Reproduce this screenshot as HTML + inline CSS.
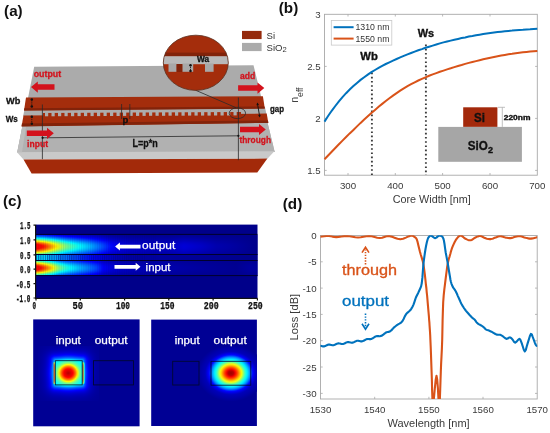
<!DOCTYPE html>
<html><head><meta charset="utf-8"><title>Figure</title>
<style>html,body{margin:0;padding:0;background:#fff;}svg{display:block;}</style>
</head><body>
<svg width="550" height="433" viewBox="0 0 550 433">
<rect width="550" height="433" fill="#fff"/>
<polygon fill="#ababab" points="34.2,66.7 253.5,65.3 274.7,152 17.2,152.4"/>
<polygon fill="#b1b1b1" points="22.9,124 267.1,121 274.7,152 17.2,152.4"/>
<polygon fill="#bdbdbd" points="22.3,126.3 26.2,126.1 22.0,152.2 17.3,152.4"/>
<polygon fill="#c9c9c9" points="17.2,152.4 274.4,151.2 267.4,158.8 23.5,159.6"/>
<polygon fill="#a32a0a" points="23.5,159.4 267.4,158.6 257.3,172.4 31.6,173.6"/>
<polygon fill="#adadad" points="24.5,109.5 265,107.5 266.5,114.5 23,116.5"/>
<polygon fill="#a42d0c" points="26,97.6 262.9,96.3 264.8,108.5 24,110.4"/>
<polygon fill="#82230a" points="24.3,108.2 264.5,106.5 264.8,108.6 24,110.5"/>
<polygon fill="#a42d0c" points="23.5,115.6 266.7,113.6 268.3,122.8 21.6,126.3"/>
<polygon fill="#82230a" points="21.9,123.6 268,120.4 268.3,122.9 21.6,126.4"/>
<polygon fill="#a42d0c" points="43,112.9 241,112.0 241,115.0 43,116.0"/>
<rect x="45.0" y="112.1" width="3.2" height="4.2" fill="#adadad"/>
<rect x="51.5" y="112.1" width="3.2" height="4.2" fill="#adadad"/>
<rect x="58.0" y="112.0" width="3.2" height="4.2" fill="#adadad"/>
<rect x="64.5" y="112.0" width="3.2" height="4.2" fill="#adadad"/>
<rect x="71.0" y="112.0" width="3.2" height="4.2" fill="#adadad"/>
<rect x="77.5" y="111.9" width="3.2" height="4.2" fill="#adadad"/>
<rect x="84.0" y="111.9" width="3.2" height="4.2" fill="#adadad"/>
<rect x="90.5" y="111.9" width="3.2" height="4.2" fill="#adadad"/>
<rect x="97.0" y="111.9" width="3.2" height="4.2" fill="#adadad"/>
<rect x="103.5" y="111.8" width="3.2" height="4.2" fill="#adadad"/>
<rect x="110.0" y="111.8" width="3.2" height="4.2" fill="#adadad"/>
<rect x="116.5" y="111.8" width="3.2" height="4.2" fill="#adadad"/>
<rect x="123.0" y="111.7" width="3.2" height="4.2" fill="#adadad"/>
<rect x="129.5" y="111.7" width="3.2" height="4.2" fill="#adadad"/>
<rect x="136.0" y="111.7" width="3.2" height="4.2" fill="#adadad"/>
<rect x="142.5" y="111.7" width="3.2" height="4.2" fill="#adadad"/>
<rect x="149.0" y="111.6" width="3.2" height="4.2" fill="#adadad"/>
<rect x="155.5" y="111.6" width="3.2" height="4.2" fill="#adadad"/>
<rect x="162.0" y="111.6" width="3.2" height="4.2" fill="#adadad"/>
<rect x="168.5" y="111.5" width="3.2" height="4.2" fill="#adadad"/>
<rect x="175.0" y="111.5" width="3.2" height="4.2" fill="#adadad"/>
<rect x="181.5" y="111.5" width="3.2" height="4.2" fill="#adadad"/>
<rect x="188.0" y="111.4" width="3.2" height="4.2" fill="#adadad"/>
<rect x="194.5" y="111.4" width="3.2" height="4.2" fill="#adadad"/>
<rect x="201.0" y="111.4" width="3.2" height="4.2" fill="#adadad"/>
<rect x="207.5" y="111.4" width="3.2" height="4.2" fill="#adadad"/>
<rect x="214.0" y="111.3" width="3.2" height="4.2" fill="#adadad"/>
<rect x="220.5" y="111.3" width="3.2" height="4.2" fill="#adadad"/>
<rect x="227.0" y="111.3" width="3.2" height="4.2" fill="#adadad"/>
<rect x="233.5" y="111.2" width="3.2" height="4.2" fill="#adadad"/>
<g stroke="#2a2a2a" stroke-width="0.8" fill="none">
<line x1="42.4" y1="104.5" x2="42.4" y2="159.2"/>
<line x1="238.4" y1="97.5" x2="238.4" y2="160.2"/>
<line x1="42.6" y1="137.8" x2="238.6" y2="135.8"/>
<line x1="195.5" y1="90.2" x2="236" y2="107.7"/>
<ellipse cx="237.4" cy="113.2" rx="8.2" ry="5.4"/>
<line x1="121.6" y1="104" x2="121.6" y2="119"/>
<line x1="129.8" y1="104" x2="129.8" y2="119"/>
</g>
<circle cx="42.6" cy="137.8" r="1.1" fill="#111"/>
<circle cx="238.4" cy="135.8" r="1.1" fill="#111"/>
<line x1="31.8" y1="99.6" x2="31.8" y2="106.6" stroke="#111" stroke-width="1" stroke-dasharray="1 1"/><circle cx="31.8" cy="99.6" r="1.25" fill="#111"/><circle cx="31.8" cy="106.6" r="1.25" fill="#111"/>
<line x1="31.8" y1="116.8" x2="31.8" y2="123.8" stroke="#111" stroke-width="1" stroke-dasharray="1 1"/><circle cx="31.8" cy="116.8" r="1.25" fill="#111"/><circle cx="31.8" cy="123.8" r="1.25" fill="#111"/>
<line x1="257.5" y1="103.9" x2="259.6" y2="116.1" stroke="#111" stroke-width="0.9"/>
<polygon fill="#111" points="257.3,102.4 256.4,105.2 259.0,104.8"/>
<polygon fill="#111" points="259.8,117.6 258.1,115.2 260.7,114.8"/>
<defs><clipPath id="zc"><ellipse cx="195.8" cy="62.8" rx="32.5" ry="27.6"/></clipPath></defs>
<g clip-path="url(#zc)">
<rect x="163" y="35" width="66" height="56" fill="#a42d0c"/>
<rect x="163" y="52.6" width="66" height="3.6" fill="#82230a"/>
<rect x="163" y="56.2" width="66" height="8" fill="#b9b9b9"/>
<rect x="168.5" y="63.5" width="8.1" height="8.3" fill="#a8a8a8"/>
<rect x="182.3" y="63.5" width="10.9" height="8.3" fill="#a8a8a8"/>
<rect x="205.0" y="63.5" width="8.6" height="8.3" fill="#a8a8a8"/>
<rect x="176.6" y="64" width="5.7" height="8" fill="#82230a"/>
</g>
<ellipse cx="195.8" cy="62.8" rx="32.5" ry="27.6" fill="none" stroke="#5a3020" stroke-width="0.8"/>
<line x1="190.5" y1="65.2" x2="190.5" y2="71.0" stroke="#111" stroke-width="1" stroke-dasharray="1 1"/><circle cx="190.5" cy="65.2" r="1.25" fill="#111"/><circle cx="190.5" cy="71.0" r="1.25" fill="#111"/>
<rect x="242" y="30.9" width="19.6" height="8.2" fill="#952a0c"/>
<rect x="242" y="42.9" width="19.6" height="8.2" fill="#ababab"/>
<polygon fill="#d3121c" points="54.5,84.3 37.8,84.3 37.8,81.5 31.0,87.1 37.8,92.7 37.8,89.8 54.5,89.8"/>
<polygon fill="#d3121c" points="238.1,85.3 257.5,85.3 257.5,82.5 264.3,88.1 257.5,93.7 257.5,90.8 238.1,90.8"/>
<polygon fill="#d3121c" points="26.8,130.6 47.0,130.6 47.0,127.7 53.8,133.3 47.0,138.9 47.0,136.1 26.8,136.1"/>
<polygon fill="#d3121c" points="240.0,126.8 259.0,126.8 259.0,123.9 265.8,129.5 259.0,135.1 259.0,132.2 240.0,132.2"/>
<g font-family="Liberation Sans, Arial, sans-serif" font-weight="bold" fill="#d3121c" stroke="#d3121c" stroke-width="0.3" font-size="9.6">
<text x="33.7" y="76.9" textLength="27.4" lengthAdjust="spacingAndGlyphs">output</text>
<text x="240" y="79" textLength="15.3" lengthAdjust="spacingAndGlyphs">add</text>
<text x="27.1" y="146.8" textLength="20.9" lengthAdjust="spacingAndGlyphs">input</text>
<text x="239.4" y="143" textLength="31.6" lengthAdjust="spacingAndGlyphs">through</text>
</g>
<g font-family="Liberation Sans, Arial, sans-serif" font-weight="bold" fill="#111" stroke="#111" stroke-width="0.3" font-size="9.6">
<text x="6.1" y="104.3" textLength="14.3" lengthAdjust="spacingAndGlyphs">Wb</text>
<text x="5.7" y="122.0" textLength="12.1" lengthAdjust="spacingAndGlyphs">Ws</text>
<text x="270" y="111.5" textLength="14" lengthAdjust="spacingAndGlyphs">gap</text>
<text x="132.6" y="147.4" font-size="10.6" textLength="25.2" lengthAdjust="spacingAndGlyphs">L=p*n</text>
<text x="122.6" y="122.9" font-size="9.5">p</text>
<text x="196.9" y="62" font-size="8.5" textLength="12.1" lengthAdjust="spacingAndGlyphs">Wa</text>
</g>
<g font-family="Liberation Sans, Arial, sans-serif" fill="#333" font-size="9.6">
<text x="266.5" y="39.2">Si</text>
<text x="266.5" y="51.2">SiO<tspan font-size="7.6" dy="0.6">2</tspan></text>
</g>
<text x="4.1" y="15.9" font-family="Liberation Sans, Arial, sans-serif" font-weight="bold" font-size="15.2" fill="#111">(a)</text>
<rect x="324.5" y="14.3" width="212.8" height="160.9" fill="#fff" stroke="#a8a8a8" stroke-width="0.9"/>
<path d="M348.0 175.2V173.0M348.0 14.3V16.5M395.3 175.2V173.0M395.3 14.3V16.5M442.6 175.2V173.0M442.6 14.3V16.5M490.0 175.2V173.0M490.0 14.3V16.5M324.5 170.4H326.7M537.3 170.4H535.1M324.5 118.4H326.7M537.3 118.4H535.1M324.5 66.4H326.7M537.3 66.4H535.1" stroke="#a8a8a8" stroke-width="0.8" fill="none"/>
<g stroke="#3c3c3c" stroke-width="1.9" stroke-dasharray="1.6 2.6">
<line x1="371.9" y1="72.6" x2="371.9" y2="175"/>
<line x1="425.9" y1="44.6" x2="425.9" y2="175"/>
</g>
<path d="M324.5 121.6L328.1 116.0L331.7 110.8L335.3 106.0L338.9 101.4L342.5 97.2L346.1 93.2L349.7 89.5L353.4 86.1L357.0 82.9L360.6 79.9L364.2 77.2L367.8 74.6L371.4 72.2L375.0 70.0L378.6 67.9L382.2 65.9L385.8 64.0L389.4 62.3L393.0 60.6L396.6 59.0L400.2 57.4L403.8 55.9L407.5 54.4L411.1 53.0L414.7 51.6L418.3 50.3L421.9 49.1L425.5 47.8L429.1 46.7L432.7 45.6L436.3 44.5L439.9 43.4L443.5 42.4L447.1 41.5L450.7 40.6L454.3 39.7L458.0 38.9L461.6 38.1L465.2 37.4L468.8 36.6L472.4 36.0L476.0 35.3L479.6 34.7L483.2 34.1L486.8 33.6L490.4 33.1L494.0 32.6L497.6 32.1L501.2 31.7L504.8 31.3L508.4 30.9L512.1 30.6L515.7 30.2L519.3 29.9L522.9 29.7L526.5 29.4L530.1 29.2L533.7 28.9L537.3 28.7" stroke="#0072bd" stroke-width="2" fill="none"/>
<path d="M324.5 159.2L328.1 155.5L331.7 151.7L335.3 148.0L338.9 144.3L342.5 140.6L346.1 137.0L349.7 133.4L353.4 129.9L357.0 126.4L360.6 122.9L364.2 119.6L367.8 116.3L371.4 113.0L375.0 109.9L378.6 106.8L382.2 103.9L385.8 101.0L389.4 98.3L393.0 95.6L396.6 93.1L400.2 90.7L403.8 88.4L407.5 86.2L411.1 84.2L414.7 82.3L418.3 80.5L421.9 78.9L425.5 77.3L429.1 75.8L432.7 74.4L436.3 73.1L439.9 71.8L443.5 70.6L447.1 69.4L450.7 68.3L454.3 67.1L458.0 66.0L461.6 65.0L465.2 63.9L468.8 62.9L472.4 62.0L476.0 61.1L479.6 60.2L483.2 59.3L486.8 58.5L490.4 57.7L494.0 57.0L497.6 56.3L501.2 55.6L504.8 54.9L508.4 54.3L512.1 53.8L515.7 53.2L519.3 52.7L522.9 52.3L526.5 51.9L530.1 51.5L533.7 51.2L537.3 50.9" stroke="#d95319" stroke-width="2" fill="none"/>
<rect x="331.3" y="20.5" width="60.5" height="24.6" fill="#fff" stroke="#c8c8c8" stroke-width="0.8"/>
<line x1="333.6" y1="27.2" x2="353.6" y2="27.2" stroke="#0072bd" stroke-width="2"/>
<line x1="333.6" y1="38.6" x2="353.6" y2="38.6" stroke="#d95319" stroke-width="2"/>
<g font-family="Liberation Sans, Arial, sans-serif" font-size="9" fill="#333">
<text x="355.5" y="30.4" textLength="34" lengthAdjust="spacingAndGlyphs">1310 nm</text>
<text x="355.5" y="41.8" textLength="34" lengthAdjust="spacingAndGlyphs">1550 nm</text>
</g>
<rect x="463.2" y="107.3" width="34.2" height="19.6" fill="#a3290b"/>
<rect x="438.3" y="126.9" width="83.6" height="34.9" fill="#a6a6a6"/>
<path d="M498 107.3H505M502.3 107.3V126.9" stroke="#b0b0b0" stroke-width="0.8" fill="none"/>
<g font-family="Liberation Sans, Arial, sans-serif" font-weight="bold" fill="#111" stroke="#111" stroke-width="0.35">
<text x="474.1" y="121.5" font-size="12.3" textLength="10.9" lengthAdjust="spacingAndGlyphs">Si</text>
<text x="467.7" y="150" font-size="12.7" textLength="20" lengthAdjust="spacingAndGlyphs">SiO</text>
<text x="488" y="153" font-size="9">2</text>
<text x="503.7" y="119.6" font-size="8" textLength="26.8" lengthAdjust="spacingAndGlyphs">220nm</text>
<text x="360.3" y="59.5" font-size="11" textLength="17.5" lengthAdjust="spacingAndGlyphs">Wb</text>
<text x="417.7" y="36.9" font-size="11.2" textLength="16.4" lengthAdjust="spacingAndGlyphs">Ws</text>
</g>
<g font-family="Liberation Sans, Arial, sans-serif" font-size="9.7" fill="#3a3a3a">
<text x="348.0" y="189" text-anchor="middle">300</text>
<text x="395.3" y="189" text-anchor="middle">400</text>
<text x="442.6" y="189" text-anchor="middle">500</text>
<text x="490.0" y="189" text-anchor="middle">600</text>
<text x="537.3" y="189" text-anchor="middle">700</text>
<text x="320.6" y="173.8" text-anchor="end">1.5</text>
<text x="320.6" y="121.8" text-anchor="end">2</text>
<text x="320.6" y="69.8" text-anchor="end">2.5</text>
<text x="320.6" y="17.8" text-anchor="end">3</text>
</g>
<text x="431.7" y="203" text-anchor="middle" font-family="Liberation Sans, Arial, sans-serif" font-size="10.8" fill="#3a3a3a">Core Width [nm]</text>
<text transform="translate(297.9,102.8) rotate(-90)" font-family="Liberation Sans, Arial, sans-serif" font-size="10.6" fill="#404040">n<tspan font-size="8.6" dy="4.8">eff</tspan></text>
<text x="278.8" y="12.6" font-family="Liberation Sans, Arial, sans-serif" font-weight="bold" font-size="15.2" fill="#111">(b)</text>
<rect x="36.0" y="224.6" width="221.5" height="73.7" fill="#00008a"/>
<defs><linearGradient id="r0" gradientUnits="userSpaceOnUse" x1="36.0" x2="257.5" y1="0" y2="0"><stop offset="0.000" stop-color="#003cff"/><stop offset="0.007" stop-color="#0039ff"/><stop offset="0.014" stop-color="#0036ff"/><stop offset="0.020" stop-color="#0033ff"/><stop offset="0.027" stop-color="#0030ff"/><stop offset="0.036" stop-color="#002cff"/><stop offset="0.045" stop-color="#0025ff"/><stop offset="0.054" stop-color="#001fff"/><stop offset="0.063" stop-color="#0018ff"/><stop offset="0.077" stop-color="#000eff"/><stop offset="0.090" stop-color="#0005ff"/><stop offset="0.104" stop-color="#0000fb"/><stop offset="0.117" stop-color="#0000f2"/><stop offset="0.135" stop-color="#0000e7"/><stop offset="0.153" stop-color="#0000e0"/><stop offset="0.172" stop-color="#0000d9"/><stop offset="0.194" stop-color="#0000d1"/><stop offset="0.217" stop-color="#0000ca"/><stop offset="0.244" stop-color="#0000c2"/><stop offset="0.271" stop-color="#0000b8"/><stop offset="0.302" stop-color="#0000ae"/><stop offset="0.339" stop-color="#0000a1"/><stop offset="0.379" stop-color="#00009b"/><stop offset="0.424" stop-color="#000097"/><stop offset="0.474" stop-color="#000096"/><stop offset="0.533" stop-color="#000094"/><stop offset="0.596" stop-color="#000094"/><stop offset="0.668" stop-color="#000098"/><stop offset="0.745" stop-color="#000095"/><stop offset="0.813" stop-color="#000090"/><stop offset="0.858" stop-color="#00008f"/><stop offset="0.903" stop-color="#00008e"/><stop offset="0.971" stop-color="#00008b"/><stop offset="1.000" stop-color="#00008a"/></linearGradient><linearGradient id="r1" gradientUnits="userSpaceOnUse" x1="36.0" x2="257.5" y1="0" y2="0"><stop offset="0.000" stop-color="#0078ff"/><stop offset="0.007" stop-color="#0074ff"/><stop offset="0.014" stop-color="#0070ff"/><stop offset="0.020" stop-color="#006cff"/><stop offset="0.027" stop-color="#0068ff"/><stop offset="0.036" stop-color="#0062ff"/><stop offset="0.045" stop-color="#0059ff"/><stop offset="0.054" stop-color="#0051ff"/><stop offset="0.063" stop-color="#0048ff"/><stop offset="0.077" stop-color="#003bff"/><stop offset="0.090" stop-color="#002eff"/><stop offset="0.104" stop-color="#0022ff"/><stop offset="0.117" stop-color="#0016ff"/><stop offset="0.135" stop-color="#0008ff"/><stop offset="0.153" stop-color="#0000fd"/><stop offset="0.172" stop-color="#0000f4"/><stop offset="0.194" stop-color="#0000e9"/><stop offset="0.217" stop-color="#0000e0"/><stop offset="0.244" stop-color="#0000d4"/><stop offset="0.271" stop-color="#0000c8"/><stop offset="0.302" stop-color="#0000ba"/><stop offset="0.339" stop-color="#0000a8"/><stop offset="0.379" stop-color="#0000a1"/><stop offset="0.424" stop-color="#00009c"/><stop offset="0.474" stop-color="#00009a"/><stop offset="0.533" stop-color="#000098"/><stop offset="0.596" stop-color="#000097"/><stop offset="0.668" stop-color="#00009d"/><stop offset="0.745" stop-color="#000098"/><stop offset="0.813" stop-color="#000093"/><stop offset="0.858" stop-color="#000091"/><stop offset="0.903" stop-color="#00008f"/><stop offset="0.971" stop-color="#00008b"/><stop offset="1.000" stop-color="#00008a"/></linearGradient><linearGradient id="r2" gradientUnits="userSpaceOnUse" x1="36.0" x2="257.5" y1="0" y2="0"><stop offset="0.000" stop-color="#00bfff"/><stop offset="0.007" stop-color="#00baff"/><stop offset="0.014" stop-color="#00b5ff"/><stop offset="0.020" stop-color="#00afff"/><stop offset="0.027" stop-color="#00aaff"/><stop offset="0.036" stop-color="#00a3ff"/><stop offset="0.045" stop-color="#0097ff"/><stop offset="0.054" stop-color="#008cff"/><stop offset="0.063" stop-color="#0081ff"/><stop offset="0.077" stop-color="#006fff"/><stop offset="0.090" stop-color="#005fff"/><stop offset="0.104" stop-color="#004fff"/><stop offset="0.117" stop-color="#0040ff"/><stop offset="0.135" stop-color="#002dff"/><stop offset="0.153" stop-color="#0021ff"/><stop offset="0.172" stop-color="#0014ff"/><stop offset="0.194" stop-color="#0007ff"/><stop offset="0.217" stop-color="#0000fa"/><stop offset="0.244" stop-color="#0000eb"/><stop offset="0.271" stop-color="#0000db"/><stop offset="0.302" stop-color="#0000c9"/><stop offset="0.339" stop-color="#0000b2"/><stop offset="0.379" stop-color="#0000a8"/><stop offset="0.424" stop-color="#0000a1"/><stop offset="0.474" stop-color="#00009e"/><stop offset="0.533" stop-color="#00009c"/><stop offset="0.596" stop-color="#00009b"/><stop offset="0.668" stop-color="#0000a3"/><stop offset="0.745" stop-color="#00009d"/><stop offset="0.813" stop-color="#000095"/><stop offset="0.858" stop-color="#000093"/><stop offset="0.903" stop-color="#000091"/><stop offset="0.971" stop-color="#00008c"/><stop offset="1.000" stop-color="#00008a"/></linearGradient><linearGradient id="r3" gradientUnits="userSpaceOnUse" x1="36.0" x2="257.5" y1="0" y2="0"><stop offset="0.000" stop-color="#12ffed"/><stop offset="0.007" stop-color="#0cfff3"/><stop offset="0.014" stop-color="#05fffa"/><stop offset="0.020" stop-color="#00fdff"/><stop offset="0.027" stop-color="#00f6ff"/><stop offset="0.036" stop-color="#00edff"/><stop offset="0.045" stop-color="#00dfff"/><stop offset="0.054" stop-color="#00d0ff"/><stop offset="0.063" stop-color="#00c2ff"/><stop offset="0.077" stop-color="#00acff"/><stop offset="0.090" stop-color="#0097ff"/><stop offset="0.104" stop-color="#0084ff"/><stop offset="0.117" stop-color="#0070ff"/><stop offset="0.135" stop-color="#0059ff"/><stop offset="0.153" stop-color="#0049ff"/><stop offset="0.172" stop-color="#0039ff"/><stop offset="0.194" stop-color="#0028ff"/><stop offset="0.217" stop-color="#0018ff"/><stop offset="0.244" stop-color="#0006ff"/><stop offset="0.271" stop-color="#0000f1"/><stop offset="0.302" stop-color="#0000d9"/><stop offset="0.339" stop-color="#0000bc"/><stop offset="0.379" stop-color="#0000af"/><stop offset="0.424" stop-color="#0000a7"/><stop offset="0.474" stop-color="#0000a4"/><stop offset="0.533" stop-color="#0000a1"/><stop offset="0.596" stop-color="#0000a0"/><stop offset="0.668" stop-color="#0000aa"/><stop offset="0.745" stop-color="#0000a2"/><stop offset="0.813" stop-color="#000098"/><stop offset="0.858" stop-color="#000096"/><stop offset="0.903" stop-color="#000093"/><stop offset="0.971" stop-color="#00008d"/><stop offset="1.000" stop-color="#00008a"/></linearGradient><linearGradient id="r4" gradientUnits="userSpaceOnUse" x1="36.0" x2="257.5" y1="0" y2="0"><stop offset="0.000" stop-color="#6dff92"/><stop offset="0.007" stop-color="#64ff9b"/><stop offset="0.014" stop-color="#5cffa3"/><stop offset="0.020" stop-color="#53ffac"/><stop offset="0.027" stop-color="#4bffb4"/><stop offset="0.036" stop-color="#40ffbf"/><stop offset="0.045" stop-color="#2effd1"/><stop offset="0.054" stop-color="#1cffe3"/><stop offset="0.063" stop-color="#0bfff4"/><stop offset="0.077" stop-color="#00efff"/><stop offset="0.090" stop-color="#00d5ff"/><stop offset="0.104" stop-color="#00bdff"/><stop offset="0.117" stop-color="#00a5ff"/><stop offset="0.135" stop-color="#0088ff"/><stop offset="0.153" stop-color="#0075ff"/><stop offset="0.172" stop-color="#0061ff"/><stop offset="0.194" stop-color="#004cff"/><stop offset="0.217" stop-color="#0039ff"/><stop offset="0.244" stop-color="#0022ff"/><stop offset="0.271" stop-color="#0009ff"/><stop offset="0.302" stop-color="#0000ec"/><stop offset="0.339" stop-color="#0000c8"/><stop offset="0.379" stop-color="#0000b8"/><stop offset="0.424" stop-color="#0000ae"/><stop offset="0.474" stop-color="#0000aa"/><stop offset="0.533" stop-color="#0000a7"/><stop offset="0.596" stop-color="#0000a5"/><stop offset="0.668" stop-color="#0000b1"/><stop offset="0.745" stop-color="#0000a8"/><stop offset="0.813" stop-color="#00009c"/><stop offset="0.858" stop-color="#000099"/><stop offset="0.903" stop-color="#000095"/><stop offset="0.971" stop-color="#00008d"/><stop offset="1.000" stop-color="#00008a"/></linearGradient><linearGradient id="r5" gradientUnits="userSpaceOnUse" x1="36.0" x2="257.5" y1="0" y2="0"><stop offset="0.000" stop-color="#cbff34"/><stop offset="0.007" stop-color="#c1ff3e"/><stop offset="0.014" stop-color="#b7ff48"/><stop offset="0.020" stop-color="#adff52"/><stop offset="0.027" stop-color="#a3ff5c"/><stop offset="0.036" stop-color="#96ff69"/><stop offset="0.045" stop-color="#81ff7e"/><stop offset="0.054" stop-color="#6bff94"/><stop offset="0.063" stop-color="#56ffa9"/><stop offset="0.077" stop-color="#36ffc9"/><stop offset="0.090" stop-color="#17ffe8"/><stop offset="0.104" stop-color="#00f9ff"/><stop offset="0.117" stop-color="#00ddff"/><stop offset="0.135" stop-color="#00baff"/><stop offset="0.153" stop-color="#00a3ff"/><stop offset="0.172" stop-color="#008bff"/><stop offset="0.194" stop-color="#0072ff"/><stop offset="0.217" stop-color="#005bff"/><stop offset="0.244" stop-color="#0040ff"/><stop offset="0.271" stop-color="#0022ff"/><stop offset="0.302" stop-color="#0000ff"/><stop offset="0.339" stop-color="#0000d4"/><stop offset="0.379" stop-color="#0000c1"/><stop offset="0.424" stop-color="#0000b5"/><stop offset="0.474" stop-color="#0000b0"/><stop offset="0.533" stop-color="#0000ad"/><stop offset="0.596" stop-color="#0000aa"/><stop offset="0.668" stop-color="#0000b9"/><stop offset="0.745" stop-color="#0000ad"/><stop offset="0.813" stop-color="#00009f"/><stop offset="0.858" stop-color="#00009c"/><stop offset="0.903" stop-color="#000097"/><stop offset="0.971" stop-color="#00008e"/><stop offset="1.000" stop-color="#00008a"/></linearGradient><linearGradient id="r6" gradientUnits="userSpaceOnUse" x1="36.0" x2="257.5" y1="0" y2="0"><stop offset="0.000" stop-color="#ffd400"/><stop offset="0.007" stop-color="#ffe000"/><stop offset="0.014" stop-color="#ffeb00"/><stop offset="0.020" stop-color="#fff700"/><stop offset="0.027" stop-color="#fbff04"/><stop offset="0.036" stop-color="#ecff13"/><stop offset="0.045" stop-color="#d3ff2c"/><stop offset="0.054" stop-color="#baff45"/><stop offset="0.063" stop-color="#a1ff5e"/><stop offset="0.077" stop-color="#7cff83"/><stop offset="0.090" stop-color="#58ffa7"/><stop offset="0.104" stop-color="#37ffc8"/><stop offset="0.117" stop-color="#15ffea"/><stop offset="0.135" stop-color="#00ecff"/><stop offset="0.153" stop-color="#00d1ff"/><stop offset="0.172" stop-color="#00b6ff"/><stop offset="0.194" stop-color="#0098ff"/><stop offset="0.217" stop-color="#007eff"/><stop offset="0.244" stop-color="#005eff"/><stop offset="0.271" stop-color="#003bff"/><stop offset="0.302" stop-color="#0013ff"/><stop offset="0.339" stop-color="#0000e1"/><stop offset="0.379" stop-color="#0000ca"/><stop offset="0.424" stop-color="#0000bc"/><stop offset="0.474" stop-color="#0000b7"/><stop offset="0.533" stop-color="#0000b2"/><stop offset="0.596" stop-color="#0000af"/><stop offset="0.668" stop-color="#0000c0"/><stop offset="0.745" stop-color="#0000b3"/><stop offset="0.813" stop-color="#0000a3"/><stop offset="0.858" stop-color="#00009f"/><stop offset="0.903" stop-color="#000099"/><stop offset="0.971" stop-color="#00008f"/><stop offset="1.000" stop-color="#00008a"/></linearGradient><linearGradient id="r7" gradientUnits="userSpaceOnUse" x1="36.0" x2="257.5" y1="0" y2="0"><stop offset="0.000" stop-color="#ff7b00"/><stop offset="0.007" stop-color="#ff8800"/><stop offset="0.014" stop-color="#ff9500"/><stop offset="0.020" stop-color="#ffa300"/><stop offset="0.027" stop-color="#ffb000"/><stop offset="0.036" stop-color="#ffc100"/><stop offset="0.045" stop-color="#ffde00"/><stop offset="0.054" stop-color="#fffa00"/><stop offset="0.063" stop-color="#e8ff17"/><stop offset="0.077" stop-color="#beff41"/><stop offset="0.090" stop-color="#95ff6a"/><stop offset="0.104" stop-color="#6fff90"/><stop offset="0.117" stop-color="#49ffb6"/><stop offset="0.135" stop-color="#1cffe3"/><stop offset="0.153" stop-color="#00fcff"/><stop offset="0.172" stop-color="#00ddff"/><stop offset="0.194" stop-color="#00bcff"/><stop offset="0.217" stop-color="#009eff"/><stop offset="0.244" stop-color="#007aff"/><stop offset="0.271" stop-color="#0053ff"/><stop offset="0.302" stop-color="#0025ff"/><stop offset="0.339" stop-color="#0000ec"/><stop offset="0.379" stop-color="#0000d3"/><stop offset="0.424" stop-color="#0000c3"/><stop offset="0.474" stop-color="#0000bc"/><stop offset="0.533" stop-color="#0000b8"/><stop offset="0.596" stop-color="#0000b4"/><stop offset="0.668" stop-color="#0000c8"/><stop offset="0.745" stop-color="#0000b9"/><stop offset="0.813" stop-color="#0000a6"/><stop offset="0.858" stop-color="#0000a1"/><stop offset="0.903" stop-color="#00009b"/><stop offset="0.971" stop-color="#00008f"/><stop offset="1.000" stop-color="#00008a"/></linearGradient><linearGradient id="r8" gradientUnits="userSpaceOnUse" x1="36.0" x2="257.5" y1="0" y2="0"><stop offset="0.000" stop-color="#ff2e00"/><stop offset="0.007" stop-color="#ff3c00"/><stop offset="0.014" stop-color="#ff4b00"/><stop offset="0.020" stop-color="#ff5900"/><stop offset="0.027" stop-color="#ff6800"/><stop offset="0.036" stop-color="#ff7b00"/><stop offset="0.045" stop-color="#ff9a00"/><stop offset="0.054" stop-color="#ffb900"/><stop offset="0.063" stop-color="#ffd800"/><stop offset="0.077" stop-color="#f7ff08"/><stop offset="0.090" stop-color="#caff35"/><stop offset="0.104" stop-color="#a1ff5e"/><stop offset="0.117" stop-color="#77ff88"/><stop offset="0.135" stop-color="#44ffbb"/><stop offset="0.153" stop-color="#23ffdc"/><stop offset="0.172" stop-color="#01fffe"/><stop offset="0.194" stop-color="#00dbff"/><stop offset="0.217" stop-color="#00baff"/><stop offset="0.244" stop-color="#0092ff"/><stop offset="0.271" stop-color="#0067ff"/><stop offset="0.302" stop-color="#0035ff"/><stop offset="0.339" stop-color="#0000f6"/><stop offset="0.379" stop-color="#0000da"/><stop offset="0.424" stop-color="#0000c9"/><stop offset="0.474" stop-color="#0000c2"/><stop offset="0.533" stop-color="#0000bc"/><stop offset="0.596" stop-color="#0000b9"/><stop offset="0.668" stop-color="#0000ce"/><stop offset="0.745" stop-color="#0000be"/><stop offset="0.813" stop-color="#0000a9"/><stop offset="0.858" stop-color="#0000a4"/><stop offset="0.903" stop-color="#00009d"/><stop offset="0.971" stop-color="#000090"/><stop offset="1.000" stop-color="#00008a"/></linearGradient><linearGradient id="r9" gradientUnits="userSpaceOnUse" x1="36.0" x2="257.5" y1="0" y2="0"><stop offset="0.000" stop-color="#ff0500"/><stop offset="0.007" stop-color="#ff0500"/><stop offset="0.014" stop-color="#ff1100"/><stop offset="0.020" stop-color="#ff2100"/><stop offset="0.027" stop-color="#ff3000"/><stop offset="0.036" stop-color="#ff4500"/><stop offset="0.045" stop-color="#ff6600"/><stop offset="0.054" stop-color="#ff8700"/><stop offset="0.063" stop-color="#ffa900"/><stop offset="0.077" stop-color="#ffda00"/><stop offset="0.090" stop-color="#f4ff0b"/><stop offset="0.104" stop-color="#c7ff38"/><stop offset="0.117" stop-color="#9aff65"/><stop offset="0.135" stop-color="#64ff9b"/><stop offset="0.153" stop-color="#40ffbf"/><stop offset="0.172" stop-color="#1cffe3"/><stop offset="0.194" stop-color="#00f3ff"/><stop offset="0.217" stop-color="#00d0ff"/><stop offset="0.244" stop-color="#00a5ff"/><stop offset="0.271" stop-color="#0077ff"/><stop offset="0.302" stop-color="#0041ff"/><stop offset="0.339" stop-color="#0000fe"/><stop offset="0.379" stop-color="#0000e0"/><stop offset="0.424" stop-color="#0000cd"/><stop offset="0.474" stop-color="#0000c6"/><stop offset="0.533" stop-color="#0000c0"/><stop offset="0.596" stop-color="#0000bc"/><stop offset="0.668" stop-color="#0000d3"/><stop offset="0.745" stop-color="#0000c1"/><stop offset="0.813" stop-color="#0000ac"/><stop offset="0.858" stop-color="#0000a6"/><stop offset="0.903" stop-color="#00009e"/><stop offset="0.971" stop-color="#000090"/><stop offset="1.000" stop-color="#00008a"/></linearGradient><linearGradient id="r10" gradientUnits="userSpaceOnUse" x1="36.0" x2="257.5" y1="0" y2="0"><stop offset="0.000" stop-color="#ff0500"/><stop offset="0.007" stop-color="#ff0500"/><stop offset="0.014" stop-color="#ff0500"/><stop offset="0.020" stop-color="#ff0500"/><stop offset="0.027" stop-color="#ff0d00"/><stop offset="0.036" stop-color="#ff2200"/><stop offset="0.045" stop-color="#ff4500"/><stop offset="0.054" stop-color="#ff6800"/><stop offset="0.063" stop-color="#ff8a00"/><stop offset="0.077" stop-color="#ffbe00"/><stop offset="0.090" stop-color="#fff000"/><stop offset="0.104" stop-color="#dfff20"/><stop offset="0.117" stop-color="#b0ff4f"/><stop offset="0.135" stop-color="#78ff87"/><stop offset="0.153" stop-color="#52ffad"/><stop offset="0.172" stop-color="#2dffd2"/><stop offset="0.194" stop-color="#03fffc"/><stop offset="0.217" stop-color="#00ddff"/><stop offset="0.244" stop-color="#00b1ff"/><stop offset="0.271" stop-color="#0081ff"/><stop offset="0.302" stop-color="#0049ff"/><stop offset="0.339" stop-color="#0004ff"/><stop offset="0.379" stop-color="#0000e4"/><stop offset="0.424" stop-color="#0000d0"/><stop offset="0.474" stop-color="#0000c8"/><stop offset="0.533" stop-color="#0000c2"/><stop offset="0.596" stop-color="#0000be"/><stop offset="0.668" stop-color="#0000d6"/><stop offset="0.745" stop-color="#0000c4"/><stop offset="0.813" stop-color="#0000ad"/><stop offset="0.858" stop-color="#0000a7"/><stop offset="0.903" stop-color="#00009f"/><stop offset="0.971" stop-color="#000090"/><stop offset="1.000" stop-color="#00008a"/></linearGradient><linearGradient id="r11" gradientUnits="userSpaceOnUse" x1="36.0" x2="257.5" y1="0" y2="0"><stop offset="0.000" stop-color="#ff0500"/><stop offset="0.007" stop-color="#ff0500"/><stop offset="0.014" stop-color="#ff0500"/><stop offset="0.020" stop-color="#ff0500"/><stop offset="0.027" stop-color="#ff0500"/><stop offset="0.036" stop-color="#ff1700"/><stop offset="0.045" stop-color="#ff3a00"/><stop offset="0.054" stop-color="#ff5d00"/><stop offset="0.063" stop-color="#ff8000"/><stop offset="0.077" stop-color="#ffb500"/><stop offset="0.090" stop-color="#ffe700"/><stop offset="0.104" stop-color="#e7ff18"/><stop offset="0.117" stop-color="#b8ff47"/><stop offset="0.135" stop-color="#7fff80"/><stop offset="0.153" stop-color="#59ffa6"/><stop offset="0.172" stop-color="#32ffcd"/><stop offset="0.194" stop-color="#09fff6"/><stop offset="0.217" stop-color="#00e2ff"/><stop offset="0.244" stop-color="#00b5ff"/><stop offset="0.271" stop-color="#0084ff"/><stop offset="0.302" stop-color="#004cff"/><stop offset="0.339" stop-color="#0006ff"/><stop offset="0.379" stop-color="#0000e5"/><stop offset="0.424" stop-color="#0000d1"/><stop offset="0.474" stop-color="#0000c9"/><stop offset="0.533" stop-color="#0000c3"/><stop offset="0.596" stop-color="#0000bf"/><stop offset="0.668" stop-color="#0000d7"/><stop offset="0.745" stop-color="#0000c5"/><stop offset="0.813" stop-color="#0000ae"/><stop offset="0.858" stop-color="#0000a7"/><stop offset="0.903" stop-color="#00009f"/><stop offset="0.971" stop-color="#000091"/><stop offset="1.000" stop-color="#00008a"/></linearGradient><linearGradient id="r12" gradientUnits="userSpaceOnUse" x1="36.0" x2="257.5" y1="0" y2="0"><stop offset="0.000" stop-color="#ff0500"/><stop offset="0.007" stop-color="#ff0500"/><stop offset="0.014" stop-color="#ff0500"/><stop offset="0.020" stop-color="#ff0500"/><stop offset="0.027" stop-color="#ff0a00"/><stop offset="0.036" stop-color="#ff2000"/><stop offset="0.045" stop-color="#ff4300"/><stop offset="0.054" stop-color="#ff6600"/><stop offset="0.063" stop-color="#ff8800"/><stop offset="0.077" stop-color="#ffbc00"/><stop offset="0.090" stop-color="#ffef00"/><stop offset="0.104" stop-color="#e1ff1e"/><stop offset="0.117" stop-color="#b2ff4d"/><stop offset="0.135" stop-color="#79ff86"/><stop offset="0.153" stop-color="#54ffab"/><stop offset="0.172" stop-color="#2effd1"/><stop offset="0.194" stop-color="#04fffb"/><stop offset="0.217" stop-color="#00deff"/><stop offset="0.244" stop-color="#00b2ff"/><stop offset="0.271" stop-color="#0082ff"/><stop offset="0.302" stop-color="#004aff"/><stop offset="0.339" stop-color="#0004ff"/><stop offset="0.379" stop-color="#0000e4"/><stop offset="0.424" stop-color="#0000d0"/><stop offset="0.474" stop-color="#0000c8"/><stop offset="0.533" stop-color="#0000c2"/><stop offset="0.596" stop-color="#0000be"/><stop offset="0.668" stop-color="#0000d6"/><stop offset="0.745" stop-color="#0000c4"/><stop offset="0.813" stop-color="#0000ad"/><stop offset="0.858" stop-color="#0000a7"/><stop offset="0.903" stop-color="#00009f"/><stop offset="0.971" stop-color="#000090"/><stop offset="1.000" stop-color="#00008a"/></linearGradient><linearGradient id="r13" gradientUnits="userSpaceOnUse" x1="36.0" x2="257.5" y1="0" y2="0"><stop offset="0.000" stop-color="#ff0500"/><stop offset="0.007" stop-color="#ff0500"/><stop offset="0.014" stop-color="#ff0700"/><stop offset="0.020" stop-color="#ff1700"/><stop offset="0.027" stop-color="#ff2700"/><stop offset="0.036" stop-color="#ff3c00"/><stop offset="0.045" stop-color="#ff5d00"/><stop offset="0.054" stop-color="#ff7f00"/><stop offset="0.063" stop-color="#ffa100"/><stop offset="0.077" stop-color="#ffd300"/><stop offset="0.090" stop-color="#faff05"/><stop offset="0.104" stop-color="#cdff32"/><stop offset="0.117" stop-color="#a0ff5f"/><stop offset="0.135" stop-color="#69ff96"/><stop offset="0.153" stop-color="#45ffba"/><stop offset="0.172" stop-color="#20ffdf"/><stop offset="0.194" stop-color="#00f7ff"/><stop offset="0.217" stop-color="#00d3ff"/><stop offset="0.244" stop-color="#00a8ff"/><stop offset="0.271" stop-color="#007aff"/><stop offset="0.302" stop-color="#0043ff"/><stop offset="0.339" stop-color="#0000ff"/><stop offset="0.379" stop-color="#0000e1"/><stop offset="0.424" stop-color="#0000ce"/><stop offset="0.474" stop-color="#0000c6"/><stop offset="0.533" stop-color="#0000c1"/><stop offset="0.596" stop-color="#0000bd"/><stop offset="0.668" stop-color="#0000d4"/><stop offset="0.745" stop-color="#0000c2"/><stop offset="0.813" stop-color="#0000ac"/><stop offset="0.858" stop-color="#0000a6"/><stop offset="0.903" stop-color="#00009e"/><stop offset="0.971" stop-color="#000090"/><stop offset="1.000" stop-color="#00008a"/></linearGradient><linearGradient id="r14" gradientUnits="userSpaceOnUse" x1="36.0" x2="257.5" y1="0" y2="0"><stop offset="0.000" stop-color="#ff1900"/><stop offset="0.007" stop-color="#ff2800"/><stop offset="0.014" stop-color="#ff3700"/><stop offset="0.020" stop-color="#ff4600"/><stop offset="0.027" stop-color="#ff5400"/><stop offset="0.036" stop-color="#ff6800"/><stop offset="0.045" stop-color="#ff8800"/><stop offset="0.054" stop-color="#ffa800"/><stop offset="0.063" stop-color="#ffc800"/><stop offset="0.077" stop-color="#fff700"/><stop offset="0.090" stop-color="#d9ff26"/><stop offset="0.104" stop-color="#aeff51"/><stop offset="0.117" stop-color="#83ff7c"/><stop offset="0.135" stop-color="#50ffaf"/><stop offset="0.153" stop-color="#2dffd2"/><stop offset="0.172" stop-color="#0afff5"/><stop offset="0.194" stop-color="#00e3ff"/><stop offset="0.217" stop-color="#00c1ff"/><stop offset="0.244" stop-color="#0099ff"/><stop offset="0.271" stop-color="#006dff"/><stop offset="0.302" stop-color="#0039ff"/><stop offset="0.339" stop-color="#0000f9"/><stop offset="0.379" stop-color="#0000dc"/><stop offset="0.424" stop-color="#0000ca"/><stop offset="0.474" stop-color="#0000c3"/><stop offset="0.533" stop-color="#0000be"/><stop offset="0.596" stop-color="#0000ba"/><stop offset="0.668" stop-color="#0000d0"/><stop offset="0.745" stop-color="#0000bf"/><stop offset="0.813" stop-color="#0000aa"/><stop offset="0.858" stop-color="#0000a4"/><stop offset="0.903" stop-color="#00009d"/><stop offset="0.971" stop-color="#000090"/><stop offset="1.000" stop-color="#00008a"/></linearGradient><linearGradient id="r15" gradientUnits="userSpaceOnUse" x1="36.0" x2="257.5" y1="0" y2="0"><stop offset="0.000" stop-color="#ff5900"/><stop offset="0.007" stop-color="#ff6700"/><stop offset="0.014" stop-color="#ff7400"/><stop offset="0.020" stop-color="#ff8200"/><stop offset="0.027" stop-color="#ff9000"/><stop offset="0.036" stop-color="#ffa200"/><stop offset="0.045" stop-color="#ffc000"/><stop offset="0.054" stop-color="#ffdd00"/><stop offset="0.063" stop-color="#fffa00"/><stop offset="0.077" stop-color="#d7ff28"/><stop offset="0.090" stop-color="#adff52"/><stop offset="0.104" stop-color="#85ff7a"/><stop offset="0.117" stop-color="#5dffa2"/><stop offset="0.135" stop-color="#2effd1"/><stop offset="0.153" stop-color="#0efff1"/><stop offset="0.172" stop-color="#00edff"/><stop offset="0.194" stop-color="#00caff"/><stop offset="0.217" stop-color="#00aaff"/><stop offset="0.244" stop-color="#0084ff"/><stop offset="0.271" stop-color="#005cff"/><stop offset="0.302" stop-color="#002cff"/><stop offset="0.339" stop-color="#0000f1"/><stop offset="0.379" stop-color="#0000d6"/><stop offset="0.424" stop-color="#0000c6"/><stop offset="0.474" stop-color="#0000bf"/><stop offset="0.533" stop-color="#0000ba"/><stop offset="0.596" stop-color="#0000b6"/><stop offset="0.668" stop-color="#0000ca"/><stop offset="0.745" stop-color="#0000bb"/><stop offset="0.813" stop-color="#0000a8"/><stop offset="0.858" stop-color="#0000a2"/><stop offset="0.903" stop-color="#00009c"/><stop offset="0.971" stop-color="#00008f"/><stop offset="1.000" stop-color="#00008a"/></linearGradient><linearGradient id="r16" gradientUnits="userSpaceOnUse" x1="36.0" x2="257.5" y1="0" y2="0"><stop offset="0.000" stop-color="#ffa400"/><stop offset="0.007" stop-color="#ffb100"/><stop offset="0.014" stop-color="#ffbd00"/><stop offset="0.020" stop-color="#ffca00"/><stop offset="0.027" stop-color="#ffd600"/><stop offset="0.036" stop-color="#ffe700"/><stop offset="0.045" stop-color="#fdff02"/><stop offset="0.054" stop-color="#e2ff1d"/><stop offset="0.063" stop-color="#c8ff37"/><stop offset="0.077" stop-color="#a0ff5f"/><stop offset="0.090" stop-color="#79ff86"/><stop offset="0.104" stop-color="#55ffaa"/><stop offset="0.117" stop-color="#31ffce"/><stop offset="0.135" stop-color="#06fff9"/><stop offset="0.153" stop-color="#00e8ff"/><stop offset="0.172" stop-color="#00cbff"/><stop offset="0.194" stop-color="#00abff"/><stop offset="0.217" stop-color="#008fff"/><stop offset="0.244" stop-color="#006dff"/><stop offset="0.271" stop-color="#0048ff"/><stop offset="0.302" stop-color="#001dff"/><stop offset="0.339" stop-color="#0000e7"/><stop offset="0.379" stop-color="#0000cf"/><stop offset="0.424" stop-color="#0000c0"/><stop offset="0.474" stop-color="#0000ba"/><stop offset="0.533" stop-color="#0000b5"/><stop offset="0.596" stop-color="#0000b2"/><stop offset="0.668" stop-color="#0000c4"/><stop offset="0.745" stop-color="#0000b6"/><stop offset="0.813" stop-color="#0000a5"/><stop offset="0.858" stop-color="#0000a0"/><stop offset="0.903" stop-color="#00009a"/><stop offset="0.971" stop-color="#00008f"/><stop offset="1.000" stop-color="#00008a"/></linearGradient><linearGradient id="r17" gradientUnits="userSpaceOnUse" x1="36.0" x2="257.5" y1="0" y2="0"><stop offset="0.000" stop-color="#fff700"/><stop offset="0.007" stop-color="#fcff03"/><stop offset="0.014" stop-color="#f1ff0e"/><stop offset="0.020" stop-color="#e6ff19"/><stop offset="0.027" stop-color="#dbff24"/><stop offset="0.036" stop-color="#cdff32"/><stop offset="0.045" stop-color="#b5ff4a"/><stop offset="0.054" stop-color="#9dff62"/><stop offset="0.063" stop-color="#86ff79"/><stop offset="0.077" stop-color="#63ff9c"/><stop offset="0.090" stop-color="#40ffbf"/><stop offset="0.104" stop-color="#21ffde"/><stop offset="0.117" stop-color="#01fffe"/><stop offset="0.135" stop-color="#00daff"/><stop offset="0.153" stop-color="#00c0ff"/><stop offset="0.172" stop-color="#00a6ff"/><stop offset="0.194" stop-color="#008aff"/><stop offset="0.217" stop-color="#0071ff"/><stop offset="0.244" stop-color="#0053ff"/><stop offset="0.271" stop-color="#0032ff"/><stop offset="0.302" stop-color="#000cff"/><stop offset="0.339" stop-color="#0000dc"/><stop offset="0.379" stop-color="#0000c7"/><stop offset="0.424" stop-color="#0000ba"/><stop offset="0.474" stop-color="#0000b4"/><stop offset="0.533" stop-color="#0000b0"/><stop offset="0.596" stop-color="#0000ad"/><stop offset="0.668" stop-color="#0000be"/><stop offset="0.745" stop-color="#0000b1"/><stop offset="0.813" stop-color="#0000a2"/><stop offset="0.858" stop-color="#00009d"/><stop offset="0.903" stop-color="#000098"/><stop offset="0.971" stop-color="#00008e"/><stop offset="1.000" stop-color="#00008a"/></linearGradient><linearGradient id="r18" gradientUnits="userSpaceOnUse" x1="36.0" x2="257.5" y1="0" y2="0"><stop offset="0.000" stop-color="#b2ff4d"/><stop offset="0.007" stop-color="#a9ff56"/><stop offset="0.014" stop-color="#9fff60"/><stop offset="0.020" stop-color="#95ff6a"/><stop offset="0.027" stop-color="#8cff73"/><stop offset="0.036" stop-color="#7fff80"/><stop offset="0.045" stop-color="#6bff94"/><stop offset="0.054" stop-color="#56ffa9"/><stop offset="0.063" stop-color="#42ffbd"/><stop offset="0.077" stop-color="#23ffdc"/><stop offset="0.090" stop-color="#06fff9"/><stop offset="0.104" stop-color="#00e9ff"/><stop offset="0.117" stop-color="#00ceff"/><stop offset="0.135" stop-color="#00adff"/><stop offset="0.153" stop-color="#0097ff"/><stop offset="0.172" stop-color="#0080ff"/><stop offset="0.194" stop-color="#0068ff"/><stop offset="0.217" stop-color="#0052ff"/><stop offset="0.244" stop-color="#0038ff"/><stop offset="0.271" stop-color="#001cff"/><stop offset="0.302" stop-color="#0000fa"/><stop offset="0.339" stop-color="#0000d1"/><stop offset="0.379" stop-color="#0000bf"/><stop offset="0.424" stop-color="#0000b3"/><stop offset="0.474" stop-color="#0000af"/><stop offset="0.533" stop-color="#0000ab"/><stop offset="0.596" stop-color="#0000a9"/><stop offset="0.668" stop-color="#0000b7"/><stop offset="0.745" stop-color="#0000ac"/><stop offset="0.813" stop-color="#00009f"/><stop offset="0.858" stop-color="#00009b"/><stop offset="0.903" stop-color="#000096"/><stop offset="0.971" stop-color="#00008e"/><stop offset="1.000" stop-color="#00008a"/></linearGradient><linearGradient id="r19" gradientUnits="userSpaceOnUse" x1="36.0" x2="257.5" y1="0" y2="0"><stop offset="0.000" stop-color="#00008a"/><stop offset="0.007" stop-color="#00008a"/><stop offset="0.014" stop-color="#00008a"/><stop offset="0.020" stop-color="#00008a"/><stop offset="0.027" stop-color="#00008a"/><stop offset="0.036" stop-color="#00008a"/><stop offset="0.045" stop-color="#00008a"/><stop offset="0.054" stop-color="#00008a"/><stop offset="0.063" stop-color="#00008a"/><stop offset="0.077" stop-color="#00008a"/><stop offset="0.090" stop-color="#00008a"/><stop offset="0.104" stop-color="#00008a"/><stop offset="0.117" stop-color="#00008a"/><stop offset="0.135" stop-color="#00008a"/><stop offset="0.153" stop-color="#00008a"/><stop offset="0.172" stop-color="#00008a"/><stop offset="0.194" stop-color="#00008a"/><stop offset="0.217" stop-color="#00008a"/><stop offset="0.244" stop-color="#00008a"/><stop offset="0.271" stop-color="#00008a"/><stop offset="0.302" stop-color="#00008a"/><stop offset="0.339" stop-color="#00008a"/><stop offset="0.379" stop-color="#00008a"/><stop offset="0.424" stop-color="#00008a"/><stop offset="0.474" stop-color="#00008a"/><stop offset="0.533" stop-color="#00008a"/><stop offset="0.596" stop-color="#00008a"/><stop offset="0.668" stop-color="#00008a"/><stop offset="0.745" stop-color="#00008a"/><stop offset="0.813" stop-color="#00008a"/><stop offset="0.858" stop-color="#00008a"/><stop offset="0.903" stop-color="#00008a"/><stop offset="0.971" stop-color="#00008a"/><stop offset="1.000" stop-color="#00008a"/></linearGradient><linearGradient id="r20" gradientUnits="userSpaceOnUse" x1="36.0" x2="257.5" y1="0" y2="0"><stop offset="0.000" stop-color="#00fbff"/><stop offset="0.007" stop-color="#00f6ff"/><stop offset="0.014" stop-color="#00f1ff"/><stop offset="0.020" stop-color="#00ebff"/><stop offset="0.027" stop-color="#00e6ff"/><stop offset="0.036" stop-color="#00dfff"/><stop offset="0.045" stop-color="#00d8ff"/><stop offset="0.054" stop-color="#00cfff"/><stop offset="0.063" stop-color="#00c5ff"/><stop offset="0.077" stop-color="#00b7ff"/><stop offset="0.090" stop-color="#00a9ff"/><stop offset="0.104" stop-color="#009bff"/><stop offset="0.117" stop-color="#008dff"/><stop offset="0.135" stop-color="#007aff"/><stop offset="0.153" stop-color="#0068ff"/><stop offset="0.172" stop-color="#0055ff"/><stop offset="0.194" stop-color="#003eff"/><stop offset="0.217" stop-color="#0026ff"/><stop offset="0.244" stop-color="#000aff"/><stop offset="0.271" stop-color="#0000f3"/><stop offset="0.302" stop-color="#0000da"/><stop offset="0.339" stop-color="#0000c5"/><stop offset="0.379" stop-color="#0000b1"/><stop offset="0.424" stop-color="#0000a3"/><stop offset="0.474" stop-color="#0000a1"/><stop offset="0.533" stop-color="#00009e"/><stop offset="0.596" stop-color="#00009c"/><stop offset="0.668" stop-color="#000098"/><stop offset="0.745" stop-color="#000095"/><stop offset="0.813" stop-color="#000092"/><stop offset="0.858" stop-color="#000090"/><stop offset="0.903" stop-color="#00008e"/><stop offset="0.971" stop-color="#00008b"/><stop offset="1.000" stop-color="#00008a"/></linearGradient><linearGradient id="r21" gradientUnits="userSpaceOnUse" x1="36.0" x2="257.5" y1="0" y2="0"><stop offset="0.000" stop-color="#00fbff"/><stop offset="0.007" stop-color="#00f6ff"/><stop offset="0.014" stop-color="#00f1ff"/><stop offset="0.020" stop-color="#00ebff"/><stop offset="0.027" stop-color="#00e6ff"/><stop offset="0.036" stop-color="#00dfff"/><stop offset="0.045" stop-color="#00d8ff"/><stop offset="0.054" stop-color="#00cfff"/><stop offset="0.063" stop-color="#00c5ff"/><stop offset="0.077" stop-color="#00b7ff"/><stop offset="0.090" stop-color="#00a9ff"/><stop offset="0.104" stop-color="#009bff"/><stop offset="0.117" stop-color="#008dff"/><stop offset="0.135" stop-color="#007aff"/><stop offset="0.153" stop-color="#0068ff"/><stop offset="0.172" stop-color="#0055ff"/><stop offset="0.194" stop-color="#003eff"/><stop offset="0.217" stop-color="#0026ff"/><stop offset="0.244" stop-color="#000aff"/><stop offset="0.271" stop-color="#0000f3"/><stop offset="0.302" stop-color="#0000da"/><stop offset="0.339" stop-color="#0000c5"/><stop offset="0.379" stop-color="#0000b1"/><stop offset="0.424" stop-color="#0000a3"/><stop offset="0.474" stop-color="#0000a1"/><stop offset="0.533" stop-color="#00009e"/><stop offset="0.596" stop-color="#00009c"/><stop offset="0.668" stop-color="#000098"/><stop offset="0.745" stop-color="#000095"/><stop offset="0.813" stop-color="#000092"/><stop offset="0.858" stop-color="#000090"/><stop offset="0.903" stop-color="#00008e"/><stop offset="0.971" stop-color="#00008b"/><stop offset="1.000" stop-color="#00008a"/></linearGradient><linearGradient id="r22" gradientUnits="userSpaceOnUse" x1="36.0" x2="257.5" y1="0" y2="0"><stop offset="0.000" stop-color="#00fbff"/><stop offset="0.007" stop-color="#00f6ff"/><stop offset="0.014" stop-color="#00f1ff"/><stop offset="0.020" stop-color="#00ebff"/><stop offset="0.027" stop-color="#00e6ff"/><stop offset="0.036" stop-color="#00dfff"/><stop offset="0.045" stop-color="#00d8ff"/><stop offset="0.054" stop-color="#00cfff"/><stop offset="0.063" stop-color="#00c5ff"/><stop offset="0.077" stop-color="#00b7ff"/><stop offset="0.090" stop-color="#00a9ff"/><stop offset="0.104" stop-color="#009bff"/><stop offset="0.117" stop-color="#008dff"/><stop offset="0.135" stop-color="#007aff"/><stop offset="0.153" stop-color="#0068ff"/><stop offset="0.172" stop-color="#0055ff"/><stop offset="0.194" stop-color="#003eff"/><stop offset="0.217" stop-color="#0026ff"/><stop offset="0.244" stop-color="#000aff"/><stop offset="0.271" stop-color="#0000f3"/><stop offset="0.302" stop-color="#0000da"/><stop offset="0.339" stop-color="#0000c5"/><stop offset="0.379" stop-color="#0000b1"/><stop offset="0.424" stop-color="#0000a3"/><stop offset="0.474" stop-color="#0000a1"/><stop offset="0.533" stop-color="#00009e"/><stop offset="0.596" stop-color="#00009c"/><stop offset="0.668" stop-color="#000098"/><stop offset="0.745" stop-color="#000095"/><stop offset="0.813" stop-color="#000092"/><stop offset="0.858" stop-color="#000090"/><stop offset="0.903" stop-color="#00008e"/><stop offset="0.971" stop-color="#00008b"/><stop offset="1.000" stop-color="#00008a"/></linearGradient><linearGradient id="r23" gradientUnits="userSpaceOnUse" x1="36.0" x2="257.5" y1="0" y2="0"><stop offset="0.000" stop-color="#00fbff"/><stop offset="0.007" stop-color="#00f6ff"/><stop offset="0.014" stop-color="#00f1ff"/><stop offset="0.020" stop-color="#00ebff"/><stop offset="0.027" stop-color="#00e6ff"/><stop offset="0.036" stop-color="#00dfff"/><stop offset="0.045" stop-color="#00d8ff"/><stop offset="0.054" stop-color="#00cfff"/><stop offset="0.063" stop-color="#00c5ff"/><stop offset="0.077" stop-color="#00b7ff"/><stop offset="0.090" stop-color="#00a9ff"/><stop offset="0.104" stop-color="#009bff"/><stop offset="0.117" stop-color="#008dff"/><stop offset="0.135" stop-color="#007aff"/><stop offset="0.153" stop-color="#0068ff"/><stop offset="0.172" stop-color="#0055ff"/><stop offset="0.194" stop-color="#003eff"/><stop offset="0.217" stop-color="#0026ff"/><stop offset="0.244" stop-color="#000aff"/><stop offset="0.271" stop-color="#0000f3"/><stop offset="0.302" stop-color="#0000da"/><stop offset="0.339" stop-color="#0000c5"/><stop offset="0.379" stop-color="#0000b1"/><stop offset="0.424" stop-color="#0000a3"/><stop offset="0.474" stop-color="#0000a1"/><stop offset="0.533" stop-color="#00009e"/><stop offset="0.596" stop-color="#00009c"/><stop offset="0.668" stop-color="#000098"/><stop offset="0.745" stop-color="#000095"/><stop offset="0.813" stop-color="#000092"/><stop offset="0.858" stop-color="#000090"/><stop offset="0.903" stop-color="#00008e"/><stop offset="0.971" stop-color="#00008b"/><stop offset="1.000" stop-color="#00008a"/></linearGradient><linearGradient id="r24" gradientUnits="userSpaceOnUse" x1="36.0" x2="257.5" y1="0" y2="0"><stop offset="0.000" stop-color="#00fbff"/><stop offset="0.007" stop-color="#00f6ff"/><stop offset="0.014" stop-color="#00f1ff"/><stop offset="0.020" stop-color="#00ebff"/><stop offset="0.027" stop-color="#00e6ff"/><stop offset="0.036" stop-color="#00dfff"/><stop offset="0.045" stop-color="#00d8ff"/><stop offset="0.054" stop-color="#00cfff"/><stop offset="0.063" stop-color="#00c5ff"/><stop offset="0.077" stop-color="#00b7ff"/><stop offset="0.090" stop-color="#00a9ff"/><stop offset="0.104" stop-color="#009bff"/><stop offset="0.117" stop-color="#008dff"/><stop offset="0.135" stop-color="#007aff"/><stop offset="0.153" stop-color="#0068ff"/><stop offset="0.172" stop-color="#0055ff"/><stop offset="0.194" stop-color="#003eff"/><stop offset="0.217" stop-color="#0026ff"/><stop offset="0.244" stop-color="#000aff"/><stop offset="0.271" stop-color="#0000f3"/><stop offset="0.302" stop-color="#0000da"/><stop offset="0.339" stop-color="#0000c5"/><stop offset="0.379" stop-color="#0000b1"/><stop offset="0.424" stop-color="#0000a3"/><stop offset="0.474" stop-color="#0000a1"/><stop offset="0.533" stop-color="#00009e"/><stop offset="0.596" stop-color="#00009c"/><stop offset="0.668" stop-color="#000098"/><stop offset="0.745" stop-color="#000095"/><stop offset="0.813" stop-color="#000092"/><stop offset="0.858" stop-color="#000090"/><stop offset="0.903" stop-color="#00008e"/><stop offset="0.971" stop-color="#00008b"/><stop offset="1.000" stop-color="#00008a"/></linearGradient><linearGradient id="r25" gradientUnits="userSpaceOnUse" x1="36.0" x2="257.5" y1="0" y2="0"><stop offset="0.000" stop-color="#00008a"/><stop offset="0.007" stop-color="#00008a"/><stop offset="0.014" stop-color="#00008a"/><stop offset="0.020" stop-color="#00008a"/><stop offset="0.027" stop-color="#00008a"/><stop offset="0.036" stop-color="#00008a"/><stop offset="0.045" stop-color="#00008a"/><stop offset="0.054" stop-color="#00008a"/><stop offset="0.063" stop-color="#00008a"/><stop offset="0.077" stop-color="#00008a"/><stop offset="0.090" stop-color="#00008a"/><stop offset="0.104" stop-color="#00008a"/><stop offset="0.117" stop-color="#00008a"/><stop offset="0.135" stop-color="#00008a"/><stop offset="0.153" stop-color="#00008a"/><stop offset="0.172" stop-color="#00008a"/><stop offset="0.194" stop-color="#00008a"/><stop offset="0.217" stop-color="#00008a"/><stop offset="0.244" stop-color="#00008a"/><stop offset="0.271" stop-color="#00008a"/><stop offset="0.302" stop-color="#00008a"/><stop offset="0.339" stop-color="#00008a"/><stop offset="0.379" stop-color="#00008a"/><stop offset="0.424" stop-color="#00008a"/><stop offset="0.474" stop-color="#00008a"/><stop offset="0.533" stop-color="#00008a"/><stop offset="0.596" stop-color="#00008a"/><stop offset="0.668" stop-color="#00008a"/><stop offset="0.745" stop-color="#00008a"/><stop offset="0.813" stop-color="#00008a"/><stop offset="0.858" stop-color="#00008a"/><stop offset="0.903" stop-color="#00008a"/><stop offset="0.971" stop-color="#00008a"/><stop offset="1.000" stop-color="#00008a"/></linearGradient><linearGradient id="r26" gradientUnits="userSpaceOnUse" x1="36.0" x2="257.5" y1="0" y2="0"><stop offset="0.000" stop-color="#75ff8a"/><stop offset="0.007" stop-color="#6aff95"/><stop offset="0.014" stop-color="#5fffa0"/><stop offset="0.020" stop-color="#53ffac"/><stop offset="0.027" stop-color="#48ffb7"/><stop offset="0.036" stop-color="#34ffcb"/><stop offset="0.045" stop-color="#20ffdf"/><stop offset="0.054" stop-color="#0cfff3"/><stop offset="0.063" stop-color="#00f7ff"/><stop offset="0.077" stop-color="#00d7ff"/><stop offset="0.090" stop-color="#00b1ff"/><stop offset="0.104" stop-color="#008eff"/><stop offset="0.117" stop-color="#007bff"/><stop offset="0.135" stop-color="#0062ff"/><stop offset="0.153" stop-color="#004fff"/><stop offset="0.172" stop-color="#003eff"/><stop offset="0.194" stop-color="#0029ff"/><stop offset="0.217" stop-color="#0017ff"/><stop offset="0.244" stop-color="#0003ff"/><stop offset="0.271" stop-color="#0000ed"/><stop offset="0.302" stop-color="#0000c6"/><stop offset="0.339" stop-color="#0000b4"/><stop offset="0.379" stop-color="#0000aa"/><stop offset="0.424" stop-color="#0000a5"/><stop offset="0.474" stop-color="#0000a1"/><stop offset="0.533" stop-color="#00009f"/><stop offset="0.596" stop-color="#00009b"/><stop offset="0.668" stop-color="#000098"/><stop offset="0.745" stop-color="#000094"/><stop offset="0.813" stop-color="#000091"/><stop offset="0.858" stop-color="#000090"/><stop offset="0.903" stop-color="#00008e"/><stop offset="0.971" stop-color="#000096"/><stop offset="1.000" stop-color="#000093"/></linearGradient><linearGradient id="r27" gradientUnits="userSpaceOnUse" x1="36.0" x2="257.5" y1="0" y2="0"><stop offset="0.000" stop-color="#daff25"/><stop offset="0.007" stop-color="#cdff32"/><stop offset="0.014" stop-color="#bfff40"/><stop offset="0.020" stop-color="#b1ff4e"/><stop offset="0.027" stop-color="#a4ff5b"/><stop offset="0.036" stop-color="#8cff73"/><stop offset="0.045" stop-color="#73ff8c"/><stop offset="0.054" stop-color="#5bffa4"/><stop offset="0.063" stop-color="#43ffbc"/><stop offset="0.077" stop-color="#1cffe3"/><stop offset="0.090" stop-color="#00eeff"/><stop offset="0.104" stop-color="#00c4ff"/><stop offset="0.117" stop-color="#00adff"/><stop offset="0.135" stop-color="#008eff"/><stop offset="0.153" stop-color="#0077ff"/><stop offset="0.172" stop-color="#0063ff"/><stop offset="0.194" stop-color="#004aff"/><stop offset="0.217" stop-color="#0034ff"/><stop offset="0.244" stop-color="#001cff"/><stop offset="0.271" stop-color="#0003ff"/><stop offset="0.302" stop-color="#0000d2"/><stop offset="0.339" stop-color="#0000bd"/><stop offset="0.379" stop-color="#0000b1"/><stop offset="0.424" stop-color="#0000ab"/><stop offset="0.474" stop-color="#0000a6"/><stop offset="0.533" stop-color="#0000a3"/><stop offset="0.596" stop-color="#00009f"/><stop offset="0.668" stop-color="#00009b"/><stop offset="0.745" stop-color="#000096"/><stop offset="0.813" stop-color="#000093"/><stop offset="0.858" stop-color="#000091"/><stop offset="0.903" stop-color="#00008f"/><stop offset="0.971" stop-color="#000098"/><stop offset="1.000" stop-color="#000095"/></linearGradient><linearGradient id="r28" gradientUnits="userSpaceOnUse" x1="36.0" x2="257.5" y1="0" y2="0"><stop offset="0.000" stop-color="#ffc000"/><stop offset="0.007" stop-color="#ffd000"/><stop offset="0.014" stop-color="#ffe000"/><stop offset="0.020" stop-color="#fff000"/><stop offset="0.027" stop-color="#feff01"/><stop offset="0.036" stop-color="#e2ff1d"/><stop offset="0.045" stop-color="#c6ff39"/><stop offset="0.054" stop-color="#aaff55"/><stop offset="0.063" stop-color="#8eff71"/><stop offset="0.077" stop-color="#60ff9f"/><stop offset="0.090" stop-color="#2bffd4"/><stop offset="0.104" stop-color="#00f9ff"/><stop offset="0.117" stop-color="#00deff"/><stop offset="0.135" stop-color="#00baff"/><stop offset="0.153" stop-color="#009fff"/><stop offset="0.172" stop-color="#0087ff"/><stop offset="0.194" stop-color="#006aff"/><stop offset="0.217" stop-color="#0051ff"/><stop offset="0.244" stop-color="#0034ff"/><stop offset="0.271" stop-color="#0017ff"/><stop offset="0.302" stop-color="#0000de"/><stop offset="0.339" stop-color="#0000c6"/><stop offset="0.379" stop-color="#0000b7"/><stop offset="0.424" stop-color="#0000b1"/><stop offset="0.474" stop-color="#0000ab"/><stop offset="0.533" stop-color="#0000a7"/><stop offset="0.596" stop-color="#0000a3"/><stop offset="0.668" stop-color="#00009e"/><stop offset="0.745" stop-color="#000098"/><stop offset="0.813" stop-color="#000095"/><stop offset="0.858" stop-color="#000092"/><stop offset="0.903" stop-color="#00008f"/><stop offset="0.971" stop-color="#00009a"/><stop offset="1.000" stop-color="#000097"/></linearGradient><linearGradient id="r29" gradientUnits="userSpaceOnUse" x1="36.0" x2="257.5" y1="0" y2="0"><stop offset="0.000" stop-color="#ff6400"/><stop offset="0.007" stop-color="#ff7600"/><stop offset="0.014" stop-color="#ff8800"/><stop offset="0.020" stop-color="#ff9a00"/><stop offset="0.027" stop-color="#ffac00"/><stop offset="0.036" stop-color="#ffcc00"/><stop offset="0.045" stop-color="#ffec00"/><stop offset="0.054" stop-color="#f2ff0d"/><stop offset="0.063" stop-color="#d2ff2d"/><stop offset="0.077" stop-color="#9eff61"/><stop offset="0.090" stop-color="#62ff9d"/><stop offset="0.104" stop-color="#2bffd4"/><stop offset="0.117" stop-color="#0cfff3"/><stop offset="0.135" stop-color="#00e2ff"/><stop offset="0.153" stop-color="#00c4ff"/><stop offset="0.172" stop-color="#00a9ff"/><stop offset="0.194" stop-color="#0088ff"/><stop offset="0.217" stop-color="#006bff"/><stop offset="0.244" stop-color="#004bff"/><stop offset="0.271" stop-color="#002aff"/><stop offset="0.302" stop-color="#0000ea"/><stop offset="0.339" stop-color="#0000ce"/><stop offset="0.379" stop-color="#0000bd"/><stop offset="0.424" stop-color="#0000b6"/><stop offset="0.474" stop-color="#0000b0"/><stop offset="0.533" stop-color="#0000ab"/><stop offset="0.596" stop-color="#0000a6"/><stop offset="0.668" stop-color="#0000a0"/><stop offset="0.745" stop-color="#00009a"/><stop offset="0.813" stop-color="#000096"/><stop offset="0.858" stop-color="#000093"/><stop offset="0.903" stop-color="#000090"/><stop offset="0.971" stop-color="#00009d"/><stop offset="1.000" stop-color="#000099"/></linearGradient><linearGradient id="r30" gradientUnits="userSpaceOnUse" x1="36.0" x2="257.5" y1="0" y2="0"><stop offset="0.000" stop-color="#ff1700"/><stop offset="0.007" stop-color="#ff2b00"/><stop offset="0.014" stop-color="#ff3f00"/><stop offset="0.020" stop-color="#ff5300"/><stop offset="0.027" stop-color="#ff6700"/><stop offset="0.036" stop-color="#ff8a00"/><stop offset="0.045" stop-color="#ffad00"/><stop offset="0.054" stop-color="#ffd000"/><stop offset="0.063" stop-color="#fff300"/><stop offset="0.077" stop-color="#d2ff2d"/><stop offset="0.090" stop-color="#90ff6f"/><stop offset="0.104" stop-color="#54ffab"/><stop offset="0.117" stop-color="#32ffcd"/><stop offset="0.135" stop-color="#05fffa"/><stop offset="0.153" stop-color="#00e3ff"/><stop offset="0.172" stop-color="#00c5ff"/><stop offset="0.194" stop-color="#00a1ff"/><stop offset="0.217" stop-color="#0081ff"/><stop offset="0.244" stop-color="#005eff"/><stop offset="0.271" stop-color="#003aff"/><stop offset="0.302" stop-color="#0000f3"/><stop offset="0.339" stop-color="#0000d4"/><stop offset="0.379" stop-color="#0000c2"/><stop offset="0.424" stop-color="#0000ba"/><stop offset="0.474" stop-color="#0000b3"/><stop offset="0.533" stop-color="#0000ae"/><stop offset="0.596" stop-color="#0000a9"/><stop offset="0.668" stop-color="#0000a2"/><stop offset="0.745" stop-color="#00009c"/><stop offset="0.813" stop-color="#000097"/><stop offset="0.858" stop-color="#000094"/><stop offset="0.903" stop-color="#000091"/><stop offset="0.971" stop-color="#00009f"/><stop offset="1.000" stop-color="#00009b"/></linearGradient><linearGradient id="r31" gradientUnits="userSpaceOnUse" x1="36.0" x2="257.5" y1="0" y2="0"><stop offset="0.000" stop-color="#ff0500"/><stop offset="0.007" stop-color="#ff0500"/><stop offset="0.014" stop-color="#ff0a00"/><stop offset="0.020" stop-color="#ff1f00"/><stop offset="0.027" stop-color="#ff3400"/><stop offset="0.036" stop-color="#ff5a00"/><stop offset="0.045" stop-color="#ff7f00"/><stop offset="0.054" stop-color="#ffa400"/><stop offset="0.063" stop-color="#ffc900"/><stop offset="0.077" stop-color="#f8ff07"/><stop offset="0.090" stop-color="#b2ff4d"/><stop offset="0.104" stop-color="#71ff8e"/><stop offset="0.117" stop-color="#4dffb2"/><stop offset="0.135" stop-color="#1dffe2"/><stop offset="0.153" stop-color="#00f9ff"/><stop offset="0.172" stop-color="#00daff"/><stop offset="0.194" stop-color="#00b2ff"/><stop offset="0.217" stop-color="#0091ff"/><stop offset="0.244" stop-color="#006bff"/><stop offset="0.271" stop-color="#0045ff"/><stop offset="0.302" stop-color="#0000fa"/><stop offset="0.339" stop-color="#0000d9"/><stop offset="0.379" stop-color="#0000c6"/><stop offset="0.424" stop-color="#0000bd"/><stop offset="0.474" stop-color="#0000b6"/><stop offset="0.533" stop-color="#0000b1"/><stop offset="0.596" stop-color="#0000ab"/><stop offset="0.668" stop-color="#0000a4"/><stop offset="0.745" stop-color="#00009d"/><stop offset="0.813" stop-color="#000098"/><stop offset="0.858" stop-color="#000095"/><stop offset="0.903" stop-color="#000091"/><stop offset="0.971" stop-color="#0000a0"/><stop offset="1.000" stop-color="#00009c"/></linearGradient><linearGradient id="r32" gradientUnits="userSpaceOnUse" x1="36.0" x2="257.5" y1="0" y2="0"><stop offset="0.000" stop-color="#ff0500"/><stop offset="0.007" stop-color="#ff0500"/><stop offset="0.014" stop-color="#ff0500"/><stop offset="0.020" stop-color="#ff0500"/><stop offset="0.027" stop-color="#ff1a00"/><stop offset="0.036" stop-color="#ff4000"/><stop offset="0.045" stop-color="#ff6700"/><stop offset="0.054" stop-color="#ff8d00"/><stop offset="0.063" stop-color="#ffb400"/><stop offset="0.077" stop-color="#fff200"/><stop offset="0.090" stop-color="#c3ff3c"/><stop offset="0.104" stop-color="#80ff7f"/><stop offset="0.117" stop-color="#5bffa4"/><stop offset="0.135" stop-color="#2affd5"/><stop offset="0.153" stop-color="#05fffa"/><stop offset="0.172" stop-color="#00e4ff"/><stop offset="0.194" stop-color="#00bcff"/><stop offset="0.217" stop-color="#009aff"/><stop offset="0.244" stop-color="#0072ff"/><stop offset="0.271" stop-color="#004bff"/><stop offset="0.302" stop-color="#0000fd"/><stop offset="0.339" stop-color="#0000dc"/><stop offset="0.379" stop-color="#0000c8"/><stop offset="0.424" stop-color="#0000bf"/><stop offset="0.474" stop-color="#0000b8"/><stop offset="0.533" stop-color="#0000b2"/><stop offset="0.596" stop-color="#0000ac"/><stop offset="0.668" stop-color="#0000a5"/><stop offset="0.745" stop-color="#00009e"/><stop offset="0.813" stop-color="#000098"/><stop offset="0.858" stop-color="#000095"/><stop offset="0.903" stop-color="#000091"/><stop offset="0.971" stop-color="#0000a1"/><stop offset="1.000" stop-color="#00009d"/></linearGradient><linearGradient id="r33" gradientUnits="userSpaceOnUse" x1="36.0" x2="257.5" y1="0" y2="0"><stop offset="0.000" stop-color="#ff0500"/><stop offset="0.007" stop-color="#ff0500"/><stop offset="0.014" stop-color="#ff0500"/><stop offset="0.020" stop-color="#ff0500"/><stop offset="0.027" stop-color="#ff1a00"/><stop offset="0.036" stop-color="#ff4000"/><stop offset="0.045" stop-color="#ff6700"/><stop offset="0.054" stop-color="#ff8d00"/><stop offset="0.063" stop-color="#ffb400"/><stop offset="0.077" stop-color="#fff200"/><stop offset="0.090" stop-color="#c3ff3c"/><stop offset="0.104" stop-color="#80ff7f"/><stop offset="0.117" stop-color="#5bffa4"/><stop offset="0.135" stop-color="#2affd5"/><stop offset="0.153" stop-color="#05fffa"/><stop offset="0.172" stop-color="#00e4ff"/><stop offset="0.194" stop-color="#00bcff"/><stop offset="0.217" stop-color="#009aff"/><stop offset="0.244" stop-color="#0072ff"/><stop offset="0.271" stop-color="#004bff"/><stop offset="0.302" stop-color="#0000fd"/><stop offset="0.339" stop-color="#0000dc"/><stop offset="0.379" stop-color="#0000c8"/><stop offset="0.424" stop-color="#0000bf"/><stop offset="0.474" stop-color="#0000b8"/><stop offset="0.533" stop-color="#0000b2"/><stop offset="0.596" stop-color="#0000ac"/><stop offset="0.668" stop-color="#0000a5"/><stop offset="0.745" stop-color="#00009e"/><stop offset="0.813" stop-color="#000098"/><stop offset="0.858" stop-color="#000095"/><stop offset="0.903" stop-color="#000091"/><stop offset="0.971" stop-color="#0000a1"/><stop offset="1.000" stop-color="#00009d"/></linearGradient><linearGradient id="r34" gradientUnits="userSpaceOnUse" x1="36.0" x2="257.5" y1="0" y2="0"><stop offset="0.000" stop-color="#ff0500"/><stop offset="0.007" stop-color="#ff0500"/><stop offset="0.014" stop-color="#ff0a00"/><stop offset="0.020" stop-color="#ff1f00"/><stop offset="0.027" stop-color="#ff3400"/><stop offset="0.036" stop-color="#ff5a00"/><stop offset="0.045" stop-color="#ff7f00"/><stop offset="0.054" stop-color="#ffa400"/><stop offset="0.063" stop-color="#ffc900"/><stop offset="0.077" stop-color="#f8ff07"/><stop offset="0.090" stop-color="#b2ff4d"/><stop offset="0.104" stop-color="#71ff8e"/><stop offset="0.117" stop-color="#4dffb2"/><stop offset="0.135" stop-color="#1dffe2"/><stop offset="0.153" stop-color="#00f9ff"/><stop offset="0.172" stop-color="#00daff"/><stop offset="0.194" stop-color="#00b2ff"/><stop offset="0.217" stop-color="#0091ff"/><stop offset="0.244" stop-color="#006bff"/><stop offset="0.271" stop-color="#0045ff"/><stop offset="0.302" stop-color="#0000fa"/><stop offset="0.339" stop-color="#0000d9"/><stop offset="0.379" stop-color="#0000c6"/><stop offset="0.424" stop-color="#0000bd"/><stop offset="0.474" stop-color="#0000b6"/><stop offset="0.533" stop-color="#0000b1"/><stop offset="0.596" stop-color="#0000ab"/><stop offset="0.668" stop-color="#0000a4"/><stop offset="0.745" stop-color="#00009d"/><stop offset="0.813" stop-color="#000098"/><stop offset="0.858" stop-color="#000095"/><stop offset="0.903" stop-color="#000091"/><stop offset="0.971" stop-color="#0000a0"/><stop offset="1.000" stop-color="#00009c"/></linearGradient><linearGradient id="r35" gradientUnits="userSpaceOnUse" x1="36.0" x2="257.5" y1="0" y2="0"><stop offset="0.000" stop-color="#ff1700"/><stop offset="0.007" stop-color="#ff2b00"/><stop offset="0.014" stop-color="#ff3f00"/><stop offset="0.020" stop-color="#ff5300"/><stop offset="0.027" stop-color="#ff6700"/><stop offset="0.036" stop-color="#ff8a00"/><stop offset="0.045" stop-color="#ffad00"/><stop offset="0.054" stop-color="#ffd000"/><stop offset="0.063" stop-color="#fff300"/><stop offset="0.077" stop-color="#d2ff2d"/><stop offset="0.090" stop-color="#90ff6f"/><stop offset="0.104" stop-color="#54ffab"/><stop offset="0.117" stop-color="#32ffcd"/><stop offset="0.135" stop-color="#05fffa"/><stop offset="0.153" stop-color="#00e3ff"/><stop offset="0.172" stop-color="#00c5ff"/><stop offset="0.194" stop-color="#00a1ff"/><stop offset="0.217" stop-color="#0081ff"/><stop offset="0.244" stop-color="#005eff"/><stop offset="0.271" stop-color="#003aff"/><stop offset="0.302" stop-color="#0000f3"/><stop offset="0.339" stop-color="#0000d4"/><stop offset="0.379" stop-color="#0000c2"/><stop offset="0.424" stop-color="#0000ba"/><stop offset="0.474" stop-color="#0000b3"/><stop offset="0.533" stop-color="#0000ae"/><stop offset="0.596" stop-color="#0000a9"/><stop offset="0.668" stop-color="#0000a2"/><stop offset="0.745" stop-color="#00009c"/><stop offset="0.813" stop-color="#000097"/><stop offset="0.858" stop-color="#000094"/><stop offset="0.903" stop-color="#000091"/><stop offset="0.971" stop-color="#00009f"/><stop offset="1.000" stop-color="#00009b"/></linearGradient><linearGradient id="r36" gradientUnits="userSpaceOnUse" x1="36.0" x2="257.5" y1="0" y2="0"><stop offset="0.000" stop-color="#ff6400"/><stop offset="0.007" stop-color="#ff7600"/><stop offset="0.014" stop-color="#ff8800"/><stop offset="0.020" stop-color="#ff9a00"/><stop offset="0.027" stop-color="#ffac00"/><stop offset="0.036" stop-color="#ffcc00"/><stop offset="0.045" stop-color="#ffec00"/><stop offset="0.054" stop-color="#f2ff0d"/><stop offset="0.063" stop-color="#d2ff2d"/><stop offset="0.077" stop-color="#9eff61"/><stop offset="0.090" stop-color="#62ff9d"/><stop offset="0.104" stop-color="#2bffd4"/><stop offset="0.117" stop-color="#0cfff3"/><stop offset="0.135" stop-color="#00e2ff"/><stop offset="0.153" stop-color="#00c4ff"/><stop offset="0.172" stop-color="#00a9ff"/><stop offset="0.194" stop-color="#0088ff"/><stop offset="0.217" stop-color="#006bff"/><stop offset="0.244" stop-color="#004bff"/><stop offset="0.271" stop-color="#002aff"/><stop offset="0.302" stop-color="#0000ea"/><stop offset="0.339" stop-color="#0000ce"/><stop offset="0.379" stop-color="#0000bd"/><stop offset="0.424" stop-color="#0000b6"/><stop offset="0.474" stop-color="#0000b0"/><stop offset="0.533" stop-color="#0000ab"/><stop offset="0.596" stop-color="#0000a6"/><stop offset="0.668" stop-color="#0000a0"/><stop offset="0.745" stop-color="#00009a"/><stop offset="0.813" stop-color="#000096"/><stop offset="0.858" stop-color="#000093"/><stop offset="0.903" stop-color="#000090"/><stop offset="0.971" stop-color="#00009d"/><stop offset="1.000" stop-color="#000099"/></linearGradient><linearGradient id="r37" gradientUnits="userSpaceOnUse" x1="36.0" x2="257.5" y1="0" y2="0"><stop offset="0.000" stop-color="#ffc000"/><stop offset="0.007" stop-color="#ffd000"/><stop offset="0.014" stop-color="#ffe000"/><stop offset="0.020" stop-color="#fff000"/><stop offset="0.027" stop-color="#feff01"/><stop offset="0.036" stop-color="#e2ff1d"/><stop offset="0.045" stop-color="#c6ff39"/><stop offset="0.054" stop-color="#aaff55"/><stop offset="0.063" stop-color="#8eff71"/><stop offset="0.077" stop-color="#60ff9f"/><stop offset="0.090" stop-color="#2bffd4"/><stop offset="0.104" stop-color="#00f9ff"/><stop offset="0.117" stop-color="#00deff"/><stop offset="0.135" stop-color="#00baff"/><stop offset="0.153" stop-color="#009fff"/><stop offset="0.172" stop-color="#0087ff"/><stop offset="0.194" stop-color="#006aff"/><stop offset="0.217" stop-color="#0051ff"/><stop offset="0.244" stop-color="#0034ff"/><stop offset="0.271" stop-color="#0017ff"/><stop offset="0.302" stop-color="#0000de"/><stop offset="0.339" stop-color="#0000c6"/><stop offset="0.379" stop-color="#0000b7"/><stop offset="0.424" stop-color="#0000b1"/><stop offset="0.474" stop-color="#0000ab"/><stop offset="0.533" stop-color="#0000a7"/><stop offset="0.596" stop-color="#0000a3"/><stop offset="0.668" stop-color="#00009e"/><stop offset="0.745" stop-color="#000098"/><stop offset="0.813" stop-color="#000095"/><stop offset="0.858" stop-color="#000092"/><stop offset="0.903" stop-color="#00008f"/><stop offset="0.971" stop-color="#00009a"/><stop offset="1.000" stop-color="#000097"/></linearGradient><linearGradient id="r38" gradientUnits="userSpaceOnUse" x1="36.0" x2="257.5" y1="0" y2="0"><stop offset="0.000" stop-color="#daff25"/><stop offset="0.007" stop-color="#cdff32"/><stop offset="0.014" stop-color="#bfff40"/><stop offset="0.020" stop-color="#b1ff4e"/><stop offset="0.027" stop-color="#a4ff5b"/><stop offset="0.036" stop-color="#8cff73"/><stop offset="0.045" stop-color="#73ff8c"/><stop offset="0.054" stop-color="#5bffa4"/><stop offset="0.063" stop-color="#43ffbc"/><stop offset="0.077" stop-color="#1cffe3"/><stop offset="0.090" stop-color="#00eeff"/><stop offset="0.104" stop-color="#00c4ff"/><stop offset="0.117" stop-color="#00adff"/><stop offset="0.135" stop-color="#008eff"/><stop offset="0.153" stop-color="#0077ff"/><stop offset="0.172" stop-color="#0063ff"/><stop offset="0.194" stop-color="#004aff"/><stop offset="0.217" stop-color="#0034ff"/><stop offset="0.244" stop-color="#001cff"/><stop offset="0.271" stop-color="#0003ff"/><stop offset="0.302" stop-color="#0000d2"/><stop offset="0.339" stop-color="#0000bd"/><stop offset="0.379" stop-color="#0000b1"/><stop offset="0.424" stop-color="#0000ab"/><stop offset="0.474" stop-color="#0000a6"/><stop offset="0.533" stop-color="#0000a3"/><stop offset="0.596" stop-color="#00009f"/><stop offset="0.668" stop-color="#00009b"/><stop offset="0.745" stop-color="#000096"/><stop offset="0.813" stop-color="#000093"/><stop offset="0.858" stop-color="#000091"/><stop offset="0.903" stop-color="#00008f"/><stop offset="0.971" stop-color="#000098"/><stop offset="1.000" stop-color="#000095"/></linearGradient><linearGradient id="r39" gradientUnits="userSpaceOnUse" x1="36.0" x2="257.5" y1="0" y2="0"><stop offset="0.000" stop-color="#75ff8a"/><stop offset="0.007" stop-color="#6aff95"/><stop offset="0.014" stop-color="#5fffa0"/><stop offset="0.020" stop-color="#53ffac"/><stop offset="0.027" stop-color="#48ffb7"/><stop offset="0.036" stop-color="#34ffcb"/><stop offset="0.045" stop-color="#20ffdf"/><stop offset="0.054" stop-color="#0cfff3"/><stop offset="0.063" stop-color="#00f7ff"/><stop offset="0.077" stop-color="#00d7ff"/><stop offset="0.090" stop-color="#00b1ff"/><stop offset="0.104" stop-color="#008eff"/><stop offset="0.117" stop-color="#007bff"/><stop offset="0.135" stop-color="#0062ff"/><stop offset="0.153" stop-color="#004fff"/><stop offset="0.172" stop-color="#003eff"/><stop offset="0.194" stop-color="#0029ff"/><stop offset="0.217" stop-color="#0017ff"/><stop offset="0.244" stop-color="#0003ff"/><stop offset="0.271" stop-color="#0000ed"/><stop offset="0.302" stop-color="#0000c6"/><stop offset="0.339" stop-color="#0000b4"/><stop offset="0.379" stop-color="#0000aa"/><stop offset="0.424" stop-color="#0000a5"/><stop offset="0.474" stop-color="#0000a1"/><stop offset="0.533" stop-color="#00009f"/><stop offset="0.596" stop-color="#00009b"/><stop offset="0.668" stop-color="#000098"/><stop offset="0.745" stop-color="#000094"/><stop offset="0.813" stop-color="#000091"/><stop offset="0.858" stop-color="#000090"/><stop offset="0.903" stop-color="#00008e"/><stop offset="0.971" stop-color="#000096"/><stop offset="1.000" stop-color="#000093"/></linearGradient><linearGradient id="r40" gradientUnits="userSpaceOnUse" x1="36.0" x2="257.5" y1="0" y2="0"><stop offset="0.000" stop-color="#00008a"/><stop offset="0.007" stop-color="#00008a"/><stop offset="0.014" stop-color="#00008a"/><stop offset="0.020" stop-color="#00008a"/><stop offset="0.027" stop-color="#00008a"/><stop offset="0.036" stop-color="#00008a"/><stop offset="0.045" stop-color="#00008a"/><stop offset="0.054" stop-color="#00008a"/><stop offset="0.063" stop-color="#00008a"/><stop offset="0.077" stop-color="#00008a"/><stop offset="0.090" stop-color="#00008a"/><stop offset="0.104" stop-color="#00008a"/><stop offset="0.117" stop-color="#00008a"/><stop offset="0.135" stop-color="#00008a"/><stop offset="0.153" stop-color="#00008a"/><stop offset="0.172" stop-color="#00008a"/><stop offset="0.194" stop-color="#00008a"/><stop offset="0.217" stop-color="#00008a"/><stop offset="0.244" stop-color="#00008a"/><stop offset="0.271" stop-color="#00008a"/><stop offset="0.302" stop-color="#00008a"/><stop offset="0.339" stop-color="#00008a"/><stop offset="0.379" stop-color="#00008a"/><stop offset="0.424" stop-color="#00008a"/><stop offset="0.474" stop-color="#00008a"/><stop offset="0.533" stop-color="#00008a"/><stop offset="0.596" stop-color="#00008a"/><stop offset="0.668" stop-color="#00008a"/><stop offset="0.745" stop-color="#00008a"/><stop offset="0.813" stop-color="#00008a"/><stop offset="0.858" stop-color="#00008a"/><stop offset="0.903" stop-color="#00008a"/><stop offset="0.971" stop-color="#00008a"/><stop offset="1.000" stop-color="#00008a"/></linearGradient></defs>
<rect x="36.0" y="235.0" width="221.5" height="1.05" fill="url(#r0)"/>
<rect x="36.0" y="236.0" width="221.5" height="1.05" fill="url(#r1)"/>
<rect x="36.0" y="237.0" width="221.5" height="1.05" fill="url(#r2)"/>
<rect x="36.0" y="238.0" width="221.5" height="1.05" fill="url(#r3)"/>
<rect x="36.0" y="239.0" width="221.5" height="1.05" fill="url(#r4)"/>
<rect x="36.0" y="240.0" width="221.5" height="1.05" fill="url(#r5)"/>
<rect x="36.0" y="241.0" width="221.5" height="1.05" fill="url(#r6)"/>
<rect x="36.0" y="242.0" width="221.5" height="1.05" fill="url(#r7)"/>
<rect x="36.0" y="243.0" width="221.5" height="1.05" fill="url(#r8)"/>
<rect x="36.0" y="244.0" width="221.5" height="1.05" fill="url(#r9)"/>
<rect x="36.0" y="245.0" width="221.5" height="1.05" fill="url(#r10)"/>
<rect x="36.0" y="246.0" width="221.5" height="1.05" fill="url(#r11)"/>
<rect x="36.0" y="247.0" width="221.5" height="1.05" fill="url(#r12)"/>
<rect x="36.0" y="248.0" width="221.5" height="1.05" fill="url(#r13)"/>
<rect x="36.0" y="249.0" width="221.5" height="1.05" fill="url(#r14)"/>
<rect x="36.0" y="250.0" width="221.5" height="1.05" fill="url(#r15)"/>
<rect x="36.0" y="251.0" width="221.5" height="1.05" fill="url(#r16)"/>
<rect x="36.0" y="252.0" width="221.5" height="1.05" fill="url(#r17)"/>
<rect x="36.0" y="253.0" width="221.5" height="1.05" fill="url(#r18)"/>
<rect x="36.0" y="254.0" width="221.5" height="1.05" fill="url(#r19)"/>
<rect x="36.0" y="255.0" width="221.5" height="1.05" fill="url(#r20)"/>
<rect x="36.0" y="256.0" width="221.5" height="1.05" fill="url(#r21)"/>
<rect x="36.0" y="257.0" width="221.5" height="1.05" fill="url(#r22)"/>
<rect x="36.0" y="258.0" width="221.5" height="1.05" fill="url(#r23)"/>
<rect x="36.0" y="259.0" width="221.5" height="1.05" fill="url(#r24)"/>
<rect x="36.0" y="260.0" width="221.5" height="1.05" fill="url(#r25)"/>
<rect x="36.0" y="261.0" width="221.5" height="1.05" fill="url(#r26)"/>
<rect x="36.0" y="262.0" width="221.5" height="1.05" fill="url(#r27)"/>
<rect x="36.0" y="263.0" width="221.5" height="1.05" fill="url(#r28)"/>
<rect x="36.0" y="264.0" width="221.5" height="1.05" fill="url(#r29)"/>
<rect x="36.0" y="265.0" width="221.5" height="1.05" fill="url(#r30)"/>
<rect x="36.0" y="266.0" width="221.5" height="1.05" fill="url(#r31)"/>
<rect x="36.0" y="267.0" width="221.5" height="1.05" fill="url(#r32)"/>
<rect x="36.0" y="268.0" width="221.5" height="1.05" fill="url(#r33)"/>
<rect x="36.0" y="269.0" width="221.5" height="1.05" fill="url(#r34)"/>
<rect x="36.0" y="270.0" width="221.5" height="1.05" fill="url(#r35)"/>
<rect x="36.0" y="271.0" width="221.5" height="1.05" fill="url(#r36)"/>
<rect x="36.0" y="272.0" width="221.5" height="1.05" fill="url(#r37)"/>
<rect x="36.0" y="273.0" width="221.5" height="1.05" fill="url(#r38)"/>
<rect x="36.0" y="274.0" width="221.5" height="1.05" fill="url(#r39)"/>
<rect x="36.0" y="275.0" width="221.5" height="1.05" fill="url(#r40)"/>
<defs><pattern id="strp" patternUnits="userSpaceOnUse" x="36" y="0" width="2.2" height="10"><rect x="0" y="0" width="1.0" height="10" fill="#00008a" opacity="0.55"/></pattern></defs>
<rect x="36" y="255" width="110" height="5.5" fill="url(#strp)"/>
<defs><pattern id="strp2" patternUnits="userSpaceOnUse" x="36" y="0" width="1.8" height="10"><rect x="0" y="0" width="0.7" height="10" fill="#000060" opacity="0.12"/></pattern></defs>
<rect x="36" y="235" width="120" height="40.5" fill="url(#strp2)"/>
<g stroke="#000022" stroke-width="0.9">
<line x1="36.0" y1="234.4" x2="257.5" y2="234.4"/>
<line x1="36.0" y1="254.5" x2="257.5" y2="254.5"/>
<line x1="36.0" y1="260.5" x2="257.5" y2="260.5"/>
<line x1="36.0" y1="275.6" x2="257.5" y2="275.6"/>
</g>
<path d="M35.6 224.6V298.3H257.5M33.5 225.2H36.0M33.5 239.8H36.0M33.5 254.8H36.0M33.5 269.2H36.0M33.5 283.7H36.0M33.5 298.0H36.0M36.0 298.3V300.5M80.3 298.3V300.5M124.6 298.3V300.5M168.8 298.3V300.5M213.1 298.3V300.5M257.4 298.3V300.5" stroke="#111" stroke-width="1.2" fill="none"/>
<g font-family="Liberation Mono, monospace" font-weight="bold" font-size="10.8" fill="#111" stroke="#111" stroke-width="0.25">
<text x="30.5" y="228.5" text-anchor="end" textLength="10.6" lengthAdjust="spacingAndGlyphs">1.5</text>
<text x="30.5" y="243.7" text-anchor="end" textLength="10.6" lengthAdjust="spacingAndGlyphs">1.0</text>
<text x="30.5" y="259.2" text-anchor="end" textLength="10.6" lengthAdjust="spacingAndGlyphs">0.5</text>
<text x="30.5" y="273.4" text-anchor="end" textLength="10.6" lengthAdjust="spacingAndGlyphs">0.0</text>
<text x="30.5" y="287.8" text-anchor="end" textLength="14.5" lengthAdjust="spacingAndGlyphs">-0.5</text>
<text x="30.5" y="301.8" text-anchor="end" textLength="14.5" lengthAdjust="spacingAndGlyphs">-1.0</text>
<text x="34.3" y="309.3" text-anchor="middle" textLength="3.6" lengthAdjust="spacingAndGlyphs">0</text>
<text x="77.7" y="309.3" text-anchor="middle" textLength="10.6" lengthAdjust="spacingAndGlyphs">50</text>
<text x="123.0" y="309.3" text-anchor="middle" textLength="14.0" lengthAdjust="spacingAndGlyphs">100</text>
<text x="167.3" y="309.3" text-anchor="middle" textLength="14.3" lengthAdjust="spacingAndGlyphs">150</text>
<text x="211.2" y="309.3" text-anchor="middle" textLength="15.0" lengthAdjust="spacingAndGlyphs">200</text>
<text x="255.4" y="309.3" text-anchor="middle" textLength="14.7" lengthAdjust="spacingAndGlyphs">250</text>
</g>
<polygon fill="#fff" points="140.5,244.7 119.9,244.7 119.9,242.6 115.1,246.6 119.9,250.6 119.9,248.5 140.5,248.5"/>
<polygon fill="#fff" points="114.5,264.9 135.7,264.9 135.7,262.8 140.5,266.8 135.7,270.8 135.7,268.7 114.5,268.7"/>
<g font-family="Liberation Sans, Arial, sans-serif" font-size="11.6" fill="#fff" stroke="#fff" stroke-width="0.25">
<text x="142.1" y="249.4" textLength="33.1" lengthAdjust="spacingAndGlyphs">output</text>
<text x="145.6" y="270.6" textLength="24.9" lengthAdjust="spacingAndGlyphs">input</text>
</g>
<rect x="33.2" y="319.4" width="106.4" height="106.9" fill="#000094"/>
<defs><linearGradient id="si0" gradientUnits="userSpaceOnUse" x1="38.0" x2="99.0" y1="0" y2="0"><stop offset="0.000" stop-color="#000096"/><stop offset="0.020" stop-color="#000096"/><stop offset="0.041" stop-color="#000097"/><stop offset="0.061" stop-color="#000098"/><stop offset="0.082" stop-color="#000099"/><stop offset="0.102" stop-color="#00009a"/><stop offset="0.123" stop-color="#00009b"/><stop offset="0.143" stop-color="#00009c"/><stop offset="0.164" stop-color="#00009d"/><stop offset="0.184" stop-color="#00009e"/><stop offset="0.205" stop-color="#00009f"/><stop offset="0.225" stop-color="#0000a0"/><stop offset="0.246" stop-color="#0000a1"/><stop offset="0.266" stop-color="#0000a1"/><stop offset="0.287" stop-color="#0000a1"/><stop offset="0.307" stop-color="#0000a2"/><stop offset="0.328" stop-color="#0000a2"/><stop offset="0.348" stop-color="#0000a2"/><stop offset="0.369" stop-color="#0000a3"/><stop offset="0.389" stop-color="#0000a3"/><stop offset="0.410" stop-color="#0000a4"/><stop offset="0.430" stop-color="#0000a4"/><stop offset="0.451" stop-color="#0000a4"/><stop offset="0.471" stop-color="#0000a4"/><stop offset="0.492" stop-color="#0000a4"/><stop offset="0.512" stop-color="#0000a4"/><stop offset="0.533" stop-color="#0000a4"/><stop offset="0.553" stop-color="#0000a4"/><stop offset="0.574" stop-color="#0000a4"/><stop offset="0.594" stop-color="#0000a3"/><stop offset="0.615" stop-color="#0000a3"/><stop offset="0.635" stop-color="#0000a3"/><stop offset="0.656" stop-color="#0000a2"/><stop offset="0.676" stop-color="#0000a2"/><stop offset="0.697" stop-color="#0000a1"/><stop offset="0.717" stop-color="#0000a1"/><stop offset="0.738" stop-color="#0000a1"/><stop offset="0.758" stop-color="#0000a1"/><stop offset="0.779" stop-color="#0000a0"/><stop offset="0.799" stop-color="#00009f"/><stop offset="0.820" stop-color="#00009e"/><stop offset="0.840" stop-color="#00009d"/><stop offset="0.861" stop-color="#00009c"/><stop offset="0.881" stop-color="#00009b"/><stop offset="0.902" stop-color="#00009a"/><stop offset="0.922" stop-color="#000099"/><stop offset="0.943" stop-color="#000098"/><stop offset="0.963" stop-color="#000097"/><stop offset="0.984" stop-color="#000097"/></linearGradient><linearGradient id="si1" gradientUnits="userSpaceOnUse" x1="38.0" x2="99.0" y1="0" y2="0"><stop offset="0.000" stop-color="#000096"/><stop offset="0.020" stop-color="#000097"/><stop offset="0.041" stop-color="#000098"/><stop offset="0.061" stop-color="#000098"/><stop offset="0.082" stop-color="#000099"/><stop offset="0.102" stop-color="#00009b"/><stop offset="0.123" stop-color="#00009c"/><stop offset="0.143" stop-color="#00009d"/><stop offset="0.164" stop-color="#00009f"/><stop offset="0.184" stop-color="#0000a0"/><stop offset="0.205" stop-color="#0000a2"/><stop offset="0.225" stop-color="#0000a3"/><stop offset="0.246" stop-color="#0000a4"/><stop offset="0.266" stop-color="#0000a4"/><stop offset="0.287" stop-color="#0000a5"/><stop offset="0.307" stop-color="#0000a5"/><stop offset="0.328" stop-color="#0000a6"/><stop offset="0.348" stop-color="#0000a6"/><stop offset="0.369" stop-color="#0000a7"/><stop offset="0.389" stop-color="#0000a7"/><stop offset="0.410" stop-color="#0000a8"/><stop offset="0.430" stop-color="#0000a8"/><stop offset="0.451" stop-color="#0000a8"/><stop offset="0.471" stop-color="#0000a9"/><stop offset="0.492" stop-color="#0000a9"/><stop offset="0.512" stop-color="#0000a9"/><stop offset="0.533" stop-color="#0000a8"/><stop offset="0.553" stop-color="#0000a8"/><stop offset="0.574" stop-color="#0000a8"/><stop offset="0.594" stop-color="#0000a7"/><stop offset="0.615" stop-color="#0000a7"/><stop offset="0.635" stop-color="#0000a6"/><stop offset="0.656" stop-color="#0000a6"/><stop offset="0.676" stop-color="#0000a5"/><stop offset="0.697" stop-color="#0000a5"/><stop offset="0.717" stop-color="#0000a4"/><stop offset="0.738" stop-color="#0000a4"/><stop offset="0.758" stop-color="#0000a4"/><stop offset="0.779" stop-color="#0000a3"/><stop offset="0.799" stop-color="#0000a2"/><stop offset="0.820" stop-color="#0000a0"/><stop offset="0.840" stop-color="#00009f"/><stop offset="0.861" stop-color="#00009d"/><stop offset="0.881" stop-color="#00009c"/><stop offset="0.902" stop-color="#00009b"/><stop offset="0.922" stop-color="#00009a"/><stop offset="0.943" stop-color="#000099"/><stop offset="0.963" stop-color="#000098"/><stop offset="0.984" stop-color="#000097"/></linearGradient><linearGradient id="si2" gradientUnits="userSpaceOnUse" x1="38.0" x2="99.0" y1="0" y2="0"><stop offset="0.000" stop-color="#000097"/><stop offset="0.020" stop-color="#000097"/><stop offset="0.041" stop-color="#000098"/><stop offset="0.061" stop-color="#000099"/><stop offset="0.082" stop-color="#00009a"/><stop offset="0.102" stop-color="#00009c"/><stop offset="0.123" stop-color="#00009d"/><stop offset="0.143" stop-color="#00009f"/><stop offset="0.164" stop-color="#0000a1"/><stop offset="0.184" stop-color="#0000a3"/><stop offset="0.205" stop-color="#0000a5"/><stop offset="0.225" stop-color="#0000a7"/><stop offset="0.246" stop-color="#0000a8"/><stop offset="0.266" stop-color="#0000a9"/><stop offset="0.287" stop-color="#0000a9"/><stop offset="0.307" stop-color="#0000aa"/><stop offset="0.328" stop-color="#0000aa"/><stop offset="0.348" stop-color="#0000ab"/><stop offset="0.369" stop-color="#0000ab"/><stop offset="0.389" stop-color="#0000ac"/><stop offset="0.410" stop-color="#0000ad"/><stop offset="0.430" stop-color="#0000ad"/><stop offset="0.451" stop-color="#0000ae"/><stop offset="0.471" stop-color="#0000ae"/><stop offset="0.492" stop-color="#0000ae"/><stop offset="0.512" stop-color="#0000ae"/><stop offset="0.533" stop-color="#0000ae"/><stop offset="0.553" stop-color="#0000ad"/><stop offset="0.574" stop-color="#0000ad"/><stop offset="0.594" stop-color="#0000ac"/><stop offset="0.615" stop-color="#0000ac"/><stop offset="0.635" stop-color="#0000ab"/><stop offset="0.656" stop-color="#0000ab"/><stop offset="0.676" stop-color="#0000aa"/><stop offset="0.697" stop-color="#0000a9"/><stop offset="0.717" stop-color="#0000a9"/><stop offset="0.738" stop-color="#0000a9"/><stop offset="0.758" stop-color="#0000a8"/><stop offset="0.779" stop-color="#0000a7"/><stop offset="0.799" stop-color="#0000a5"/><stop offset="0.820" stop-color="#0000a3"/><stop offset="0.840" stop-color="#0000a1"/><stop offset="0.861" stop-color="#0000a0"/><stop offset="0.881" stop-color="#00009e"/><stop offset="0.902" stop-color="#00009c"/><stop offset="0.922" stop-color="#00009b"/><stop offset="0.943" stop-color="#000099"/><stop offset="0.963" stop-color="#000098"/><stop offset="0.984" stop-color="#000097"/></linearGradient><linearGradient id="si3" gradientUnits="userSpaceOnUse" x1="38.0" x2="99.0" y1="0" y2="0"><stop offset="0.000" stop-color="#000097"/><stop offset="0.020" stop-color="#000098"/><stop offset="0.041" stop-color="#000099"/><stop offset="0.061" stop-color="#00009a"/><stop offset="0.082" stop-color="#00009c"/><stop offset="0.102" stop-color="#00009d"/><stop offset="0.123" stop-color="#00009f"/><stop offset="0.143" stop-color="#0000a2"/><stop offset="0.164" stop-color="#0000a4"/><stop offset="0.184" stop-color="#0000a7"/><stop offset="0.205" stop-color="#0000a9"/><stop offset="0.225" stop-color="#0000ab"/><stop offset="0.246" stop-color="#0000ad"/><stop offset="0.266" stop-color="#0000ae"/><stop offset="0.287" stop-color="#0000ae"/><stop offset="0.307" stop-color="#0000af"/><stop offset="0.328" stop-color="#0000b0"/><stop offset="0.348" stop-color="#0000b1"/><stop offset="0.369" stop-color="#0000b1"/><stop offset="0.389" stop-color="#0000b2"/><stop offset="0.410" stop-color="#0000b3"/><stop offset="0.430" stop-color="#0000b4"/><stop offset="0.451" stop-color="#0000b4"/><stop offset="0.471" stop-color="#0000b4"/><stop offset="0.492" stop-color="#0000b5"/><stop offset="0.512" stop-color="#0000b5"/><stop offset="0.533" stop-color="#0000b4"/><stop offset="0.553" stop-color="#0000b4"/><stop offset="0.574" stop-color="#0000b3"/><stop offset="0.594" stop-color="#0000b2"/><stop offset="0.615" stop-color="#0000b2"/><stop offset="0.635" stop-color="#0000b1"/><stop offset="0.656" stop-color="#0000b0"/><stop offset="0.676" stop-color="#0000b0"/><stop offset="0.697" stop-color="#0000af"/><stop offset="0.717" stop-color="#0000ae"/><stop offset="0.738" stop-color="#0000ae"/><stop offset="0.758" stop-color="#0000ad"/><stop offset="0.779" stop-color="#0000ab"/><stop offset="0.799" stop-color="#0000a9"/><stop offset="0.820" stop-color="#0000a7"/><stop offset="0.840" stop-color="#0000a4"/><stop offset="0.861" stop-color="#0000a2"/><stop offset="0.881" stop-color="#0000a0"/><stop offset="0.902" stop-color="#00009e"/><stop offset="0.922" stop-color="#00009c"/><stop offset="0.943" stop-color="#00009a"/><stop offset="0.963" stop-color="#000099"/><stop offset="0.984" stop-color="#000098"/></linearGradient><linearGradient id="si4" gradientUnits="userSpaceOnUse" x1="38.0" x2="99.0" y1="0" y2="0"><stop offset="0.000" stop-color="#000097"/><stop offset="0.020" stop-color="#000098"/><stop offset="0.041" stop-color="#00009a"/><stop offset="0.061" stop-color="#00009b"/><stop offset="0.082" stop-color="#00009d"/><stop offset="0.102" stop-color="#00009f"/><stop offset="0.123" stop-color="#0000a1"/><stop offset="0.143" stop-color="#0000a4"/><stop offset="0.164" stop-color="#0000a7"/><stop offset="0.184" stop-color="#0000ab"/><stop offset="0.205" stop-color="#0000ae"/><stop offset="0.225" stop-color="#0000b1"/><stop offset="0.246" stop-color="#0000b3"/><stop offset="0.266" stop-color="#0000b5"/><stop offset="0.287" stop-color="#0000b5"/><stop offset="0.307" stop-color="#0000b6"/><stop offset="0.328" stop-color="#0000b7"/><stop offset="0.348" stop-color="#0000b8"/><stop offset="0.369" stop-color="#0000b9"/><stop offset="0.389" stop-color="#0000ba"/><stop offset="0.410" stop-color="#0000bb"/><stop offset="0.430" stop-color="#0000bc"/><stop offset="0.451" stop-color="#0000bc"/><stop offset="0.471" stop-color="#0000bd"/><stop offset="0.492" stop-color="#0000bd"/><stop offset="0.512" stop-color="#0000bd"/><stop offset="0.533" stop-color="#0000bd"/><stop offset="0.553" stop-color="#0000bc"/><stop offset="0.574" stop-color="#0000bb"/><stop offset="0.594" stop-color="#0000ba"/><stop offset="0.615" stop-color="#0000b9"/><stop offset="0.635" stop-color="#0000b8"/><stop offset="0.656" stop-color="#0000b8"/><stop offset="0.676" stop-color="#0000b7"/><stop offset="0.697" stop-color="#0000b6"/><stop offset="0.717" stop-color="#0000b5"/><stop offset="0.738" stop-color="#0000b4"/><stop offset="0.758" stop-color="#0000b3"/><stop offset="0.779" stop-color="#0000b1"/><stop offset="0.799" stop-color="#0000ae"/><stop offset="0.820" stop-color="#0000ab"/><stop offset="0.840" stop-color="#0000a8"/><stop offset="0.861" stop-color="#0000a5"/><stop offset="0.881" stop-color="#0000a2"/><stop offset="0.902" stop-color="#00009f"/><stop offset="0.922" stop-color="#00009d"/><stop offset="0.943" stop-color="#00009b"/><stop offset="0.963" stop-color="#00009a"/><stop offset="0.984" stop-color="#000099"/></linearGradient><linearGradient id="si5" gradientUnits="userSpaceOnUse" x1="38.0" x2="99.0" y1="0" y2="0"><stop offset="0.000" stop-color="#000098"/><stop offset="0.020" stop-color="#000099"/><stop offset="0.041" stop-color="#00009a"/><stop offset="0.061" stop-color="#00009c"/><stop offset="0.082" stop-color="#00009e"/><stop offset="0.102" stop-color="#0000a1"/><stop offset="0.123" stop-color="#0000a4"/><stop offset="0.143" stop-color="#0000a7"/><stop offset="0.164" stop-color="#0000ab"/><stop offset="0.184" stop-color="#0000af"/><stop offset="0.205" stop-color="#0000b4"/><stop offset="0.225" stop-color="#0000b8"/><stop offset="0.246" stop-color="#0000bb"/><stop offset="0.266" stop-color="#0000bd"/><stop offset="0.287" stop-color="#0000be"/><stop offset="0.307" stop-color="#0000bf"/><stop offset="0.328" stop-color="#0000c0"/><stop offset="0.348" stop-color="#0000c1"/><stop offset="0.369" stop-color="#0000c2"/><stop offset="0.389" stop-color="#0000c3"/><stop offset="0.410" stop-color="#0000c5"/><stop offset="0.430" stop-color="#0000c6"/><stop offset="0.451" stop-color="#0000c7"/><stop offset="0.471" stop-color="#0000c7"/><stop offset="0.492" stop-color="#0000c7"/><stop offset="0.512" stop-color="#0000c7"/><stop offset="0.533" stop-color="#0000c7"/><stop offset="0.553" stop-color="#0000c6"/><stop offset="0.574" stop-color="#0000c5"/><stop offset="0.594" stop-color="#0000c4"/><stop offset="0.615" stop-color="#0000c3"/><stop offset="0.635" stop-color="#0000c2"/><stop offset="0.656" stop-color="#0000c1"/><stop offset="0.676" stop-color="#0000bf"/><stop offset="0.697" stop-color="#0000be"/><stop offset="0.717" stop-color="#0000bd"/><stop offset="0.738" stop-color="#0000bd"/><stop offset="0.758" stop-color="#0000bb"/><stop offset="0.779" stop-color="#0000b8"/><stop offset="0.799" stop-color="#0000b4"/><stop offset="0.820" stop-color="#0000b0"/><stop offset="0.840" stop-color="#0000ac"/><stop offset="0.861" stop-color="#0000a8"/><stop offset="0.881" stop-color="#0000a4"/><stop offset="0.902" stop-color="#0000a1"/><stop offset="0.922" stop-color="#00009e"/><stop offset="0.943" stop-color="#00009c"/><stop offset="0.963" stop-color="#00009b"/><stop offset="0.984" stop-color="#000099"/></linearGradient><linearGradient id="si6" gradientUnits="userSpaceOnUse" x1="38.0" x2="99.0" y1="0" y2="0"><stop offset="0.000" stop-color="#000098"/><stop offset="0.020" stop-color="#000099"/><stop offset="0.041" stop-color="#00009b"/><stop offset="0.061" stop-color="#00009d"/><stop offset="0.082" stop-color="#0000a0"/><stop offset="0.102" stop-color="#0000a3"/><stop offset="0.123" stop-color="#0000a6"/><stop offset="0.143" stop-color="#0000ab"/><stop offset="0.164" stop-color="#0000b0"/><stop offset="0.184" stop-color="#0000b5"/><stop offset="0.205" stop-color="#0000bb"/><stop offset="0.225" stop-color="#0000c0"/><stop offset="0.246" stop-color="#0000c4"/><stop offset="0.266" stop-color="#0000c7"/><stop offset="0.287" stop-color="#0000c8"/><stop offset="0.307" stop-color="#0000ca"/><stop offset="0.328" stop-color="#0000cb"/><stop offset="0.348" stop-color="#0000cd"/><stop offset="0.369" stop-color="#0000ce"/><stop offset="0.389" stop-color="#0000cf"/><stop offset="0.410" stop-color="#0000d1"/><stop offset="0.430" stop-color="#0000d3"/><stop offset="0.451" stop-color="#0000d4"/><stop offset="0.471" stop-color="#0000d4"/><stop offset="0.492" stop-color="#0000d5"/><stop offset="0.512" stop-color="#0000d4"/><stop offset="0.533" stop-color="#0000d4"/><stop offset="0.553" stop-color="#0000d3"/><stop offset="0.574" stop-color="#0000d2"/><stop offset="0.594" stop-color="#0000d0"/><stop offset="0.615" stop-color="#0000cf"/><stop offset="0.635" stop-color="#0000cd"/><stop offset="0.656" stop-color="#0000cc"/><stop offset="0.676" stop-color="#0000cb"/><stop offset="0.697" stop-color="#0000c9"/><stop offset="0.717" stop-color="#0000c7"/><stop offset="0.738" stop-color="#0000c7"/><stop offset="0.758" stop-color="#0000c5"/><stop offset="0.779" stop-color="#0000c0"/><stop offset="0.799" stop-color="#0000bb"/><stop offset="0.820" stop-color="#0000b6"/><stop offset="0.840" stop-color="#0000b0"/><stop offset="0.861" stop-color="#0000ab"/><stop offset="0.881" stop-color="#0000a7"/><stop offset="0.902" stop-color="#0000a3"/><stop offset="0.922" stop-color="#0000a0"/><stop offset="0.943" stop-color="#00009d"/><stop offset="0.963" stop-color="#00009b"/><stop offset="0.984" stop-color="#00009a"/></linearGradient><linearGradient id="si7" gradientUnits="userSpaceOnUse" x1="38.0" x2="99.0" y1="0" y2="0"><stop offset="0.000" stop-color="#000099"/><stop offset="0.020" stop-color="#00009a"/><stop offset="0.041" stop-color="#00009c"/><stop offset="0.061" stop-color="#00009e"/><stop offset="0.082" stop-color="#0000a1"/><stop offset="0.102" stop-color="#0000a5"/><stop offset="0.123" stop-color="#0000a9"/><stop offset="0.143" stop-color="#0000ae"/><stop offset="0.164" stop-color="#0000b5"/><stop offset="0.184" stop-color="#0000bc"/><stop offset="0.205" stop-color="#0000c3"/><stop offset="0.225" stop-color="#0000ca"/><stop offset="0.246" stop-color="#0000d0"/><stop offset="0.266" stop-color="#0000d4"/><stop offset="0.287" stop-color="#0000d6"/><stop offset="0.307" stop-color="#0000d8"/><stop offset="0.328" stop-color="#0000da"/><stop offset="0.348" stop-color="#0000db"/><stop offset="0.369" stop-color="#0000dd"/><stop offset="0.389" stop-color="#0000df"/><stop offset="0.410" stop-color="#0000e1"/><stop offset="0.430" stop-color="#0000e2"/><stop offset="0.451" stop-color="#0000e4"/><stop offset="0.471" stop-color="#0000e5"/><stop offset="0.492" stop-color="#0000e5"/><stop offset="0.512" stop-color="#0000e5"/><stop offset="0.533" stop-color="#0000e4"/><stop offset="0.553" stop-color="#0000e3"/><stop offset="0.574" stop-color="#0000e2"/><stop offset="0.594" stop-color="#0000e0"/><stop offset="0.615" stop-color="#0000de"/><stop offset="0.635" stop-color="#0000dc"/><stop offset="0.656" stop-color="#0000da"/><stop offset="0.676" stop-color="#0000d9"/><stop offset="0.697" stop-color="#0000d7"/><stop offset="0.717" stop-color="#0000d5"/><stop offset="0.738" stop-color="#0000d4"/><stop offset="0.758" stop-color="#0000d0"/><stop offset="0.779" stop-color="#0000cb"/><stop offset="0.799" stop-color="#0000c4"/><stop offset="0.820" stop-color="#0000bd"/><stop offset="0.840" stop-color="#0000b6"/><stop offset="0.861" stop-color="#0000af"/><stop offset="0.881" stop-color="#0000aa"/><stop offset="0.902" stop-color="#0000a5"/><stop offset="0.922" stop-color="#0000a2"/><stop offset="0.943" stop-color="#00009f"/><stop offset="0.963" stop-color="#00009c"/><stop offset="0.984" stop-color="#00009a"/></linearGradient><linearGradient id="si8" gradientUnits="userSpaceOnUse" x1="38.0" x2="99.0" y1="0" y2="0"><stop offset="0.000" stop-color="#000099"/><stop offset="0.020" stop-color="#00009b"/><stop offset="0.041" stop-color="#00009d"/><stop offset="0.061" stop-color="#00009f"/><stop offset="0.082" stop-color="#0000a3"/><stop offset="0.102" stop-color="#0000a7"/><stop offset="0.123" stop-color="#0000ac"/><stop offset="0.143" stop-color="#0000b2"/><stop offset="0.164" stop-color="#0000ba"/><stop offset="0.184" stop-color="#0000c3"/><stop offset="0.205" stop-color="#0000cc"/><stop offset="0.225" stop-color="#0000d6"/><stop offset="0.246" stop-color="#0000df"/><stop offset="0.266" stop-color="#0000e4"/><stop offset="0.287" stop-color="#0000e6"/><stop offset="0.307" stop-color="#0000e9"/><stop offset="0.328" stop-color="#0000eb"/><stop offset="0.348" stop-color="#0000ed"/><stop offset="0.369" stop-color="#0000ef"/><stop offset="0.389" stop-color="#0000f2"/><stop offset="0.410" stop-color="#0000f4"/><stop offset="0.430" stop-color="#0000f7"/><stop offset="0.451" stop-color="#0000f8"/><stop offset="0.471" stop-color="#0000f9"/><stop offset="0.492" stop-color="#0000fa"/><stop offset="0.512" stop-color="#0000fa"/><stop offset="0.533" stop-color="#0000f9"/><stop offset="0.553" stop-color="#0000f7"/><stop offset="0.574" stop-color="#0000f5"/><stop offset="0.594" stop-color="#0000f3"/><stop offset="0.615" stop-color="#0000f0"/><stop offset="0.635" stop-color="#0000ee"/><stop offset="0.656" stop-color="#0000ec"/><stop offset="0.676" stop-color="#0000ea"/><stop offset="0.697" stop-color="#0000e8"/><stop offset="0.717" stop-color="#0000e5"/><stop offset="0.738" stop-color="#0000e4"/><stop offset="0.758" stop-color="#0000df"/><stop offset="0.779" stop-color="#0000d7"/><stop offset="0.799" stop-color="#0000ce"/><stop offset="0.820" stop-color="#0000c4"/><stop offset="0.840" stop-color="#0000bb"/><stop offset="0.861" stop-color="#0000b3"/><stop offset="0.881" stop-color="#0000ad"/><stop offset="0.902" stop-color="#0000a7"/><stop offset="0.922" stop-color="#0000a3"/><stop offset="0.943" stop-color="#0000a0"/><stop offset="0.963" stop-color="#00009d"/><stop offset="0.984" stop-color="#00009b"/></linearGradient><linearGradient id="si9" gradientUnits="userSpaceOnUse" x1="38.0" x2="99.0" y1="0" y2="0"><stop offset="0.000" stop-color="#000099"/><stop offset="0.020" stop-color="#00009b"/><stop offset="0.041" stop-color="#00009d"/><stop offset="0.061" stop-color="#0000a0"/><stop offset="0.082" stop-color="#0000a4"/><stop offset="0.102" stop-color="#0000a9"/><stop offset="0.123" stop-color="#0000af"/><stop offset="0.143" stop-color="#0000b6"/><stop offset="0.164" stop-color="#0000c0"/><stop offset="0.184" stop-color="#0000cb"/><stop offset="0.205" stop-color="#0000d7"/><stop offset="0.225" stop-color="#0000e4"/><stop offset="0.246" stop-color="#0000f0"/><stop offset="0.266" stop-color="#0000f9"/><stop offset="0.287" stop-color="#0000fb"/><stop offset="0.307" stop-color="#0000ff"/><stop offset="0.328" stop-color="#0003ff"/><stop offset="0.348" stop-color="#0005ff"/><stop offset="0.369" stop-color="#0008ff"/><stop offset="0.389" stop-color="#000bff"/><stop offset="0.410" stop-color="#000eff"/><stop offset="0.430" stop-color="#0011ff"/><stop offset="0.451" stop-color="#0013ff"/><stop offset="0.471" stop-color="#0014ff"/><stop offset="0.492" stop-color="#0015ff"/><stop offset="0.512" stop-color="#0014ff"/><stop offset="0.533" stop-color="#0014ff"/><stop offset="0.553" stop-color="#0012ff"/><stop offset="0.574" stop-color="#000fff"/><stop offset="0.594" stop-color="#000cff"/><stop offset="0.615" stop-color="#0009ff"/><stop offset="0.635" stop-color="#0007ff"/><stop offset="0.656" stop-color="#0004ff"/><stop offset="0.676" stop-color="#0001ff"/><stop offset="0.697" stop-color="#0000fd"/><stop offset="0.717" stop-color="#0000fa"/><stop offset="0.738" stop-color="#0000f8"/><stop offset="0.758" stop-color="#0000f1"/><stop offset="0.779" stop-color="#0000e6"/><stop offset="0.799" stop-color="#0000d9"/><stop offset="0.820" stop-color="#0000cc"/><stop offset="0.840" stop-color="#0000c1"/><stop offset="0.861" stop-color="#0000b8"/><stop offset="0.881" stop-color="#0000b0"/><stop offset="0.902" stop-color="#0000aa"/><stop offset="0.922" stop-color="#0000a5"/><stop offset="0.943" stop-color="#0000a1"/><stop offset="0.963" stop-color="#00009e"/><stop offset="0.984" stop-color="#00009b"/></linearGradient><linearGradient id="si10" gradientUnits="userSpaceOnUse" x1="38.0" x2="99.0" y1="0" y2="0"><stop offset="0.000" stop-color="#00009a"/><stop offset="0.020" stop-color="#00009c"/><stop offset="0.041" stop-color="#00009e"/><stop offset="0.061" stop-color="#0000a1"/><stop offset="0.082" stop-color="#0000a5"/><stop offset="0.102" stop-color="#0000ab"/><stop offset="0.123" stop-color="#0000b2"/><stop offset="0.143" stop-color="#0000ba"/><stop offset="0.164" stop-color="#0000c5"/><stop offset="0.184" stop-color="#0000d3"/><stop offset="0.205" stop-color="#0000e3"/><stop offset="0.225" stop-color="#0000f4"/><stop offset="0.246" stop-color="#0006ff"/><stop offset="0.266" stop-color="#0013ff"/><stop offset="0.287" stop-color="#0017ff"/><stop offset="0.307" stop-color="#001bff"/><stop offset="0.328" stop-color="#001fff"/><stop offset="0.348" stop-color="#0022ff"/><stop offset="0.369" stop-color="#0025ff"/><stop offset="0.389" stop-color="#0029ff"/><stop offset="0.410" stop-color="#002dff"/><stop offset="0.430" stop-color="#0030ff"/><stop offset="0.451" stop-color="#0033ff"/><stop offset="0.471" stop-color="#0035ff"/><stop offset="0.492" stop-color="#0035ff"/><stop offset="0.512" stop-color="#0035ff"/><stop offset="0.533" stop-color="#0034ff"/><stop offset="0.553" stop-color="#0032ff"/><stop offset="0.574" stop-color="#002fff"/><stop offset="0.594" stop-color="#002bff"/><stop offset="0.615" stop-color="#0026ff"/><stop offset="0.635" stop-color="#0024ff"/><stop offset="0.656" stop-color="#0020ff"/><stop offset="0.676" stop-color="#001dff"/><stop offset="0.697" stop-color="#0019ff"/><stop offset="0.717" stop-color="#0015ff"/><stop offset="0.738" stop-color="#0013ff"/><stop offset="0.758" stop-color="#0008ff"/><stop offset="0.779" stop-color="#0000f7"/><stop offset="0.799" stop-color="#0000e5"/><stop offset="0.820" stop-color="#0000d5"/><stop offset="0.840" stop-color="#0000c7"/><stop offset="0.861" stop-color="#0000bc"/><stop offset="0.881" stop-color="#0000b3"/><stop offset="0.902" stop-color="#0000ac"/><stop offset="0.922" stop-color="#0000a6"/><stop offset="0.943" stop-color="#0000a2"/><stop offset="0.963" stop-color="#00009f"/><stop offset="0.984" stop-color="#00009c"/></linearGradient><linearGradient id="si11" gradientUnits="userSpaceOnUse" x1="38.0" x2="99.0" y1="0" y2="0"><stop offset="0.000" stop-color="#00009a"/><stop offset="0.020" stop-color="#00009c"/><stop offset="0.041" stop-color="#00009f"/><stop offset="0.061" stop-color="#0000a2"/><stop offset="0.082" stop-color="#0000a7"/><stop offset="0.102" stop-color="#0000ac"/><stop offset="0.123" stop-color="#0000b4"/><stop offset="0.143" stop-color="#0000be"/><stop offset="0.164" stop-color="#0000cb"/><stop offset="0.184" stop-color="#0000db"/><stop offset="0.205" stop-color="#0000ee"/><stop offset="0.225" stop-color="#0006ff"/><stop offset="0.246" stop-color="#001eff"/><stop offset="0.266" stop-color="#0031ff"/><stop offset="0.287" stop-color="#0038ff"/><stop offset="0.307" stop-color="#003dff"/><stop offset="0.328" stop-color="#0042ff"/><stop offset="0.348" stop-color="#0046ff"/><stop offset="0.369" stop-color="#004aff"/><stop offset="0.389" stop-color="#004eff"/><stop offset="0.410" stop-color="#0054ff"/><stop offset="0.430" stop-color="#0058ff"/><stop offset="0.451" stop-color="#005bff"/><stop offset="0.471" stop-color="#005dff"/><stop offset="0.492" stop-color="#005eff"/><stop offset="0.512" stop-color="#005eff"/><stop offset="0.533" stop-color="#005cff"/><stop offset="0.553" stop-color="#005aff"/><stop offset="0.574" stop-color="#0056ff"/><stop offset="0.594" stop-color="#0051ff"/><stop offset="0.615" stop-color="#004cff"/><stop offset="0.635" stop-color="#0048ff"/><stop offset="0.656" stop-color="#0044ff"/><stop offset="0.676" stop-color="#003fff"/><stop offset="0.697" stop-color="#003bff"/><stop offset="0.717" stop-color="#0035ff"/><stop offset="0.738" stop-color="#0032ff"/><stop offset="0.758" stop-color="#0021ff"/><stop offset="0.779" stop-color="#000aff"/><stop offset="0.799" stop-color="#0000f2"/><stop offset="0.820" stop-color="#0000de"/><stop offset="0.840" stop-color="#0000cd"/><stop offset="0.861" stop-color="#0000c0"/><stop offset="0.881" stop-color="#0000b6"/><stop offset="0.902" stop-color="#0000ae"/><stop offset="0.922" stop-color="#0000a7"/><stop offset="0.943" stop-color="#0000a3"/><stop offset="0.963" stop-color="#00009f"/><stop offset="0.984" stop-color="#00009c"/></linearGradient><linearGradient id="si12" gradientUnits="userSpaceOnUse" x1="38.0" x2="99.0" y1="0" y2="0"><stop offset="0.000" stop-color="#00009a"/><stop offset="0.020" stop-color="#00009c"/><stop offset="0.041" stop-color="#00009f"/><stop offset="0.061" stop-color="#0000a3"/><stop offset="0.082" stop-color="#0000a8"/><stop offset="0.102" stop-color="#0000ae"/><stop offset="0.123" stop-color="#0000b6"/><stop offset="0.143" stop-color="#0000c1"/><stop offset="0.164" stop-color="#0000cf"/><stop offset="0.184" stop-color="#0000e2"/><stop offset="0.205" stop-color="#0000f9"/><stop offset="0.225" stop-color="#0017ff"/><stop offset="0.246" stop-color="#0038ff"/><stop offset="0.266" stop-color="#0056ff"/><stop offset="0.287" stop-color="#0062ff"/><stop offset="0.307" stop-color="#0068ff"/><stop offset="0.328" stop-color="#006eff"/><stop offset="0.348" stop-color="#0073ff"/><stop offset="0.369" stop-color="#0078ff"/><stop offset="0.389" stop-color="#007eff"/><stop offset="0.410" stop-color="#0084ff"/><stop offset="0.430" stop-color="#008aff"/><stop offset="0.451" stop-color="#008eff"/><stop offset="0.471" stop-color="#0090ff"/><stop offset="0.492" stop-color="#0092ff"/><stop offset="0.512" stop-color="#0091ff"/><stop offset="0.533" stop-color="#008fff"/><stop offset="0.553" stop-color="#008cff"/><stop offset="0.574" stop-color="#0087ff"/><stop offset="0.594" stop-color="#0081ff"/><stop offset="0.615" stop-color="#007aff"/><stop offset="0.635" stop-color="#0076ff"/><stop offset="0.656" stop-color="#0070ff"/><stop offset="0.676" stop-color="#006bff"/><stop offset="0.697" stop-color="#0065ff"/><stop offset="0.717" stop-color="#005eff"/><stop offset="0.738" stop-color="#0058ff"/><stop offset="0.758" stop-color="#003dff"/><stop offset="0.779" stop-color="#001cff"/><stop offset="0.799" stop-color="#0000fd"/><stop offset="0.820" stop-color="#0000e5"/><stop offset="0.840" stop-color="#0000d2"/><stop offset="0.861" stop-color="#0000c3"/><stop offset="0.881" stop-color="#0000b8"/><stop offset="0.902" stop-color="#0000af"/><stop offset="0.922" stop-color="#0000a8"/><stop offset="0.943" stop-color="#0000a3"/><stop offset="0.963" stop-color="#0000a0"/><stop offset="0.984" stop-color="#00009d"/></linearGradient><linearGradient id="si13" gradientUnits="userSpaceOnUse" x1="38.0" x2="99.0" y1="0" y2="0"><stop offset="0.000" stop-color="#00009a"/><stop offset="0.020" stop-color="#00009d"/><stop offset="0.041" stop-color="#00009f"/><stop offset="0.061" stop-color="#0000a3"/><stop offset="0.082" stop-color="#0000a8"/><stop offset="0.102" stop-color="#0000af"/><stop offset="0.123" stop-color="#0000b8"/><stop offset="0.143" stop-color="#0000c3"/><stop offset="0.164" stop-color="#0000d2"/><stop offset="0.184" stop-color="#0000e7"/><stop offset="0.205" stop-color="#0002ff"/><stop offset="0.225" stop-color="#0024ff"/><stop offset="0.246" stop-color="#004fff"/><stop offset="0.266" stop-color="#007fff"/><stop offset="0.287" stop-color="#0096ff"/><stop offset="0.307" stop-color="#009eff"/><stop offset="0.328" stop-color="#00a5ff"/><stop offset="0.348" stop-color="#00acff"/><stop offset="0.369" stop-color="#00b2ff"/><stop offset="0.389" stop-color="#00b9ff"/><stop offset="0.410" stop-color="#00c1ff"/><stop offset="0.430" stop-color="#00c8ff"/><stop offset="0.451" stop-color="#00cdff"/><stop offset="0.471" stop-color="#00d1ff"/><stop offset="0.492" stop-color="#00d2ff"/><stop offset="0.512" stop-color="#00d2ff"/><stop offset="0.533" stop-color="#00cfff"/><stop offset="0.553" stop-color="#00cbff"/><stop offset="0.574" stop-color="#00c5ff"/><stop offset="0.594" stop-color="#00bdff"/><stop offset="0.615" stop-color="#00b5ff"/><stop offset="0.635" stop-color="#00afff"/><stop offset="0.656" stop-color="#00a8ff"/><stop offset="0.676" stop-color="#00a1ff"/><stop offset="0.697" stop-color="#009aff"/><stop offset="0.717" stop-color="#0092ff"/><stop offset="0.738" stop-color="#0084ff"/><stop offset="0.758" stop-color="#0056ff"/><stop offset="0.779" stop-color="#002aff"/><stop offset="0.799" stop-color="#0007ff"/><stop offset="0.820" stop-color="#0000ea"/><stop offset="0.840" stop-color="#0000d5"/><stop offset="0.861" stop-color="#0000c5"/><stop offset="0.881" stop-color="#0000b9"/><stop offset="0.902" stop-color="#0000b0"/><stop offset="0.922" stop-color="#0000a9"/><stop offset="0.943" stop-color="#0000a4"/><stop offset="0.963" stop-color="#0000a0"/><stop offset="0.984" stop-color="#00009d"/></linearGradient><linearGradient id="si14" gradientUnits="userSpaceOnUse" x1="38.0" x2="99.0" y1="0" y2="0"><stop offset="0.000" stop-color="#00009a"/><stop offset="0.020" stop-color="#00009d"/><stop offset="0.041" stop-color="#0000a0"/><stop offset="0.061" stop-color="#0000a3"/><stop offset="0.082" stop-color="#0000a8"/><stop offset="0.102" stop-color="#0000af"/><stop offset="0.123" stop-color="#0000b8"/><stop offset="0.143" stop-color="#0000c4"/><stop offset="0.164" stop-color="#0000d4"/><stop offset="0.184" stop-color="#0000e9"/><stop offset="0.205" stop-color="#0006ff"/><stop offset="0.225" stop-color="#002bff"/><stop offset="0.246" stop-color="#005cff"/><stop offset="0.266" stop-color="#009cff"/><stop offset="0.287" stop-color="#00d8ff"/><stop offset="0.307" stop-color="#00e1ff"/><stop offset="0.328" stop-color="#00ebff"/><stop offset="0.348" stop-color="#00f3ff"/><stop offset="0.369" stop-color="#00fbff"/><stop offset="0.389" stop-color="#05fffa"/><stop offset="0.410" stop-color="#0ffff0"/><stop offset="0.430" stop-color="#18ffe7"/><stop offset="0.451" stop-color="#1effe1"/><stop offset="0.471" stop-color="#22ffdd"/><stop offset="0.492" stop-color="#24ffdb"/><stop offset="0.512" stop-color="#23ffdc"/><stop offset="0.533" stop-color="#20ffdf"/><stop offset="0.553" stop-color="#1bffe4"/><stop offset="0.574" stop-color="#13ffec"/><stop offset="0.594" stop-color="#0afff5"/><stop offset="0.615" stop-color="#00feff"/><stop offset="0.635" stop-color="#00f7ff"/><stop offset="0.656" stop-color="#00efff"/><stop offset="0.676" stop-color="#00e6ff"/><stop offset="0.697" stop-color="#00dcff"/><stop offset="0.717" stop-color="#00d2ff"/><stop offset="0.738" stop-color="#00a8ff"/><stop offset="0.758" stop-color="#0065ff"/><stop offset="0.779" stop-color="#0032ff"/><stop offset="0.799" stop-color="#000bff"/><stop offset="0.820" stop-color="#0000ed"/><stop offset="0.840" stop-color="#0000d7"/><stop offset="0.861" stop-color="#0000c6"/><stop offset="0.881" stop-color="#0000ba"/><stop offset="0.902" stop-color="#0000b0"/><stop offset="0.922" stop-color="#0000a9"/><stop offset="0.943" stop-color="#0000a4"/><stop offset="0.963" stop-color="#0000a0"/><stop offset="0.984" stop-color="#00009d"/></linearGradient><linearGradient id="si15" gradientUnits="userSpaceOnUse" x1="38.0" x2="99.0" y1="0" y2="0"><stop offset="0.000" stop-color="#00009b"/><stop offset="0.020" stop-color="#00009d"/><stop offset="0.041" stop-color="#0000a0"/><stop offset="0.061" stop-color="#0000a4"/><stop offset="0.082" stop-color="#0000a9"/><stop offset="0.102" stop-color="#0000b0"/><stop offset="0.123" stop-color="#0000b9"/><stop offset="0.143" stop-color="#0000c5"/><stop offset="0.164" stop-color="#0000d5"/><stop offset="0.184" stop-color="#0000eb"/><stop offset="0.205" stop-color="#0008ff"/><stop offset="0.225" stop-color="#002eff"/><stop offset="0.246" stop-color="#0061ff"/><stop offset="0.266" stop-color="#00a4ff"/><stop offset="0.287" stop-color="#00eeff"/><stop offset="0.307" stop-color="#00f9ff"/><stop offset="0.328" stop-color="#04fffb"/><stop offset="0.348" stop-color="#0dfff2"/><stop offset="0.369" stop-color="#1affe5"/><stop offset="0.389" stop-color="#27ffd8"/><stop offset="0.410" stop-color="#33ffcc"/><stop offset="0.430" stop-color="#3cffc3"/><stop offset="0.451" stop-color="#44ffbb"/><stop offset="0.471" stop-color="#48ffb7"/><stop offset="0.492" stop-color="#4affb5"/><stop offset="0.512" stop-color="#49ffb6"/><stop offset="0.533" stop-color="#46ffb9"/><stop offset="0.553" stop-color="#40ffbf"/><stop offset="0.574" stop-color="#38ffc7"/><stop offset="0.594" stop-color="#2dffd2"/><stop offset="0.615" stop-color="#20ffdf"/><stop offset="0.635" stop-color="#12ffed"/><stop offset="0.656" stop-color="#09fff6"/><stop offset="0.676" stop-color="#00feff"/><stop offset="0.697" stop-color="#00f4ff"/><stop offset="0.717" stop-color="#00e9ff"/><stop offset="0.738" stop-color="#00adff"/><stop offset="0.758" stop-color="#0068ff"/><stop offset="0.779" stop-color="#0034ff"/><stop offset="0.799" stop-color="#000cff"/><stop offset="0.820" stop-color="#0000ee"/><stop offset="0.840" stop-color="#0000d8"/><stop offset="0.861" stop-color="#0000c7"/><stop offset="0.881" stop-color="#0000ba"/><stop offset="0.902" stop-color="#0000b1"/><stop offset="0.922" stop-color="#0000aa"/><stop offset="0.943" stop-color="#0000a4"/><stop offset="0.963" stop-color="#0000a0"/><stop offset="0.984" stop-color="#00009d"/></linearGradient><linearGradient id="si16" gradientUnits="userSpaceOnUse" x1="38.0" x2="99.0" y1="0" y2="0"><stop offset="0.000" stop-color="#00009b"/><stop offset="0.020" stop-color="#00009d"/><stop offset="0.041" stop-color="#0000a0"/><stop offset="0.061" stop-color="#0000a4"/><stop offset="0.082" stop-color="#0000a9"/><stop offset="0.102" stop-color="#0000b1"/><stop offset="0.123" stop-color="#0000ba"/><stop offset="0.143" stop-color="#0000c6"/><stop offset="0.164" stop-color="#0000d7"/><stop offset="0.184" stop-color="#0000ed"/><stop offset="0.205" stop-color="#000cff"/><stop offset="0.225" stop-color="#0033ff"/><stop offset="0.246" stop-color="#0066ff"/><stop offset="0.266" stop-color="#9dff62"/><stop offset="0.287" stop-color="#00f8ff"/><stop offset="0.307" stop-color="#04fffb"/><stop offset="0.328" stop-color="#0ffff0"/><stop offset="0.348" stop-color="#1effe1"/><stop offset="0.369" stop-color="#2effd1"/><stop offset="0.389" stop-color="#3dffc2"/><stop offset="0.410" stop-color="#49ffb6"/><stop offset="0.430" stop-color="#5bffa4"/><stop offset="0.451" stop-color="#69ff96"/><stop offset="0.471" stop-color="#72ff8d"/><stop offset="0.492" stop-color="#76ff89"/><stop offset="0.512" stop-color="#74ff8b"/><stop offset="0.533" stop-color="#6eff91"/><stop offset="0.553" stop-color="#62ff9d"/><stop offset="0.574" stop-color="#52ffad"/><stop offset="0.594" stop-color="#43ffbc"/><stop offset="0.615" stop-color="#35ffca"/><stop offset="0.635" stop-color="#26ffd9"/><stop offset="0.656" stop-color="#15ffea"/><stop offset="0.676" stop-color="#09fff6"/><stop offset="0.697" stop-color="#00fdff"/><stop offset="0.717" stop-color="#00f2ff"/><stop offset="0.738" stop-color="#91ff6e"/><stop offset="0.758" stop-color="#0096ff"/><stop offset="0.779" stop-color="#0038ff"/><stop offset="0.799" stop-color="#000fff"/><stop offset="0.820" stop-color="#0000f0"/><stop offset="0.840" stop-color="#0000d9"/><stop offset="0.861" stop-color="#0000c8"/><stop offset="0.881" stop-color="#0000bb"/><stop offset="0.902" stop-color="#0000b2"/><stop offset="0.922" stop-color="#0000aa"/><stop offset="0.943" stop-color="#0000a5"/><stop offset="0.963" stop-color="#0000a1"/><stop offset="0.984" stop-color="#00009d"/></linearGradient><linearGradient id="si17" gradientUnits="userSpaceOnUse" x1="38.0" x2="99.0" y1="0" y2="0"><stop offset="0.000" stop-color="#00009b"/><stop offset="0.020" stop-color="#00009d"/><stop offset="0.041" stop-color="#0000a0"/><stop offset="0.061" stop-color="#0000a5"/><stop offset="0.082" stop-color="#0000aa"/><stop offset="0.102" stop-color="#0000b1"/><stop offset="0.123" stop-color="#0000bb"/><stop offset="0.143" stop-color="#0000c8"/><stop offset="0.164" stop-color="#0000d9"/><stop offset="0.184" stop-color="#0000ef"/><stop offset="0.205" stop-color="#000fff"/><stop offset="0.225" stop-color="#0036ff"/><stop offset="0.246" stop-color="#0079ff"/><stop offset="0.266" stop-color="#ffc900"/><stop offset="0.287" stop-color="#02fffd"/><stop offset="0.307" stop-color="#0dfff2"/><stop offset="0.328" stop-color="#1effe1"/><stop offset="0.348" stop-color="#31ffce"/><stop offset="0.369" stop-color="#42ffbd"/><stop offset="0.389" stop-color="#58ffa7"/><stop offset="0.410" stop-color="#70ff8f"/><stop offset="0.430" stop-color="#84ff7b"/><stop offset="0.451" stop-color="#93ff6c"/><stop offset="0.471" stop-color="#a3ff5c"/><stop offset="0.492" stop-color="#abff54"/><stop offset="0.512" stop-color="#a8ff57"/><stop offset="0.533" stop-color="#9bff64"/><stop offset="0.553" stop-color="#8cff73"/><stop offset="0.574" stop-color="#7aff85"/><stop offset="0.594" stop-color="#64ff9b"/><stop offset="0.615" stop-color="#4affb5"/><stop offset="0.635" stop-color="#3affc5"/><stop offset="0.656" stop-color="#27ffd8"/><stop offset="0.676" stop-color="#14ffeb"/><stop offset="0.697" stop-color="#07fff8"/><stop offset="0.717" stop-color="#00fbff"/><stop offset="0.738" stop-color="#ffd900"/><stop offset="0.758" stop-color="#00e1ff"/><stop offset="0.779" stop-color="#003cff"/><stop offset="0.799" stop-color="#0013ff"/><stop offset="0.820" stop-color="#0000f2"/><stop offset="0.840" stop-color="#0000db"/><stop offset="0.861" stop-color="#0000c9"/><stop offset="0.881" stop-color="#0000bc"/><stop offset="0.902" stop-color="#0000b2"/><stop offset="0.922" stop-color="#0000ab"/><stop offset="0.943" stop-color="#0000a5"/><stop offset="0.963" stop-color="#0000a1"/><stop offset="0.984" stop-color="#00009e"/></linearGradient><linearGradient id="si18" gradientUnits="userSpaceOnUse" x1="38.0" x2="99.0" y1="0" y2="0"><stop offset="0.000" stop-color="#00009b"/><stop offset="0.020" stop-color="#00009e"/><stop offset="0.041" stop-color="#0000a1"/><stop offset="0.061" stop-color="#0000a5"/><stop offset="0.082" stop-color="#0000ab"/><stop offset="0.102" stop-color="#0000b2"/><stop offset="0.123" stop-color="#0000bc"/><stop offset="0.143" stop-color="#0000c9"/><stop offset="0.164" stop-color="#0000da"/><stop offset="0.184" stop-color="#0000f2"/><stop offset="0.205" stop-color="#0011ff"/><stop offset="0.225" stop-color="#003aff"/><stop offset="0.246" stop-color="#0091ff"/><stop offset="0.266" stop-color="#ff8000"/><stop offset="0.287" stop-color="#0afff5"/><stop offset="0.307" stop-color="#1affe5"/><stop offset="0.328" stop-color="#2fffd0"/><stop offset="0.348" stop-color="#43ffbc"/><stop offset="0.369" stop-color="#5fffa0"/><stop offset="0.389" stop-color="#7cff83"/><stop offset="0.410" stop-color="#97ff68"/><stop offset="0.430" stop-color="#c0ff3f"/><stop offset="0.451" stop-color="#dfff20"/><stop offset="0.471" stop-color="#f4ff0b"/><stop offset="0.492" stop-color="#fcff03"/><stop offset="0.512" stop-color="#f9ff06"/><stop offset="0.533" stop-color="#ebff14"/><stop offset="0.553" stop-color="#d0ff2f"/><stop offset="0.574" stop-color="#acff53"/><stop offset="0.594" stop-color="#89ff76"/><stop offset="0.615" stop-color="#6dff92"/><stop offset="0.635" stop-color="#4effb1"/><stop offset="0.656" stop-color="#39ffc6"/><stop offset="0.676" stop-color="#25ffda"/><stop offset="0.697" stop-color="#10ffef"/><stop offset="0.717" stop-color="#04fffb"/><stop offset="0.738" stop-color="#ff9200"/><stop offset="0.758" stop-color="#06fff9"/><stop offset="0.779" stop-color="#0040ff"/><stop offset="0.799" stop-color="#0015ff"/><stop offset="0.820" stop-color="#0000f5"/><stop offset="0.840" stop-color="#0000dd"/><stop offset="0.861" stop-color="#0000cb"/><stop offset="0.881" stop-color="#0000bd"/><stop offset="0.902" stop-color="#0000b3"/><stop offset="0.922" stop-color="#0000ab"/><stop offset="0.943" stop-color="#0000a5"/><stop offset="0.963" stop-color="#0000a1"/><stop offset="0.984" stop-color="#00009e"/></linearGradient><linearGradient id="si19" gradientUnits="userSpaceOnUse" x1="38.0" x2="99.0" y1="0" y2="0"><stop offset="0.000" stop-color="#00009b"/><stop offset="0.020" stop-color="#00009e"/><stop offset="0.041" stop-color="#0000a1"/><stop offset="0.061" stop-color="#0000a5"/><stop offset="0.082" stop-color="#0000ab"/><stop offset="0.102" stop-color="#0000b3"/><stop offset="0.123" stop-color="#0000bd"/><stop offset="0.143" stop-color="#0000ca"/><stop offset="0.164" stop-color="#0000dc"/><stop offset="0.184" stop-color="#0000f3"/><stop offset="0.205" stop-color="#0014ff"/><stop offset="0.225" stop-color="#003eff"/><stop offset="0.246" stop-color="#009dff"/><stop offset="0.266" stop-color="#ff6000"/><stop offset="0.287" stop-color="#13ffec"/><stop offset="0.307" stop-color="#29ffd6"/><stop offset="0.328" stop-color="#40ffbf"/><stop offset="0.348" stop-color="#5dffa2"/><stop offset="0.369" stop-color="#80ff7f"/><stop offset="0.389" stop-color="#a8ff57"/><stop offset="0.410" stop-color="#ddff22"/><stop offset="0.430" stop-color="#fff700"/><stop offset="0.451" stop-color="#ffda00"/><stop offset="0.471" stop-color="#ffc600"/><stop offset="0.492" stop-color="#ffbe00"/><stop offset="0.512" stop-color="#ffc100"/><stop offset="0.533" stop-color="#ffcf00"/><stop offset="0.553" stop-color="#ffe800"/><stop offset="0.574" stop-color="#f4ff0b"/><stop offset="0.594" stop-color="#c2ff3d"/><stop offset="0.615" stop-color="#8fff70"/><stop offset="0.635" stop-color="#6eff91"/><stop offset="0.656" stop-color="#4affb5"/><stop offset="0.676" stop-color="#34ffcb"/><stop offset="0.697" stop-color="#1effe1"/><stop offset="0.717" stop-color="#0bfff4"/><stop offset="0.738" stop-color="#ff7200"/><stop offset="0.758" stop-color="#16ffe9"/><stop offset="0.779" stop-color="#0043ff"/><stop offset="0.799" stop-color="#0018ff"/><stop offset="0.820" stop-color="#0000f7"/><stop offset="0.840" stop-color="#0000de"/><stop offset="0.861" stop-color="#0000cc"/><stop offset="0.881" stop-color="#0000be"/><stop offset="0.902" stop-color="#0000b4"/><stop offset="0.922" stop-color="#0000ac"/><stop offset="0.943" stop-color="#0000a6"/><stop offset="0.963" stop-color="#0000a1"/><stop offset="0.984" stop-color="#00009e"/></linearGradient><linearGradient id="si20" gradientUnits="userSpaceOnUse" x1="38.0" x2="99.0" y1="0" y2="0"><stop offset="0.000" stop-color="#00009c"/><stop offset="0.020" stop-color="#00009e"/><stop offset="0.041" stop-color="#0000a1"/><stop offset="0.061" stop-color="#0000a6"/><stop offset="0.082" stop-color="#0000ac"/><stop offset="0.102" stop-color="#0000b4"/><stop offset="0.123" stop-color="#0000be"/><stop offset="0.143" stop-color="#0000cc"/><stop offset="0.164" stop-color="#0000de"/><stop offset="0.184" stop-color="#0000f6"/><stop offset="0.205" stop-color="#0018ff"/><stop offset="0.225" stop-color="#0043ff"/><stop offset="0.246" stop-color="#00a1ff"/><stop offset="0.266" stop-color="#ff5300"/><stop offset="0.287" stop-color="#1fffe0"/><stop offset="0.307" stop-color="#37ffc8"/><stop offset="0.328" stop-color="#52ffad"/><stop offset="0.348" stop-color="#79ff86"/><stop offset="0.369" stop-color="#a6ff59"/><stop offset="0.389" stop-color="#e7ff18"/><stop offset="0.410" stop-color="#ffe400"/><stop offset="0.430" stop-color="#ffba00"/><stop offset="0.451" stop-color="#ff9900"/><stop offset="0.471" stop-color="#ff8300"/><stop offset="0.492" stop-color="#ff7900"/><stop offset="0.512" stop-color="#ff7c00"/><stop offset="0.533" stop-color="#ff8d00"/><stop offset="0.553" stop-color="#ffa900"/><stop offset="0.574" stop-color="#ffcf00"/><stop offset="0.594" stop-color="#fffd00"/><stop offset="0.615" stop-color="#c5ff3a"/><stop offset="0.635" stop-color="#8bff74"/><stop offset="0.656" stop-color="#65ff9a"/><stop offset="0.676" stop-color="#42ffbd"/><stop offset="0.697" stop-color="#2bffd4"/><stop offset="0.717" stop-color="#13ffec"/><stop offset="0.738" stop-color="#ff6600"/><stop offset="0.758" stop-color="#1cffe3"/><stop offset="0.779" stop-color="#0046ff"/><stop offset="0.799" stop-color="#001aff"/><stop offset="0.820" stop-color="#0000f8"/><stop offset="0.840" stop-color="#0000e0"/><stop offset="0.861" stop-color="#0000cd"/><stop offset="0.881" stop-color="#0000bf"/><stop offset="0.902" stop-color="#0000b4"/><stop offset="0.922" stop-color="#0000ac"/><stop offset="0.943" stop-color="#0000a6"/><stop offset="0.963" stop-color="#0000a2"/><stop offset="0.984" stop-color="#00009e"/></linearGradient><linearGradient id="si21" gradientUnits="userSpaceOnUse" x1="38.0" x2="99.0" y1="0" y2="0"><stop offset="0.000" stop-color="#00009c"/><stop offset="0.020" stop-color="#00009e"/><stop offset="0.041" stop-color="#0000a2"/><stop offset="0.061" stop-color="#0000a6"/><stop offset="0.082" stop-color="#0000ac"/><stop offset="0.102" stop-color="#0000b4"/><stop offset="0.123" stop-color="#0000bf"/><stop offset="0.143" stop-color="#0000cd"/><stop offset="0.164" stop-color="#0000e0"/><stop offset="0.184" stop-color="#0000f9"/><stop offset="0.205" stop-color="#001cff"/><stop offset="0.225" stop-color="#0048ff"/><stop offset="0.246" stop-color="#00a2ff"/><stop offset="0.266" stop-color="#ff4e00"/><stop offset="0.287" stop-color="#2bffd4"/><stop offset="0.307" stop-color="#44ffbb"/><stop offset="0.328" stop-color="#69ff96"/><stop offset="0.348" stop-color="#93ff6c"/><stop offset="0.369" stop-color="#dbff24"/><stop offset="0.389" stop-color="#ffe400"/><stop offset="0.410" stop-color="#ffae00"/><stop offset="0.430" stop-color="#ff7f00"/><stop offset="0.451" stop-color="#ff5f00"/><stop offset="0.471" stop-color="#ff4c00"/><stop offset="0.492" stop-color="#ff4300"/><stop offset="0.512" stop-color="#ff4600"/><stop offset="0.533" stop-color="#ff5500"/><stop offset="0.553" stop-color="#ff6d00"/><stop offset="0.574" stop-color="#ff9600"/><stop offset="0.594" stop-color="#ffc900"/><stop offset="0.615" stop-color="#fcff03"/><stop offset="0.635" stop-color="#b5ff4a"/><stop offset="0.656" stop-color="#7eff81"/><stop offset="0.676" stop-color="#53ffac"/><stop offset="0.697" stop-color="#37ffc8"/><stop offset="0.717" stop-color="#1effe1"/><stop offset="0.738" stop-color="#ff6100"/><stop offset="0.758" stop-color="#1fffe0"/><stop offset="0.779" stop-color="#004aff"/><stop offset="0.799" stop-color="#001dff"/><stop offset="0.820" stop-color="#0000fa"/><stop offset="0.840" stop-color="#0000e1"/><stop offset="0.861" stop-color="#0000ce"/><stop offset="0.881" stop-color="#0000c0"/><stop offset="0.902" stop-color="#0000b5"/><stop offset="0.922" stop-color="#0000ad"/><stop offset="0.943" stop-color="#0000a7"/><stop offset="0.963" stop-color="#0000a2"/><stop offset="0.984" stop-color="#00009e"/></linearGradient><linearGradient id="si22" gradientUnits="userSpaceOnUse" x1="38.0" x2="99.0" y1="0" y2="0"><stop offset="0.000" stop-color="#00009c"/><stop offset="0.020" stop-color="#00009f"/><stop offset="0.041" stop-color="#0000a2"/><stop offset="0.061" stop-color="#0000a7"/><stop offset="0.082" stop-color="#0000ad"/><stop offset="0.102" stop-color="#0000b5"/><stop offset="0.123" stop-color="#0000c0"/><stop offset="0.143" stop-color="#0000cf"/><stop offset="0.164" stop-color="#0000e2"/><stop offset="0.184" stop-color="#0000fc"/><stop offset="0.205" stop-color="#001fff"/><stop offset="0.225" stop-color="#004cff"/><stop offset="0.246" stop-color="#00a3ff"/><stop offset="0.266" stop-color="#ff4d00"/><stop offset="0.287" stop-color="#35ffca"/><stop offset="0.307" stop-color="#52ffad"/><stop offset="0.328" stop-color="#7eff81"/><stop offset="0.348" stop-color="#bbff44"/><stop offset="0.369" stop-color="#fff700"/><stop offset="0.389" stop-color="#ffb700"/><stop offset="0.410" stop-color="#ff7c00"/><stop offset="0.430" stop-color="#ff5200"/><stop offset="0.451" stop-color="#ff3100"/><stop offset="0.471" stop-color="#ff1a00"/><stop offset="0.492" stop-color="#ff1000"/><stop offset="0.512" stop-color="#ff1300"/><stop offset="0.533" stop-color="#ff2500"/><stop offset="0.553" stop-color="#ff4100"/><stop offset="0.574" stop-color="#ff6600"/><stop offset="0.594" stop-color="#ff9a00"/><stop offset="0.615" stop-color="#ffd800"/><stop offset="0.635" stop-color="#e2ff1d"/><stop offset="0.656" stop-color="#93ff6c"/><stop offset="0.676" stop-color="#67ff98"/><stop offset="0.697" stop-color="#41ffbe"/><stop offset="0.717" stop-color="#27ffd8"/><stop offset="0.738" stop-color="#ff6000"/><stop offset="0.758" stop-color="#1fffe0"/><stop offset="0.779" stop-color="#004eff"/><stop offset="0.799" stop-color="#0020ff"/><stop offset="0.820" stop-color="#0000fd"/><stop offset="0.840" stop-color="#0000e3"/><stop offset="0.861" stop-color="#0000cf"/><stop offset="0.881" stop-color="#0000c1"/><stop offset="0.902" stop-color="#0000b6"/><stop offset="0.922" stop-color="#0000ad"/><stop offset="0.943" stop-color="#0000a7"/><stop offset="0.963" stop-color="#0000a2"/><stop offset="0.984" stop-color="#00009f"/></linearGradient><linearGradient id="si23" gradientUnits="userSpaceOnUse" x1="38.0" x2="99.0" y1="0" y2="0"><stop offset="0.000" stop-color="#00009c"/><stop offset="0.020" stop-color="#00009f"/><stop offset="0.041" stop-color="#0000a2"/><stop offset="0.061" stop-color="#0000a7"/><stop offset="0.082" stop-color="#0000ad"/><stop offset="0.102" stop-color="#0000b6"/><stop offset="0.123" stop-color="#0000c1"/><stop offset="0.143" stop-color="#0000d0"/><stop offset="0.164" stop-color="#0000e4"/><stop offset="0.184" stop-color="#0000fe"/><stop offset="0.205" stop-color="#0022ff"/><stop offset="0.225" stop-color="#0050ff"/><stop offset="0.246" stop-color="#00a3ff"/><stop offset="0.266" stop-color="#ff4d00"/><stop offset="0.287" stop-color="#3dffc2"/><stop offset="0.307" stop-color="#61ff9e"/><stop offset="0.328" stop-color="#90ff6f"/><stop offset="0.348" stop-color="#e0ff1f"/><stop offset="0.369" stop-color="#ffd400"/><stop offset="0.389" stop-color="#ff9000"/><stop offset="0.410" stop-color="#ff5800"/><stop offset="0.430" stop-color="#ff2b00"/><stop offset="0.451" stop-color="#ff0500"/><stop offset="0.471" stop-color="#f70000"/><stop offset="0.492" stop-color="#f20000"/><stop offset="0.512" stop-color="#f40000"/><stop offset="0.533" stop-color="#fb0000"/><stop offset="0.553" stop-color="#ff1800"/><stop offset="0.574" stop-color="#ff4200"/><stop offset="0.594" stop-color="#ff7100"/><stop offset="0.615" stop-color="#ffb300"/><stop offset="0.635" stop-color="#fff900"/><stop offset="0.656" stop-color="#b4ff4b"/><stop offset="0.676" stop-color="#78ff87"/><stop offset="0.697" stop-color="#4affb5"/><stop offset="0.717" stop-color="#2fffd0"/><stop offset="0.738" stop-color="#ff5f00"/><stop offset="0.758" stop-color="#1fffe0"/><stop offset="0.779" stop-color="#0052ff"/><stop offset="0.799" stop-color="#0023ff"/><stop offset="0.820" stop-color="#0000ff"/><stop offset="0.840" stop-color="#0000e4"/><stop offset="0.861" stop-color="#0000d0"/><stop offset="0.881" stop-color="#0000c1"/><stop offset="0.902" stop-color="#0000b6"/><stop offset="0.922" stop-color="#0000ae"/><stop offset="0.943" stop-color="#0000a7"/><stop offset="0.963" stop-color="#0000a3"/><stop offset="0.984" stop-color="#00009f"/></linearGradient><linearGradient id="si24" gradientUnits="userSpaceOnUse" x1="38.0" x2="99.0" y1="0" y2="0"><stop offset="0.000" stop-color="#00009c"/><stop offset="0.020" stop-color="#00009f"/><stop offset="0.041" stop-color="#0000a3"/><stop offset="0.061" stop-color="#0000a7"/><stop offset="0.082" stop-color="#0000ae"/><stop offset="0.102" stop-color="#0000b6"/><stop offset="0.123" stop-color="#0000c2"/><stop offset="0.143" stop-color="#0000d1"/><stop offset="0.164" stop-color="#0000e5"/><stop offset="0.184" stop-color="#0000ff"/><stop offset="0.205" stop-color="#0024ff"/><stop offset="0.225" stop-color="#0053ff"/><stop offset="0.246" stop-color="#00a3ff"/><stop offset="0.266" stop-color="#ff4d00"/><stop offset="0.287" stop-color="#43ffbc"/><stop offset="0.307" stop-color="#6eff91"/><stop offset="0.328" stop-color="#a4ff5b"/><stop offset="0.348" stop-color="#fcff03"/><stop offset="0.369" stop-color="#ffb900"/><stop offset="0.389" stop-color="#ff7000"/><stop offset="0.410" stop-color="#ff3c00"/><stop offset="0.430" stop-color="#ff0a00"/><stop offset="0.451" stop-color="#f30000"/><stop offset="0.471" stop-color="#e70000"/><stop offset="0.492" stop-color="#e10000"/><stop offset="0.512" stop-color="#e30000"/><stop offset="0.533" stop-color="#ec0000"/><stop offset="0.553" stop-color="#fa0000"/><stop offset="0.574" stop-color="#ff2300"/><stop offset="0.594" stop-color="#ff5700"/><stop offset="0.615" stop-color="#ff9600"/><stop offset="0.635" stop-color="#ffdf00"/><stop offset="0.656" stop-color="#cfff30"/><stop offset="0.676" stop-color="#85ff7a"/><stop offset="0.697" stop-color="#55ffaa"/><stop offset="0.717" stop-color="#35ffca"/><stop offset="0.738" stop-color="#ff5f00"/><stop offset="0.758" stop-color="#1fffe0"/><stop offset="0.779" stop-color="#0054ff"/><stop offset="0.799" stop-color="#0025ff"/><stop offset="0.820" stop-color="#0001ff"/><stop offset="0.840" stop-color="#0000e6"/><stop offset="0.861" stop-color="#0000d1"/><stop offset="0.881" stop-color="#0000c2"/><stop offset="0.902" stop-color="#0000b7"/><stop offset="0.922" stop-color="#0000ae"/><stop offset="0.943" stop-color="#0000a8"/><stop offset="0.963" stop-color="#0000a3"/><stop offset="0.984" stop-color="#00009f"/></linearGradient><linearGradient id="si25" gradientUnits="userSpaceOnUse" x1="38.0" x2="99.0" y1="0" y2="0"><stop offset="0.000" stop-color="#00009c"/><stop offset="0.020" stop-color="#00009f"/><stop offset="0.041" stop-color="#0000a3"/><stop offset="0.061" stop-color="#0000a8"/><stop offset="0.082" stop-color="#0000ae"/><stop offset="0.102" stop-color="#0000b7"/><stop offset="0.123" stop-color="#0000c2"/><stop offset="0.143" stop-color="#0000d1"/><stop offset="0.164" stop-color="#0000e6"/><stop offset="0.184" stop-color="#0001ff"/><stop offset="0.205" stop-color="#0025ff"/><stop offset="0.225" stop-color="#0054ff"/><stop offset="0.246" stop-color="#00a3ff"/><stop offset="0.266" stop-color="#ff4d00"/><stop offset="0.287" stop-color="#48ffb7"/><stop offset="0.307" stop-color="#76ff89"/><stop offset="0.328" stop-color="#b6ff49"/><stop offset="0.348" stop-color="#fff100"/><stop offset="0.369" stop-color="#ffa500"/><stop offset="0.389" stop-color="#ff5f00"/><stop offset="0.410" stop-color="#ff2700"/><stop offset="0.430" stop-color="#f90000"/><stop offset="0.451" stop-color="#e80000"/><stop offset="0.471" stop-color="#d80000"/><stop offset="0.492" stop-color="#cf0000"/><stop offset="0.512" stop-color="#d30000"/><stop offset="0.533" stop-color="#e00000"/><stop offset="0.553" stop-color="#f10000"/><stop offset="0.574" stop-color="#ff0d00"/><stop offset="0.594" stop-color="#ff4400"/><stop offset="0.615" stop-color="#ff8100"/><stop offset="0.635" stop-color="#ffcd00"/><stop offset="0.656" stop-color="#e2ff1d"/><stop offset="0.676" stop-color="#8eff71"/><stop offset="0.697" stop-color="#5dffa2"/><stop offset="0.717" stop-color="#39ffc6"/><stop offset="0.738" stop-color="#ff5f00"/><stop offset="0.758" stop-color="#1fffe0"/><stop offset="0.779" stop-color="#0056ff"/><stop offset="0.799" stop-color="#0026ff"/><stop offset="0.820" stop-color="#0002ff"/><stop offset="0.840" stop-color="#0000e6"/><stop offset="0.861" stop-color="#0000d2"/><stop offset="0.881" stop-color="#0000c3"/><stop offset="0.902" stop-color="#0000b7"/><stop offset="0.922" stop-color="#0000ae"/><stop offset="0.943" stop-color="#0000a8"/><stop offset="0.963" stop-color="#0000a3"/><stop offset="0.984" stop-color="#00009f"/></linearGradient><linearGradient id="si26" gradientUnits="userSpaceOnUse" x1="38.0" x2="99.0" y1="0" y2="0"><stop offset="0.000" stop-color="#00009c"/><stop offset="0.020" stop-color="#00009f"/><stop offset="0.041" stop-color="#0000a3"/><stop offset="0.061" stop-color="#0000a8"/><stop offset="0.082" stop-color="#0000ae"/><stop offset="0.102" stop-color="#0000b7"/><stop offset="0.123" stop-color="#0000c2"/><stop offset="0.143" stop-color="#0000d2"/><stop offset="0.164" stop-color="#0000e6"/><stop offset="0.184" stop-color="#0002ff"/><stop offset="0.205" stop-color="#0026ff"/><stop offset="0.225" stop-color="#0055ff"/><stop offset="0.246" stop-color="#00a3ff"/><stop offset="0.266" stop-color="#ff4d00"/><stop offset="0.287" stop-color="#4affb5"/><stop offset="0.307" stop-color="#7bff84"/><stop offset="0.328" stop-color="#c0ff3f"/><stop offset="0.348" stop-color="#ffe800"/><stop offset="0.369" stop-color="#ff9a00"/><stop offset="0.389" stop-color="#ff5600"/><stop offset="0.410" stop-color="#ff1c00"/><stop offset="0.430" stop-color="#f40000"/><stop offset="0.451" stop-color="#e10000"/><stop offset="0.471" stop-color="#ce0000"/><stop offset="0.492" stop-color="#be0000"/><stop offset="0.512" stop-color="#c50000"/><stop offset="0.533" stop-color="#d70000"/><stop offset="0.553" stop-color="#eb0000"/><stop offset="0.574" stop-color="#ff0000"/><stop offset="0.594" stop-color="#ff3a00"/><stop offset="0.615" stop-color="#ff7500"/><stop offset="0.635" stop-color="#ffc300"/><stop offset="0.656" stop-color="#ecff13"/><stop offset="0.676" stop-color="#93ff6c"/><stop offset="0.697" stop-color="#61ff9e"/><stop offset="0.717" stop-color="#3bffc4"/><stop offset="0.738" stop-color="#ff5f00"/><stop offset="0.758" stop-color="#1fffe0"/><stop offset="0.779" stop-color="#0057ff"/><stop offset="0.799" stop-color="#0027ff"/><stop offset="0.820" stop-color="#0003ff"/><stop offset="0.840" stop-color="#0000e7"/><stop offset="0.861" stop-color="#0000d2"/><stop offset="0.881" stop-color="#0000c3"/><stop offset="0.902" stop-color="#0000b7"/><stop offset="0.922" stop-color="#0000af"/><stop offset="0.943" stop-color="#0000a8"/><stop offset="0.963" stop-color="#0000a3"/><stop offset="0.984" stop-color="#00009f"/></linearGradient><linearGradient id="si27" gradientUnits="userSpaceOnUse" x1="38.0" x2="99.0" y1="0" y2="0"><stop offset="0.000" stop-color="#00009c"/><stop offset="0.020" stop-color="#00009f"/><stop offset="0.041" stop-color="#0000a3"/><stop offset="0.061" stop-color="#0000a8"/><stop offset="0.082" stop-color="#0000ae"/><stop offset="0.102" stop-color="#0000b7"/><stop offset="0.123" stop-color="#0000c2"/><stop offset="0.143" stop-color="#0000d2"/><stop offset="0.164" stop-color="#0000e6"/><stop offset="0.184" stop-color="#0002ff"/><stop offset="0.205" stop-color="#0026ff"/><stop offset="0.225" stop-color="#0056ff"/><stop offset="0.246" stop-color="#00a3ff"/><stop offset="0.266" stop-color="#ff4d00"/><stop offset="0.287" stop-color="#4affb5"/><stop offset="0.307" stop-color="#7bff84"/><stop offset="0.328" stop-color="#c0ff3f"/><stop offset="0.348" stop-color="#ffe700"/><stop offset="0.369" stop-color="#ff9900"/><stop offset="0.389" stop-color="#ff5500"/><stop offset="0.410" stop-color="#ff1b00"/><stop offset="0.430" stop-color="#f40000"/><stop offset="0.451" stop-color="#e00000"/><stop offset="0.471" stop-color="#cc0000"/><stop offset="0.492" stop-color="#bb0000"/><stop offset="0.512" stop-color="#c30000"/><stop offset="0.533" stop-color="#d60000"/><stop offset="0.553" stop-color="#ea0000"/><stop offset="0.574" stop-color="#fe0000"/><stop offset="0.594" stop-color="#ff3900"/><stop offset="0.615" stop-color="#ff7400"/><stop offset="0.635" stop-color="#ffc200"/><stop offset="0.656" stop-color="#edff12"/><stop offset="0.676" stop-color="#93ff6c"/><stop offset="0.697" stop-color="#62ff9d"/><stop offset="0.717" stop-color="#3cffc3"/><stop offset="0.738" stop-color="#ff5f00"/><stop offset="0.758" stop-color="#1fffe0"/><stop offset="0.779" stop-color="#0057ff"/><stop offset="0.799" stop-color="#0027ff"/><stop offset="0.820" stop-color="#0003ff"/><stop offset="0.840" stop-color="#0000e7"/><stop offset="0.861" stop-color="#0000d2"/><stop offset="0.881" stop-color="#0000c3"/><stop offset="0.902" stop-color="#0000b7"/><stop offset="0.922" stop-color="#0000af"/><stop offset="0.943" stop-color="#0000a8"/><stop offset="0.963" stop-color="#0000a3"/><stop offset="0.984" stop-color="#00009f"/></linearGradient><linearGradient id="si28" gradientUnits="userSpaceOnUse" x1="38.0" x2="99.0" y1="0" y2="0"><stop offset="0.000" stop-color="#00009c"/><stop offset="0.020" stop-color="#00009f"/><stop offset="0.041" stop-color="#0000a3"/><stop offset="0.061" stop-color="#0000a8"/><stop offset="0.082" stop-color="#0000ae"/><stop offset="0.102" stop-color="#0000b7"/><stop offset="0.123" stop-color="#0000c2"/><stop offset="0.143" stop-color="#0000d1"/><stop offset="0.164" stop-color="#0000e6"/><stop offset="0.184" stop-color="#0002ff"/><stop offset="0.205" stop-color="#0025ff"/><stop offset="0.225" stop-color="#0055ff"/><stop offset="0.246" stop-color="#00a3ff"/><stop offset="0.266" stop-color="#ff4d00"/><stop offset="0.287" stop-color="#48ffb7"/><stop offset="0.307" stop-color="#78ff87"/><stop offset="0.328" stop-color="#b9ff46"/><stop offset="0.348" stop-color="#ffef00"/><stop offset="0.369" stop-color="#ffa200"/><stop offset="0.389" stop-color="#ff5d00"/><stop offset="0.410" stop-color="#ff2400"/><stop offset="0.430" stop-color="#f80000"/><stop offset="0.451" stop-color="#e60000"/><stop offset="0.471" stop-color="#d60000"/><stop offset="0.492" stop-color="#cc0000"/><stop offset="0.512" stop-color="#d00000"/><stop offset="0.533" stop-color="#de0000"/><stop offset="0.553" stop-color="#ef0000"/><stop offset="0.574" stop-color="#ff0900"/><stop offset="0.594" stop-color="#ff4100"/><stop offset="0.615" stop-color="#ff7d00"/><stop offset="0.635" stop-color="#ffca00"/><stop offset="0.656" stop-color="#e5ff1a"/><stop offset="0.676" stop-color="#8fff70"/><stop offset="0.697" stop-color="#5effa1"/><stop offset="0.717" stop-color="#3affc5"/><stop offset="0.738" stop-color="#ff5f00"/><stop offset="0.758" stop-color="#1fffe0"/><stop offset="0.779" stop-color="#0057ff"/><stop offset="0.799" stop-color="#0027ff"/><stop offset="0.820" stop-color="#0003ff"/><stop offset="0.840" stop-color="#0000e6"/><stop offset="0.861" stop-color="#0000d2"/><stop offset="0.881" stop-color="#0000c3"/><stop offset="0.902" stop-color="#0000b7"/><stop offset="0.922" stop-color="#0000ae"/><stop offset="0.943" stop-color="#0000a8"/><stop offset="0.963" stop-color="#0000a3"/><stop offset="0.984" stop-color="#00009f"/></linearGradient><linearGradient id="si29" gradientUnits="userSpaceOnUse" x1="38.0" x2="99.0" y1="0" y2="0"><stop offset="0.000" stop-color="#00009c"/><stop offset="0.020" stop-color="#00009f"/><stop offset="0.041" stop-color="#0000a3"/><stop offset="0.061" stop-color="#0000a7"/><stop offset="0.082" stop-color="#0000ae"/><stop offset="0.102" stop-color="#0000b6"/><stop offset="0.123" stop-color="#0000c2"/><stop offset="0.143" stop-color="#0000d1"/><stop offset="0.164" stop-color="#0000e5"/><stop offset="0.184" stop-color="#0001ff"/><stop offset="0.205" stop-color="#0024ff"/><stop offset="0.225" stop-color="#0053ff"/><stop offset="0.246" stop-color="#00a3ff"/><stop offset="0.266" stop-color="#ff4d00"/><stop offset="0.287" stop-color="#44ffbb"/><stop offset="0.307" stop-color="#70ff8f"/><stop offset="0.328" stop-color="#a8ff57"/><stop offset="0.348" stop-color="#fffe00"/><stop offset="0.369" stop-color="#ffb400"/><stop offset="0.389" stop-color="#ff6c00"/><stop offset="0.410" stop-color="#ff3700"/><stop offset="0.430" stop-color="#ff0400"/><stop offset="0.451" stop-color="#f00000"/><stop offset="0.471" stop-color="#e40000"/><stop offset="0.492" stop-color="#dd0000"/><stop offset="0.512" stop-color="#e00000"/><stop offset="0.533" stop-color="#ea0000"/><stop offset="0.553" stop-color="#f80000"/><stop offset="0.574" stop-color="#ff1e00"/><stop offset="0.594" stop-color="#ff5300"/><stop offset="0.615" stop-color="#ff9100"/><stop offset="0.635" stop-color="#ffdb00"/><stop offset="0.656" stop-color="#d3ff2c"/><stop offset="0.676" stop-color="#87ff78"/><stop offset="0.697" stop-color="#57ffa8"/><stop offset="0.717" stop-color="#36ffc9"/><stop offset="0.738" stop-color="#ff5f00"/><stop offset="0.758" stop-color="#1fffe0"/><stop offset="0.779" stop-color="#0055ff"/><stop offset="0.799" stop-color="#0025ff"/><stop offset="0.820" stop-color="#0002ff"/><stop offset="0.840" stop-color="#0000e6"/><stop offset="0.861" stop-color="#0000d2"/><stop offset="0.881" stop-color="#0000c2"/><stop offset="0.902" stop-color="#0000b7"/><stop offset="0.922" stop-color="#0000ae"/><stop offset="0.943" stop-color="#0000a8"/><stop offset="0.963" stop-color="#0000a3"/><stop offset="0.984" stop-color="#00009f"/></linearGradient><linearGradient id="si30" gradientUnits="userSpaceOnUse" x1="38.0" x2="99.0" y1="0" y2="0"><stop offset="0.000" stop-color="#00009c"/><stop offset="0.020" stop-color="#00009f"/><stop offset="0.041" stop-color="#0000a2"/><stop offset="0.061" stop-color="#0000a7"/><stop offset="0.082" stop-color="#0000ae"/><stop offset="0.102" stop-color="#0000b6"/><stop offset="0.123" stop-color="#0000c1"/><stop offset="0.143" stop-color="#0000d0"/><stop offset="0.164" stop-color="#0000e4"/><stop offset="0.184" stop-color="#0000fe"/><stop offset="0.205" stop-color="#0022ff"/><stop offset="0.225" stop-color="#0050ff"/><stop offset="0.246" stop-color="#00a3ff"/><stop offset="0.266" stop-color="#ff4d00"/><stop offset="0.287" stop-color="#3effc1"/><stop offset="0.307" stop-color="#64ff9b"/><stop offset="0.328" stop-color="#93ff6c"/><stop offset="0.348" stop-color="#e6ff19"/><stop offset="0.369" stop-color="#ffce00"/><stop offset="0.389" stop-color="#ff8900"/><stop offset="0.410" stop-color="#ff5200"/><stop offset="0.430" stop-color="#ff2400"/><stop offset="0.451" stop-color="#fe0000"/><stop offset="0.471" stop-color="#f40000"/><stop offset="0.492" stop-color="#ef0000"/><stop offset="0.512" stop-color="#f10000"/><stop offset="0.533" stop-color="#f80000"/><stop offset="0.553" stop-color="#ff1000"/><stop offset="0.574" stop-color="#ff3b00"/><stop offset="0.594" stop-color="#ff6b00"/><stop offset="0.615" stop-color="#ffad00"/><stop offset="0.635" stop-color="#fff300"/><stop offset="0.656" stop-color="#baff45"/><stop offset="0.676" stop-color="#7bff84"/><stop offset="0.697" stop-color="#4cffb3"/><stop offset="0.717" stop-color="#30ffcf"/><stop offset="0.738" stop-color="#ff5f00"/><stop offset="0.758" stop-color="#1fffe0"/><stop offset="0.779" stop-color="#0052ff"/><stop offset="0.799" stop-color="#0023ff"/><stop offset="0.820" stop-color="#0000ff"/><stop offset="0.840" stop-color="#0000e5"/><stop offset="0.861" stop-color="#0000d1"/><stop offset="0.881" stop-color="#0000c2"/><stop offset="0.902" stop-color="#0000b6"/><stop offset="0.922" stop-color="#0000ae"/><stop offset="0.943" stop-color="#0000a7"/><stop offset="0.963" stop-color="#0000a3"/><stop offset="0.984" stop-color="#00009f"/></linearGradient><linearGradient id="si31" gradientUnits="userSpaceOnUse" x1="38.0" x2="99.0" y1="0" y2="0"><stop offset="0.000" stop-color="#00009c"/><stop offset="0.020" stop-color="#00009f"/><stop offset="0.041" stop-color="#0000a2"/><stop offset="0.061" stop-color="#0000a7"/><stop offset="0.082" stop-color="#0000ad"/><stop offset="0.102" stop-color="#0000b5"/><stop offset="0.123" stop-color="#0000c0"/><stop offset="0.143" stop-color="#0000cf"/><stop offset="0.164" stop-color="#0000e2"/><stop offset="0.184" stop-color="#0000fc"/><stop offset="0.205" stop-color="#001fff"/><stop offset="0.225" stop-color="#004dff"/><stop offset="0.246" stop-color="#00a3ff"/><stop offset="0.266" stop-color="#ff4d00"/><stop offset="0.287" stop-color="#36ffc9"/><stop offset="0.307" stop-color="#55ffaa"/><stop offset="0.328" stop-color="#82ff7d"/><stop offset="0.348" stop-color="#c3ff3c"/><stop offset="0.369" stop-color="#ffef00"/><stop offset="0.389" stop-color="#ffaf00"/><stop offset="0.410" stop-color="#ff7200"/><stop offset="0.430" stop-color="#ff4a00"/><stop offset="0.451" stop-color="#ff2800"/><stop offset="0.471" stop-color="#ff1000"/><stop offset="0.492" stop-color="#ff0500"/><stop offset="0.512" stop-color="#ff0900"/><stop offset="0.533" stop-color="#ff1b00"/><stop offset="0.553" stop-color="#ff3800"/><stop offset="0.574" stop-color="#ff5e00"/><stop offset="0.594" stop-color="#ff9100"/><stop offset="0.615" stop-color="#ffd000"/><stop offset="0.635" stop-color="#eaff15"/><stop offset="0.656" stop-color="#99ff66"/><stop offset="0.676" stop-color="#6bff94"/><stop offset="0.697" stop-color="#43ffbc"/><stop offset="0.717" stop-color="#29ffd6"/><stop offset="0.738" stop-color="#ff6000"/><stop offset="0.758" stop-color="#1fffe0"/><stop offset="0.779" stop-color="#004fff"/><stop offset="0.799" stop-color="#0021ff"/><stop offset="0.820" stop-color="#0000fd"/><stop offset="0.840" stop-color="#0000e3"/><stop offset="0.861" stop-color="#0000d0"/><stop offset="0.881" stop-color="#0000c1"/><stop offset="0.902" stop-color="#0000b6"/><stop offset="0.922" stop-color="#0000ad"/><stop offset="0.943" stop-color="#0000a7"/><stop offset="0.963" stop-color="#0000a2"/><stop offset="0.984" stop-color="#00009f"/></linearGradient><linearGradient id="si32" gradientUnits="userSpaceOnUse" x1="38.0" x2="99.0" y1="0" y2="0"><stop offset="0.000" stop-color="#00009c"/><stop offset="0.020" stop-color="#00009e"/><stop offset="0.041" stop-color="#0000a2"/><stop offset="0.061" stop-color="#0000a6"/><stop offset="0.082" stop-color="#0000ad"/><stop offset="0.102" stop-color="#0000b5"/><stop offset="0.123" stop-color="#0000bf"/><stop offset="0.143" stop-color="#0000ce"/><stop offset="0.164" stop-color="#0000e1"/><stop offset="0.184" stop-color="#0000fa"/><stop offset="0.205" stop-color="#001cff"/><stop offset="0.225" stop-color="#0049ff"/><stop offset="0.246" stop-color="#00a3ff"/><stop offset="0.266" stop-color="#ff4e00"/><stop offset="0.287" stop-color="#2dffd2"/><stop offset="0.307" stop-color="#46ffb9"/><stop offset="0.328" stop-color="#6eff91"/><stop offset="0.348" stop-color="#99ff66"/><stop offset="0.369" stop-color="#e5ff1a"/><stop offset="0.389" stop-color="#ffda00"/><stop offset="0.410" stop-color="#ffa400"/><stop offset="0.430" stop-color="#ff7400"/><stop offset="0.451" stop-color="#ff5600"/><stop offset="0.471" stop-color="#ff4200"/><stop offset="0.492" stop-color="#ff3900"/><stop offset="0.512" stop-color="#ff3c00"/><stop offset="0.533" stop-color="#ff4b00"/><stop offset="0.553" stop-color="#ff6400"/><stop offset="0.574" stop-color="#ff8c00"/><stop offset="0.594" stop-color="#ffbf00"/><stop offset="0.615" stop-color="#fff900"/><stop offset="0.635" stop-color="#beff41"/><stop offset="0.656" stop-color="#82ff7d"/><stop offset="0.676" stop-color="#57ffa8"/><stop offset="0.697" stop-color="#39ffc6"/><stop offset="0.717" stop-color="#20ffdf"/><stop offset="0.738" stop-color="#ff6100"/><stop offset="0.758" stop-color="#1fffe0"/><stop offset="0.779" stop-color="#004bff"/><stop offset="0.799" stop-color="#001eff"/><stop offset="0.820" stop-color="#0000fb"/><stop offset="0.840" stop-color="#0000e1"/><stop offset="0.861" stop-color="#0000ce"/><stop offset="0.881" stop-color="#0000c0"/><stop offset="0.902" stop-color="#0000b5"/><stop offset="0.922" stop-color="#0000ad"/><stop offset="0.943" stop-color="#0000a7"/><stop offset="0.963" stop-color="#0000a2"/><stop offset="0.984" stop-color="#00009f"/></linearGradient><linearGradient id="si33" gradientUnits="userSpaceOnUse" x1="38.0" x2="99.0" y1="0" y2="0"><stop offset="0.000" stop-color="#00009c"/><stop offset="0.020" stop-color="#00009e"/><stop offset="0.041" stop-color="#0000a1"/><stop offset="0.061" stop-color="#0000a6"/><stop offset="0.082" stop-color="#0000ac"/><stop offset="0.102" stop-color="#0000b4"/><stop offset="0.123" stop-color="#0000be"/><stop offset="0.143" stop-color="#0000cc"/><stop offset="0.164" stop-color="#0000df"/><stop offset="0.184" stop-color="#0000f7"/><stop offset="0.205" stop-color="#0019ff"/><stop offset="0.225" stop-color="#0044ff"/><stop offset="0.246" stop-color="#00a1ff"/><stop offset="0.266" stop-color="#ff5100"/><stop offset="0.287" stop-color="#22ffdd"/><stop offset="0.307" stop-color="#3affc5"/><stop offset="0.328" stop-color="#57ffa8"/><stop offset="0.348" stop-color="#7eff81"/><stop offset="0.369" stop-color="#b1ff4e"/><stop offset="0.389" stop-color="#f3ff0c"/><stop offset="0.410" stop-color="#ffd900"/><stop offset="0.430" stop-color="#ffae00"/><stop offset="0.451" stop-color="#ff8c00"/><stop offset="0.471" stop-color="#ff7500"/><stop offset="0.492" stop-color="#ff6d00"/><stop offset="0.512" stop-color="#ff6f00"/><stop offset="0.533" stop-color="#ff7f00"/><stop offset="0.553" stop-color="#ff9c00"/><stop offset="0.574" stop-color="#ffc300"/><stop offset="0.594" stop-color="#fff200"/><stop offset="0.615" stop-color="#d1ff2e"/><stop offset="0.635" stop-color="#91ff6e"/><stop offset="0.656" stop-color="#6aff95"/><stop offset="0.676" stop-color="#45ffba"/><stop offset="0.697" stop-color="#2dffd2"/><stop offset="0.717" stop-color="#15ffea"/><stop offset="0.738" stop-color="#ff6400"/><stop offset="0.758" stop-color="#1dffe2"/><stop offset="0.779" stop-color="#0047ff"/><stop offset="0.799" stop-color="#001bff"/><stop offset="0.820" stop-color="#0000f9"/><stop offset="0.840" stop-color="#0000e0"/><stop offset="0.861" stop-color="#0000cd"/><stop offset="0.881" stop-color="#0000bf"/><stop offset="0.902" stop-color="#0000b4"/><stop offset="0.922" stop-color="#0000ac"/><stop offset="0.943" stop-color="#0000a6"/><stop offset="0.963" stop-color="#0000a2"/><stop offset="0.984" stop-color="#00009e"/></linearGradient><linearGradient id="si34" gradientUnits="userSpaceOnUse" x1="38.0" x2="99.0" y1="0" y2="0"><stop offset="0.000" stop-color="#00009b"/><stop offset="0.020" stop-color="#00009e"/><stop offset="0.041" stop-color="#0000a1"/><stop offset="0.061" stop-color="#0000a5"/><stop offset="0.082" stop-color="#0000ab"/><stop offset="0.102" stop-color="#0000b3"/><stop offset="0.123" stop-color="#0000bd"/><stop offset="0.143" stop-color="#0000ca"/><stop offset="0.164" stop-color="#0000dc"/><stop offset="0.184" stop-color="#0000f4"/><stop offset="0.205" stop-color="#0014ff"/><stop offset="0.225" stop-color="#003eff"/><stop offset="0.246" stop-color="#009eff"/><stop offset="0.266" stop-color="#ff5c00"/><stop offset="0.287" stop-color="#15ffea"/><stop offset="0.307" stop-color="#2cffd3"/><stop offset="0.328" stop-color="#43ffbc"/><stop offset="0.348" stop-color="#62ff9d"/><stop offset="0.369" stop-color="#86ff79"/><stop offset="0.389" stop-color="#b5ff4a"/><stop offset="0.410" stop-color="#ebff14"/><stop offset="0.430" stop-color="#ffeb00"/><stop offset="0.451" stop-color="#ffcd00"/><stop offset="0.471" stop-color="#ffb900"/><stop offset="0.492" stop-color="#ffb000"/><stop offset="0.512" stop-color="#ffb300"/><stop offset="0.533" stop-color="#ffc200"/><stop offset="0.553" stop-color="#ffdb00"/><stop offset="0.574" stop-color="#fffe00"/><stop offset="0.594" stop-color="#d0ff2f"/><stop offset="0.615" stop-color="#96ff69"/><stop offset="0.635" stop-color="#74ff8b"/><stop offset="0.656" stop-color="#4fffb0"/><stop offset="0.676" stop-color="#37ffc8"/><stop offset="0.697" stop-color="#20ffdf"/><stop offset="0.717" stop-color="#0dfff2"/><stop offset="0.738" stop-color="#ff6f00"/><stop offset="0.758" stop-color="#18ffe7"/><stop offset="0.779" stop-color="#0044ff"/><stop offset="0.799" stop-color="#0018ff"/><stop offset="0.820" stop-color="#0000f7"/><stop offset="0.840" stop-color="#0000de"/><stop offset="0.861" stop-color="#0000cc"/><stop offset="0.881" stop-color="#0000be"/><stop offset="0.902" stop-color="#0000b4"/><stop offset="0.922" stop-color="#0000ac"/><stop offset="0.943" stop-color="#0000a6"/><stop offset="0.963" stop-color="#0000a1"/><stop offset="0.984" stop-color="#00009e"/></linearGradient><linearGradient id="si35" gradientUnits="userSpaceOnUse" x1="38.0" x2="99.0" y1="0" y2="0"><stop offset="0.000" stop-color="#00009b"/><stop offset="0.020" stop-color="#00009e"/><stop offset="0.041" stop-color="#0000a1"/><stop offset="0.061" stop-color="#0000a5"/><stop offset="0.082" stop-color="#0000ab"/><stop offset="0.102" stop-color="#0000b2"/><stop offset="0.123" stop-color="#0000bc"/><stop offset="0.143" stop-color="#0000c9"/><stop offset="0.164" stop-color="#0000db"/><stop offset="0.184" stop-color="#0000f2"/><stop offset="0.205" stop-color="#0012ff"/><stop offset="0.225" stop-color="#003bff"/><stop offset="0.246" stop-color="#0094ff"/><stop offset="0.266" stop-color="#ff7700"/><stop offset="0.287" stop-color="#0cfff3"/><stop offset="0.307" stop-color="#1effe1"/><stop offset="0.328" stop-color="#33ffcc"/><stop offset="0.348" stop-color="#47ffb8"/><stop offset="0.369" stop-color="#65ff9a"/><stop offset="0.389" stop-color="#84ff7b"/><stop offset="0.410" stop-color="#a5ff5a"/><stop offset="0.430" stop-color="#cfff30"/><stop offset="0.451" stop-color="#efff10"/><stop offset="0.471" stop-color="#fffc00"/><stop offset="0.492" stop-color="#fff500"/><stop offset="0.512" stop-color="#fff700"/><stop offset="0.533" stop-color="#faff05"/><stop offset="0.553" stop-color="#dfff20"/><stop offset="0.574" stop-color="#baff45"/><stop offset="0.594" stop-color="#91ff6e"/><stop offset="0.615" stop-color="#74ff8b"/><stop offset="0.635" stop-color="#54ffab"/><stop offset="0.656" stop-color="#3dffc2"/><stop offset="0.676" stop-color="#28ffd7"/><stop offset="0.697" stop-color="#12ffed"/><stop offset="0.717" stop-color="#05fffa"/><stop offset="0.738" stop-color="#ff8900"/><stop offset="0.758" stop-color="#0afff5"/><stop offset="0.779" stop-color="#0040ff"/><stop offset="0.799" stop-color="#0016ff"/><stop offset="0.820" stop-color="#0000f5"/><stop offset="0.840" stop-color="#0000dd"/><stop offset="0.861" stop-color="#0000cb"/><stop offset="0.881" stop-color="#0000bd"/><stop offset="0.902" stop-color="#0000b3"/><stop offset="0.922" stop-color="#0000ab"/><stop offset="0.943" stop-color="#0000a6"/><stop offset="0.963" stop-color="#0000a1"/><stop offset="0.984" stop-color="#00009e"/></linearGradient><linearGradient id="si36" gradientUnits="userSpaceOnUse" x1="38.0" x2="99.0" y1="0" y2="0"><stop offset="0.000" stop-color="#00009b"/><stop offset="0.020" stop-color="#00009d"/><stop offset="0.041" stop-color="#0000a0"/><stop offset="0.061" stop-color="#0000a5"/><stop offset="0.082" stop-color="#0000aa"/><stop offset="0.102" stop-color="#0000b1"/><stop offset="0.123" stop-color="#0000bb"/><stop offset="0.143" stop-color="#0000c8"/><stop offset="0.164" stop-color="#0000d9"/><stop offset="0.184" stop-color="#0000f0"/><stop offset="0.205" stop-color="#000fff"/><stop offset="0.225" stop-color="#0037ff"/><stop offset="0.246" stop-color="#007fff"/><stop offset="0.266" stop-color="#ffb600"/><stop offset="0.287" stop-color="#04fffb"/><stop offset="0.307" stop-color="#0ffff0"/><stop offset="0.328" stop-color="#22ffdd"/><stop offset="0.348" stop-color="#35ffca"/><stop offset="0.369" stop-color="#46ffb9"/><stop offset="0.389" stop-color="#5fffa0"/><stop offset="0.410" stop-color="#78ff87"/><stop offset="0.430" stop-color="#8cff73"/><stop offset="0.451" stop-color="#a0ff5f"/><stop offset="0.471" stop-color="#b3ff4c"/><stop offset="0.492" stop-color="#bbff44"/><stop offset="0.512" stop-color="#b9ff46"/><stop offset="0.533" stop-color="#abff54"/><stop offset="0.553" stop-color="#94ff6b"/><stop offset="0.574" stop-color="#82ff7d"/><stop offset="0.594" stop-color="#6cff93"/><stop offset="0.615" stop-color="#51ffae"/><stop offset="0.635" stop-color="#3dffc2"/><stop offset="0.656" stop-color="#2bffd4"/><stop offset="0.676" stop-color="#18ffe7"/><stop offset="0.697" stop-color="#09fff6"/><stop offset="0.717" stop-color="#00fcff"/><stop offset="0.738" stop-color="#ffc600"/><stop offset="0.758" stop-color="#00eaff"/><stop offset="0.779" stop-color="#003dff"/><stop offset="0.799" stop-color="#0013ff"/><stop offset="0.820" stop-color="#0000f3"/><stop offset="0.840" stop-color="#0000db"/><stop offset="0.861" stop-color="#0000ca"/><stop offset="0.881" stop-color="#0000bc"/><stop offset="0.902" stop-color="#0000b2"/><stop offset="0.922" stop-color="#0000ab"/><stop offset="0.943" stop-color="#0000a5"/><stop offset="0.963" stop-color="#0000a1"/><stop offset="0.984" stop-color="#00009e"/></linearGradient><linearGradient id="si37" gradientUnits="userSpaceOnUse" x1="38.0" x2="99.0" y1="0" y2="0"><stop offset="0.000" stop-color="#00009b"/><stop offset="0.020" stop-color="#00009d"/><stop offset="0.041" stop-color="#0000a0"/><stop offset="0.061" stop-color="#0000a4"/><stop offset="0.082" stop-color="#0000aa"/><stop offset="0.102" stop-color="#0000b1"/><stop offset="0.123" stop-color="#0000ba"/><stop offset="0.143" stop-color="#0000c7"/><stop offset="0.164" stop-color="#0000d7"/><stop offset="0.184" stop-color="#0000ee"/><stop offset="0.205" stop-color="#000cff"/><stop offset="0.225" stop-color="#0033ff"/><stop offset="0.246" stop-color="#0067ff"/><stop offset="0.266" stop-color="#c5ff3a"/><stop offset="0.287" stop-color="#00faff"/><stop offset="0.307" stop-color="#06fff9"/><stop offset="0.328" stop-color="#11ffee"/><stop offset="0.348" stop-color="#22ffdd"/><stop offset="0.369" stop-color="#32ffcd"/><stop offset="0.389" stop-color="#41ffbe"/><stop offset="0.410" stop-color="#51ffae"/><stop offset="0.430" stop-color="#63ff9c"/><stop offset="0.451" stop-color="#71ff8e"/><stop offset="0.471" stop-color="#7aff85"/><stop offset="0.492" stop-color="#7eff81"/><stop offset="0.512" stop-color="#7dff82"/><stop offset="0.533" stop-color="#76ff89"/><stop offset="0.553" stop-color="#6bff94"/><stop offset="0.574" stop-color="#5affa5"/><stop offset="0.594" stop-color="#47ffb8"/><stop offset="0.615" stop-color="#3affc5"/><stop offset="0.635" stop-color="#2affd5"/><stop offset="0.656" stop-color="#19ffe6"/><stop offset="0.676" stop-color="#0bfff4"/><stop offset="0.697" stop-color="#00ffff"/><stop offset="0.717" stop-color="#00f4ff"/><stop offset="0.738" stop-color="#b7ff48"/><stop offset="0.758" stop-color="#00a9ff"/><stop offset="0.779" stop-color="#0039ff"/><stop offset="0.799" stop-color="#0010ff"/><stop offset="0.820" stop-color="#0000f1"/><stop offset="0.840" stop-color="#0000da"/><stop offset="0.861" stop-color="#0000c8"/><stop offset="0.881" stop-color="#0000bb"/><stop offset="0.902" stop-color="#0000b2"/><stop offset="0.922" stop-color="#0000aa"/><stop offset="0.943" stop-color="#0000a5"/><stop offset="0.963" stop-color="#0000a1"/><stop offset="0.984" stop-color="#00009d"/></linearGradient><linearGradient id="si38" gradientUnits="userSpaceOnUse" x1="38.0" x2="99.0" y1="0" y2="0"><stop offset="0.000" stop-color="#00009b"/><stop offset="0.020" stop-color="#00009d"/><stop offset="0.041" stop-color="#0000a0"/><stop offset="0.061" stop-color="#0000a4"/><stop offset="0.082" stop-color="#0000a9"/><stop offset="0.102" stop-color="#0000b0"/><stop offset="0.123" stop-color="#0000b9"/><stop offset="0.143" stop-color="#0000c5"/><stop offset="0.164" stop-color="#0000d6"/><stop offset="0.184" stop-color="#0000eb"/><stop offset="0.205" stop-color="#0009ff"/><stop offset="0.225" stop-color="#002fff"/><stop offset="0.246" stop-color="#0062ff"/><stop offset="0.266" stop-color="#00c3ff"/><stop offset="0.287" stop-color="#00f0ff"/><stop offset="0.307" stop-color="#00fbff"/><stop offset="0.328" stop-color="#06fff9"/><stop offset="0.348" stop-color="#10ffef"/><stop offset="0.369" stop-color="#1effe1"/><stop offset="0.389" stop-color="#2cffd3"/><stop offset="0.410" stop-color="#37ffc8"/><stop offset="0.430" stop-color="#41ffbe"/><stop offset="0.451" stop-color="#48ffb7"/><stop offset="0.471" stop-color="#4fffb0"/><stop offset="0.492" stop-color="#53ffac"/><stop offset="0.512" stop-color="#52ffad"/><stop offset="0.533" stop-color="#4bffb4"/><stop offset="0.553" stop-color="#45ffba"/><stop offset="0.574" stop-color="#3cffc3"/><stop offset="0.594" stop-color="#31ffce"/><stop offset="0.615" stop-color="#25ffda"/><stop offset="0.635" stop-color="#16ffe9"/><stop offset="0.656" stop-color="#0bfff4"/><stop offset="0.676" stop-color="#01fffe"/><stop offset="0.697" stop-color="#00f6ff"/><stop offset="0.717" stop-color="#00ebff"/><stop offset="0.738" stop-color="#00bbff"/><stop offset="0.758" stop-color="#0069ff"/><stop offset="0.779" stop-color="#0034ff"/><stop offset="0.799" stop-color="#000dff"/><stop offset="0.820" stop-color="#0000ee"/><stop offset="0.840" stop-color="#0000d8"/><stop offset="0.861" stop-color="#0000c7"/><stop offset="0.881" stop-color="#0000ba"/><stop offset="0.902" stop-color="#0000b1"/><stop offset="0.922" stop-color="#0000aa"/><stop offset="0.943" stop-color="#0000a4"/><stop offset="0.963" stop-color="#0000a0"/><stop offset="0.984" stop-color="#00009d"/></linearGradient><linearGradient id="si39" gradientUnits="userSpaceOnUse" x1="38.0" x2="99.0" y1="0" y2="0"><stop offset="0.000" stop-color="#00009b"/><stop offset="0.020" stop-color="#00009d"/><stop offset="0.041" stop-color="#0000a0"/><stop offset="0.061" stop-color="#0000a4"/><stop offset="0.082" stop-color="#0000a9"/><stop offset="0.102" stop-color="#0000b0"/><stop offset="0.123" stop-color="#0000b9"/><stop offset="0.143" stop-color="#0000c5"/><stop offset="0.164" stop-color="#0000d5"/><stop offset="0.184" stop-color="#0000ea"/><stop offset="0.205" stop-color="#0007ff"/><stop offset="0.225" stop-color="#002cff"/><stop offset="0.246" stop-color="#005cff"/><stop offset="0.266" stop-color="#0099ff"/><stop offset="0.287" stop-color="#00c1ff"/><stop offset="0.307" stop-color="#00caff"/><stop offset="0.328" stop-color="#00d3ff"/><stop offset="0.348" stop-color="#00dbff"/><stop offset="0.369" stop-color="#00e3ff"/><stop offset="0.389" stop-color="#00efff"/><stop offset="0.410" stop-color="#00f9ff"/><stop offset="0.430" stop-color="#02fffd"/><stop offset="0.451" stop-color="#09fff6"/><stop offset="0.471" stop-color="#0dfff2"/><stop offset="0.492" stop-color="#0efff1"/><stop offset="0.512" stop-color="#0efff1"/><stop offset="0.533" stop-color="#0bfff4"/><stop offset="0.553" stop-color="#06fff9"/><stop offset="0.574" stop-color="#00fdff"/><stop offset="0.594" stop-color="#00f4ff"/><stop offset="0.615" stop-color="#00e9ff"/><stop offset="0.635" stop-color="#00deff"/><stop offset="0.656" stop-color="#00d7ff"/><stop offset="0.676" stop-color="#00ceff"/><stop offset="0.697" stop-color="#00c5ff"/><stop offset="0.717" stop-color="#00bcff"/><stop offset="0.738" stop-color="#009fff"/><stop offset="0.758" stop-color="#0062ff"/><stop offset="0.779" stop-color="#0031ff"/><stop offset="0.799" stop-color="#000bff"/><stop offset="0.820" stop-color="#0000ed"/><stop offset="0.840" stop-color="#0000d7"/><stop offset="0.861" stop-color="#0000c6"/><stop offset="0.881" stop-color="#0000ba"/><stop offset="0.902" stop-color="#0000b0"/><stop offset="0.922" stop-color="#0000a9"/><stop offset="0.943" stop-color="#0000a4"/><stop offset="0.963" stop-color="#0000a0"/><stop offset="0.984" stop-color="#00009d"/></linearGradient><linearGradient id="si40" gradientUnits="userSpaceOnUse" x1="38.0" x2="99.0" y1="0" y2="0"><stop offset="0.000" stop-color="#00009a"/><stop offset="0.020" stop-color="#00009d"/><stop offset="0.041" stop-color="#0000a0"/><stop offset="0.061" stop-color="#0000a3"/><stop offset="0.082" stop-color="#0000a8"/><stop offset="0.102" stop-color="#0000af"/><stop offset="0.123" stop-color="#0000b8"/><stop offset="0.143" stop-color="#0000c3"/><stop offset="0.164" stop-color="#0000d2"/><stop offset="0.184" stop-color="#0000e6"/><stop offset="0.205" stop-color="#0001ff"/><stop offset="0.225" stop-color="#0022ff"/><stop offset="0.246" stop-color="#004aff"/><stop offset="0.266" stop-color="#0072ff"/><stop offset="0.287" stop-color="#0084ff"/><stop offset="0.307" stop-color="#008bff"/><stop offset="0.328" stop-color="#0092ff"/><stop offset="0.348" stop-color="#0098ff"/><stop offset="0.369" stop-color="#009fff"/><stop offset="0.389" stop-color="#00a9ff"/><stop offset="0.410" stop-color="#00b1ff"/><stop offset="0.430" stop-color="#00b7ff"/><stop offset="0.451" stop-color="#00bcff"/><stop offset="0.471" stop-color="#00bfff"/><stop offset="0.492" stop-color="#00c1ff"/><stop offset="0.512" stop-color="#00c0ff"/><stop offset="0.533" stop-color="#00beff"/><stop offset="0.553" stop-color="#00baff"/><stop offset="0.574" stop-color="#00b4ff"/><stop offset="0.594" stop-color="#00adff"/><stop offset="0.615" stop-color="#00a4ff"/><stop offset="0.635" stop-color="#009bff"/><stop offset="0.656" stop-color="#0095ff"/><stop offset="0.676" stop-color="#008eff"/><stop offset="0.697" stop-color="#0087ff"/><stop offset="0.717" stop-color="#0080ff"/><stop offset="0.738" stop-color="#0073ff"/><stop offset="0.758" stop-color="#004eff"/><stop offset="0.779" stop-color="#0026ff"/><stop offset="0.799" stop-color="#0004ff"/><stop offset="0.820" stop-color="#0000e9"/><stop offset="0.840" stop-color="#0000d4"/><stop offset="0.861" stop-color="#0000c5"/><stop offset="0.881" stop-color="#0000b9"/><stop offset="0.902" stop-color="#0000b0"/><stop offset="0.922" stop-color="#0000a9"/><stop offset="0.943" stop-color="#0000a4"/><stop offset="0.963" stop-color="#0000a0"/><stop offset="0.984" stop-color="#00009d"/></linearGradient><linearGradient id="si41" gradientUnits="userSpaceOnUse" x1="38.0" x2="99.0" y1="0" y2="0"><stop offset="0.000" stop-color="#00009a"/><stop offset="0.020" stop-color="#00009c"/><stop offset="0.041" stop-color="#00009f"/><stop offset="0.061" stop-color="#0000a3"/><stop offset="0.082" stop-color="#0000a8"/><stop offset="0.102" stop-color="#0000ae"/><stop offset="0.123" stop-color="#0000b6"/><stop offset="0.143" stop-color="#0000c1"/><stop offset="0.164" stop-color="#0000cf"/><stop offset="0.184" stop-color="#0000e0"/><stop offset="0.205" stop-color="#0000f7"/><stop offset="0.225" stop-color="#0013ff"/><stop offset="0.246" stop-color="#0030ff"/><stop offset="0.266" stop-color="#004aff"/><stop offset="0.287" stop-color="#0053ff"/><stop offset="0.307" stop-color="#0059ff"/><stop offset="0.328" stop-color="#005fff"/><stop offset="0.348" stop-color="#0064ff"/><stop offset="0.369" stop-color="#0069ff"/><stop offset="0.389" stop-color="#0071ff"/><stop offset="0.410" stop-color="#0077ff"/><stop offset="0.430" stop-color="#007cff"/><stop offset="0.451" stop-color="#0080ff"/><stop offset="0.471" stop-color="#0083ff"/><stop offset="0.492" stop-color="#0084ff"/><stop offset="0.512" stop-color="#0083ff"/><stop offset="0.533" stop-color="#0082ff"/><stop offset="0.553" stop-color="#007eff"/><stop offset="0.574" stop-color="#007aff"/><stop offset="0.594" stop-color="#0074ff"/><stop offset="0.615" stop-color="#006dff"/><stop offset="0.635" stop-color="#0066ff"/><stop offset="0.656" stop-color="#0061ff"/><stop offset="0.676" stop-color="#005cff"/><stop offset="0.697" stop-color="#0056ff"/><stop offset="0.717" stop-color="#0050ff"/><stop offset="0.738" stop-color="#0049ff"/><stop offset="0.758" stop-color="#0032ff"/><stop offset="0.779" stop-color="#0015ff"/><stop offset="0.799" stop-color="#0000f9"/><stop offset="0.820" stop-color="#0000e3"/><stop offset="0.840" stop-color="#0000d0"/><stop offset="0.861" stop-color="#0000c2"/><stop offset="0.881" stop-color="#0000b7"/><stop offset="0.902" stop-color="#0000af"/><stop offset="0.922" stop-color="#0000a8"/><stop offset="0.943" stop-color="#0000a3"/><stop offset="0.963" stop-color="#0000a0"/><stop offset="0.984" stop-color="#00009d"/></linearGradient><linearGradient id="si42" gradientUnits="userSpaceOnUse" x1="38.0" x2="99.0" y1="0" y2="0"><stop offset="0.000" stop-color="#00009a"/><stop offset="0.020" stop-color="#00009c"/><stop offset="0.041" stop-color="#00009f"/><stop offset="0.061" stop-color="#0000a2"/><stop offset="0.082" stop-color="#0000a6"/><stop offset="0.102" stop-color="#0000ac"/><stop offset="0.123" stop-color="#0000b4"/><stop offset="0.143" stop-color="#0000bd"/><stop offset="0.164" stop-color="#0000ca"/><stop offset="0.184" stop-color="#0000d9"/><stop offset="0.205" stop-color="#0000eb"/><stop offset="0.225" stop-color="#0001ff"/><stop offset="0.246" stop-color="#0016ff"/><stop offset="0.266" stop-color="#0027ff"/><stop offset="0.287" stop-color="#002dff"/><stop offset="0.307" stop-color="#0031ff"/><stop offset="0.328" stop-color="#0036ff"/><stop offset="0.348" stop-color="#003aff"/><stop offset="0.369" stop-color="#003eff"/><stop offset="0.389" stop-color="#0044ff"/><stop offset="0.410" stop-color="#0049ff"/><stop offset="0.430" stop-color="#004dff"/><stop offset="0.451" stop-color="#0050ff"/><stop offset="0.471" stop-color="#0052ff"/><stop offset="0.492" stop-color="#0053ff"/><stop offset="0.512" stop-color="#0053ff"/><stop offset="0.533" stop-color="#0051ff"/><stop offset="0.553" stop-color="#004fff"/><stop offset="0.574" stop-color="#004bff"/><stop offset="0.594" stop-color="#0047ff"/><stop offset="0.615" stop-color="#0041ff"/><stop offset="0.635" stop-color="#003bff"/><stop offset="0.656" stop-color="#0038ff"/><stop offset="0.676" stop-color="#0033ff"/><stop offset="0.697" stop-color="#002fff"/><stop offset="0.717" stop-color="#002aff"/><stop offset="0.738" stop-color="#0025ff"/><stop offset="0.758" stop-color="#0017ff"/><stop offset="0.779" stop-color="#0003ff"/><stop offset="0.799" stop-color="#0000ed"/><stop offset="0.820" stop-color="#0000db"/><stop offset="0.840" stop-color="#0000cb"/><stop offset="0.861" stop-color="#0000bf"/><stop offset="0.881" stop-color="#0000b5"/><stop offset="0.902" stop-color="#0000ad"/><stop offset="0.922" stop-color="#0000a7"/><stop offset="0.943" stop-color="#0000a2"/><stop offset="0.963" stop-color="#00009f"/><stop offset="0.984" stop-color="#00009c"/></linearGradient><linearGradient id="si43" gradientUnits="userSpaceOnUse" x1="38.0" x2="99.0" y1="0" y2="0"><stop offset="0.000" stop-color="#00009a"/><stop offset="0.020" stop-color="#00009c"/><stop offset="0.041" stop-color="#00009e"/><stop offset="0.061" stop-color="#0000a1"/><stop offset="0.082" stop-color="#0000a5"/><stop offset="0.102" stop-color="#0000aa"/><stop offset="0.123" stop-color="#0000b1"/><stop offset="0.143" stop-color="#0000ba"/><stop offset="0.164" stop-color="#0000c4"/><stop offset="0.184" stop-color="#0000d1"/><stop offset="0.205" stop-color="#0000df"/><stop offset="0.225" stop-color="#0000ef"/><stop offset="0.246" stop-color="#0000fe"/><stop offset="0.266" stop-color="#000aff"/><stop offset="0.287" stop-color="#000eff"/><stop offset="0.307" stop-color="#0011ff"/><stop offset="0.328" stop-color="#0015ff"/><stop offset="0.348" stop-color="#0018ff"/><stop offset="0.369" stop-color="#001cff"/><stop offset="0.389" stop-color="#0020ff"/><stop offset="0.410" stop-color="#0024ff"/><stop offset="0.430" stop-color="#0028ff"/><stop offset="0.451" stop-color="#002aff"/><stop offset="0.471" stop-color="#002cff"/><stop offset="0.492" stop-color="#002dff"/><stop offset="0.512" stop-color="#002cff"/><stop offset="0.533" stop-color="#002bff"/><stop offset="0.553" stop-color="#0029ff"/><stop offset="0.574" stop-color="#0026ff"/><stop offset="0.594" stop-color="#0022ff"/><stop offset="0.615" stop-color="#001eff"/><stop offset="0.635" stop-color="#001aff"/><stop offset="0.656" stop-color="#0016ff"/><stop offset="0.676" stop-color="#0013ff"/><stop offset="0.697" stop-color="#0010ff"/><stop offset="0.717" stop-color="#000cff"/><stop offset="0.738" stop-color="#0008ff"/><stop offset="0.758" stop-color="#0000fe"/><stop offset="0.779" stop-color="#0000f0"/><stop offset="0.799" stop-color="#0000e1"/><stop offset="0.820" stop-color="#0000d2"/><stop offset="0.840" stop-color="#0000c5"/><stop offset="0.861" stop-color="#0000bb"/><stop offset="0.881" stop-color="#0000b2"/><stop offset="0.902" stop-color="#0000ab"/><stop offset="0.922" stop-color="#0000a6"/><stop offset="0.943" stop-color="#0000a2"/><stop offset="0.963" stop-color="#00009e"/><stop offset="0.984" stop-color="#00009c"/></linearGradient><linearGradient id="si44" gradientUnits="userSpaceOnUse" x1="38.0" x2="99.0" y1="0" y2="0"><stop offset="0.000" stop-color="#000099"/><stop offset="0.020" stop-color="#00009b"/><stop offset="0.041" stop-color="#00009d"/><stop offset="0.061" stop-color="#0000a0"/><stop offset="0.082" stop-color="#0000a4"/><stop offset="0.102" stop-color="#0000a8"/><stop offset="0.123" stop-color="#0000ae"/><stop offset="0.143" stop-color="#0000b5"/><stop offset="0.164" stop-color="#0000be"/><stop offset="0.184" stop-color="#0000c8"/><stop offset="0.205" stop-color="#0000d4"/><stop offset="0.225" stop-color="#0000e0"/><stop offset="0.246" stop-color="#0000ea"/><stop offset="0.266" stop-color="#0000f2"/><stop offset="0.287" stop-color="#0000f4"/><stop offset="0.307" stop-color="#0000f7"/><stop offset="0.328" stop-color="#0000fa"/><stop offset="0.348" stop-color="#0000fc"/><stop offset="0.369" stop-color="#0000ff"/><stop offset="0.389" stop-color="#0004ff"/><stop offset="0.410" stop-color="#0007ff"/><stop offset="0.430" stop-color="#000aff"/><stop offset="0.451" stop-color="#000cff"/><stop offset="0.471" stop-color="#000dff"/><stop offset="0.492" stop-color="#000eff"/><stop offset="0.512" stop-color="#000eff"/><stop offset="0.533" stop-color="#000dff"/><stop offset="0.553" stop-color="#000bff"/><stop offset="0.574" stop-color="#0009ff"/><stop offset="0.594" stop-color="#0006ff"/><stop offset="0.615" stop-color="#0002ff"/><stop offset="0.635" stop-color="#0000fe"/><stop offset="0.656" stop-color="#0000fb"/><stop offset="0.676" stop-color="#0000f8"/><stop offset="0.697" stop-color="#0000f6"/><stop offset="0.717" stop-color="#0000f3"/><stop offset="0.738" stop-color="#0000f0"/><stop offset="0.758" stop-color="#0000ea"/><stop offset="0.779" stop-color="#0000e0"/><stop offset="0.799" stop-color="#0000d5"/><stop offset="0.820" stop-color="#0000c9"/><stop offset="0.840" stop-color="#0000bf"/><stop offset="0.861" stop-color="#0000b6"/><stop offset="0.881" stop-color="#0000af"/><stop offset="0.902" stop-color="#0000a9"/><stop offset="0.922" stop-color="#0000a4"/><stop offset="0.943" stop-color="#0000a0"/><stop offset="0.963" stop-color="#00009e"/><stop offset="0.984" stop-color="#00009b"/></linearGradient><linearGradient id="si45" gradientUnits="userSpaceOnUse" x1="38.0" x2="99.0" y1="0" y2="0"><stop offset="0.000" stop-color="#000099"/><stop offset="0.020" stop-color="#00009b"/><stop offset="0.041" stop-color="#00009c"/><stop offset="0.061" stop-color="#00009f"/><stop offset="0.082" stop-color="#0000a2"/><stop offset="0.102" stop-color="#0000a6"/><stop offset="0.123" stop-color="#0000ab"/><stop offset="0.143" stop-color="#0000b1"/><stop offset="0.164" stop-color="#0000b8"/><stop offset="0.184" stop-color="#0000c1"/><stop offset="0.205" stop-color="#0000c9"/><stop offset="0.225" stop-color="#0000d2"/><stop offset="0.246" stop-color="#0000da"/><stop offset="0.266" stop-color="#0000df"/><stop offset="0.287" stop-color="#0000e1"/><stop offset="0.307" stop-color="#0000e3"/><stop offset="0.328" stop-color="#0000e5"/><stop offset="0.348" stop-color="#0000e7"/><stop offset="0.369" stop-color="#0000e9"/><stop offset="0.389" stop-color="#0000ec"/><stop offset="0.410" stop-color="#0000ef"/><stop offset="0.430" stop-color="#0000f1"/><stop offset="0.451" stop-color="#0000f3"/><stop offset="0.471" stop-color="#0000f4"/><stop offset="0.492" stop-color="#0000f4"/><stop offset="0.512" stop-color="#0000f4"/><stop offset="0.533" stop-color="#0000f3"/><stop offset="0.553" stop-color="#0000f2"/><stop offset="0.574" stop-color="#0000f0"/><stop offset="0.594" stop-color="#0000ee"/><stop offset="0.615" stop-color="#0000eb"/><stop offset="0.635" stop-color="#0000e8"/><stop offset="0.656" stop-color="#0000e6"/><stop offset="0.676" stop-color="#0000e4"/><stop offset="0.697" stop-color="#0000e2"/><stop offset="0.717" stop-color="#0000df"/><stop offset="0.738" stop-color="#0000de"/><stop offset="0.758" stop-color="#0000d9"/><stop offset="0.779" stop-color="#0000d2"/><stop offset="0.799" stop-color="#0000ca"/><stop offset="0.820" stop-color="#0000c1"/><stop offset="0.840" stop-color="#0000b9"/><stop offset="0.861" stop-color="#0000b2"/><stop offset="0.881" stop-color="#0000ac"/><stop offset="0.902" stop-color="#0000a7"/><stop offset="0.922" stop-color="#0000a3"/><stop offset="0.943" stop-color="#00009f"/><stop offset="0.963" stop-color="#00009d"/><stop offset="0.984" stop-color="#00009b"/></linearGradient><linearGradient id="si46" gradientUnits="userSpaceOnUse" x1="38.0" x2="99.0" y1="0" y2="0"><stop offset="0.000" stop-color="#000099"/><stop offset="0.020" stop-color="#00009a"/><stop offset="0.041" stop-color="#00009c"/><stop offset="0.061" stop-color="#00009e"/><stop offset="0.082" stop-color="#0000a1"/><stop offset="0.102" stop-color="#0000a4"/><stop offset="0.123" stop-color="#0000a8"/><stop offset="0.143" stop-color="#0000ad"/><stop offset="0.164" stop-color="#0000b3"/><stop offset="0.184" stop-color="#0000b9"/><stop offset="0.205" stop-color="#0000c0"/><stop offset="0.225" stop-color="#0000c7"/><stop offset="0.246" stop-color="#0000cc"/><stop offset="0.266" stop-color="#0000d0"/><stop offset="0.287" stop-color="#0000d1"/><stop offset="0.307" stop-color="#0000d3"/><stop offset="0.328" stop-color="#0000d5"/><stop offset="0.348" stop-color="#0000d6"/><stop offset="0.369" stop-color="#0000d8"/><stop offset="0.389" stop-color="#0000da"/><stop offset="0.410" stop-color="#0000dc"/><stop offset="0.430" stop-color="#0000de"/><stop offset="0.451" stop-color="#0000df"/><stop offset="0.471" stop-color="#0000e0"/><stop offset="0.492" stop-color="#0000e1"/><stop offset="0.512" stop-color="#0000e0"/><stop offset="0.533" stop-color="#0000e0"/><stop offset="0.553" stop-color="#0000df"/><stop offset="0.574" stop-color="#0000dd"/><stop offset="0.594" stop-color="#0000db"/><stop offset="0.615" stop-color="#0000d9"/><stop offset="0.635" stop-color="#0000d7"/><stop offset="0.656" stop-color="#0000d5"/><stop offset="0.676" stop-color="#0000d4"/><stop offset="0.697" stop-color="#0000d2"/><stop offset="0.717" stop-color="#0000d0"/><stop offset="0.738" stop-color="#0000cf"/><stop offset="0.758" stop-color="#0000cc"/><stop offset="0.779" stop-color="#0000c7"/><stop offset="0.799" stop-color="#0000c0"/><stop offset="0.820" stop-color="#0000ba"/><stop offset="0.840" stop-color="#0000b4"/><stop offset="0.861" stop-color="#0000ae"/><stop offset="0.881" stop-color="#0000a9"/><stop offset="0.902" stop-color="#0000a5"/><stop offset="0.922" stop-color="#0000a1"/><stop offset="0.943" stop-color="#00009e"/><stop offset="0.963" stop-color="#00009c"/><stop offset="0.984" stop-color="#00009a"/></linearGradient><linearGradient id="si47" gradientUnits="userSpaceOnUse" x1="38.0" x2="99.0" y1="0" y2="0"><stop offset="0.000" stop-color="#000098"/><stop offset="0.020" stop-color="#000099"/><stop offset="0.041" stop-color="#00009b"/><stop offset="0.061" stop-color="#00009d"/><stop offset="0.082" stop-color="#00009f"/><stop offset="0.102" stop-color="#0000a2"/><stop offset="0.123" stop-color="#0000a6"/><stop offset="0.143" stop-color="#0000aa"/><stop offset="0.164" stop-color="#0000ae"/><stop offset="0.184" stop-color="#0000b3"/><stop offset="0.205" stop-color="#0000b8"/><stop offset="0.225" stop-color="#0000bd"/><stop offset="0.246" stop-color="#0000c1"/><stop offset="0.266" stop-color="#0000c4"/><stop offset="0.287" stop-color="#0000c5"/><stop offset="0.307" stop-color="#0000c6"/><stop offset="0.328" stop-color="#0000c7"/><stop offset="0.348" stop-color="#0000c9"/><stop offset="0.369" stop-color="#0000ca"/><stop offset="0.389" stop-color="#0000cc"/><stop offset="0.410" stop-color="#0000ce"/><stop offset="0.430" stop-color="#0000cf"/><stop offset="0.451" stop-color="#0000d0"/><stop offset="0.471" stop-color="#0000d1"/><stop offset="0.492" stop-color="#0000d1"/><stop offset="0.512" stop-color="#0000d1"/><stop offset="0.533" stop-color="#0000d0"/><stop offset="0.553" stop-color="#0000d0"/><stop offset="0.574" stop-color="#0000ce"/><stop offset="0.594" stop-color="#0000cd"/><stop offset="0.615" stop-color="#0000cb"/><stop offset="0.635" stop-color="#0000c9"/><stop offset="0.656" stop-color="#0000c8"/><stop offset="0.676" stop-color="#0000c7"/><stop offset="0.697" stop-color="#0000c5"/><stop offset="0.717" stop-color="#0000c4"/><stop offset="0.738" stop-color="#0000c3"/><stop offset="0.758" stop-color="#0000c1"/><stop offset="0.779" stop-color="#0000bd"/><stop offset="0.799" stop-color="#0000b8"/><stop offset="0.820" stop-color="#0000b4"/><stop offset="0.840" stop-color="#0000af"/><stop offset="0.861" stop-color="#0000aa"/><stop offset="0.881" stop-color="#0000a6"/><stop offset="0.902" stop-color="#0000a2"/><stop offset="0.922" stop-color="#00009f"/><stop offset="0.943" stop-color="#00009d"/><stop offset="0.963" stop-color="#00009b"/><stop offset="0.984" stop-color="#000099"/></linearGradient><linearGradient id="si48" gradientUnits="userSpaceOnUse" x1="38.0" x2="99.0" y1="0" y2="0"><stop offset="0.000" stop-color="#000098"/><stop offset="0.020" stop-color="#000099"/><stop offset="0.041" stop-color="#00009a"/><stop offset="0.061" stop-color="#00009c"/><stop offset="0.082" stop-color="#00009e"/><stop offset="0.102" stop-color="#0000a0"/><stop offset="0.123" stop-color="#0000a3"/><stop offset="0.143" stop-color="#0000a6"/><stop offset="0.164" stop-color="#0000aa"/><stop offset="0.184" stop-color="#0000ae"/><stop offset="0.205" stop-color="#0000b2"/><stop offset="0.225" stop-color="#0000b5"/><stop offset="0.246" stop-color="#0000b8"/><stop offset="0.266" stop-color="#0000ba"/><stop offset="0.287" stop-color="#0000bb"/><stop offset="0.307" stop-color="#0000bc"/><stop offset="0.328" stop-color="#0000bd"/><stop offset="0.348" stop-color="#0000be"/><stop offset="0.369" stop-color="#0000bf"/><stop offset="0.389" stop-color="#0000c1"/><stop offset="0.410" stop-color="#0000c2"/><stop offset="0.430" stop-color="#0000c3"/><stop offset="0.451" stop-color="#0000c4"/><stop offset="0.471" stop-color="#0000c4"/><stop offset="0.492" stop-color="#0000c5"/><stop offset="0.512" stop-color="#0000c4"/><stop offset="0.533" stop-color="#0000c4"/><stop offset="0.553" stop-color="#0000c3"/><stop offset="0.574" stop-color="#0000c3"/><stop offset="0.594" stop-color="#0000c1"/><stop offset="0.615" stop-color="#0000c0"/><stop offset="0.635" stop-color="#0000be"/><stop offset="0.656" stop-color="#0000bd"/><stop offset="0.676" stop-color="#0000bc"/><stop offset="0.697" stop-color="#0000bb"/><stop offset="0.717" stop-color="#0000ba"/><stop offset="0.738" stop-color="#0000b9"/><stop offset="0.758" stop-color="#0000b8"/><stop offset="0.779" stop-color="#0000b5"/><stop offset="0.799" stop-color="#0000b2"/><stop offset="0.820" stop-color="#0000ae"/><stop offset="0.840" stop-color="#0000aa"/><stop offset="0.861" stop-color="#0000a7"/><stop offset="0.881" stop-color="#0000a3"/><stop offset="0.902" stop-color="#0000a0"/><stop offset="0.922" stop-color="#00009e"/><stop offset="0.943" stop-color="#00009c"/><stop offset="0.963" stop-color="#00009a"/><stop offset="0.984" stop-color="#000099"/></linearGradient><linearGradient id="si49" gradientUnits="userSpaceOnUse" x1="38.0" x2="99.0" y1="0" y2="0"><stop offset="0.000" stop-color="#000097"/><stop offset="0.020" stop-color="#000098"/><stop offset="0.041" stop-color="#000099"/><stop offset="0.061" stop-color="#00009b"/><stop offset="0.082" stop-color="#00009c"/><stop offset="0.102" stop-color="#00009e"/><stop offset="0.123" stop-color="#0000a1"/><stop offset="0.143" stop-color="#0000a3"/><stop offset="0.164" stop-color="#0000a6"/><stop offset="0.184" stop-color="#0000a9"/><stop offset="0.205" stop-color="#0000ac"/><stop offset="0.225" stop-color="#0000af"/><stop offset="0.246" stop-color="#0000b1"/><stop offset="0.266" stop-color="#0000b2"/><stop offset="0.287" stop-color="#0000b3"/><stop offset="0.307" stop-color="#0000b4"/><stop offset="0.328" stop-color="#0000b5"/><stop offset="0.348" stop-color="#0000b5"/><stop offset="0.369" stop-color="#0000b6"/><stop offset="0.389" stop-color="#0000b8"/><stop offset="0.410" stop-color="#0000b9"/><stop offset="0.430" stop-color="#0000b9"/><stop offset="0.451" stop-color="#0000ba"/><stop offset="0.471" stop-color="#0000bb"/><stop offset="0.492" stop-color="#0000bb"/><stop offset="0.512" stop-color="#0000bb"/><stop offset="0.533" stop-color="#0000ba"/><stop offset="0.553" stop-color="#0000ba"/><stop offset="0.574" stop-color="#0000b9"/><stop offset="0.594" stop-color="#0000b8"/><stop offset="0.615" stop-color="#0000b7"/><stop offset="0.635" stop-color="#0000b6"/><stop offset="0.656" stop-color="#0000b5"/><stop offset="0.676" stop-color="#0000b4"/><stop offset="0.697" stop-color="#0000b3"/><stop offset="0.717" stop-color="#0000b2"/><stop offset="0.738" stop-color="#0000b2"/><stop offset="0.758" stop-color="#0000b1"/><stop offset="0.779" stop-color="#0000af"/><stop offset="0.799" stop-color="#0000ac"/><stop offset="0.820" stop-color="#0000a9"/><stop offset="0.840" stop-color="#0000a6"/><stop offset="0.861" stop-color="#0000a4"/><stop offset="0.881" stop-color="#0000a1"/><stop offset="0.902" stop-color="#00009f"/><stop offset="0.922" stop-color="#00009d"/><stop offset="0.943" stop-color="#00009b"/><stop offset="0.963" stop-color="#000099"/><stop offset="0.984" stop-color="#000098"/></linearGradient><linearGradient id="si50" gradientUnits="userSpaceOnUse" x1="38.0" x2="99.0" y1="0" y2="0"><stop offset="0.000" stop-color="#000097"/><stop offset="0.020" stop-color="#000098"/><stop offset="0.041" stop-color="#000099"/><stop offset="0.061" stop-color="#00009a"/><stop offset="0.082" stop-color="#00009b"/><stop offset="0.102" stop-color="#00009d"/><stop offset="0.123" stop-color="#00009f"/><stop offset="0.143" stop-color="#0000a1"/><stop offset="0.164" stop-color="#0000a3"/><stop offset="0.184" stop-color="#0000a5"/><stop offset="0.205" stop-color="#0000a8"/><stop offset="0.225" stop-color="#0000aa"/><stop offset="0.246" stop-color="#0000ab"/><stop offset="0.266" stop-color="#0000ac"/><stop offset="0.287" stop-color="#0000ad"/><stop offset="0.307" stop-color="#0000ad"/><stop offset="0.328" stop-color="#0000ae"/><stop offset="0.348" stop-color="#0000af"/><stop offset="0.369" stop-color="#0000af"/><stop offset="0.389" stop-color="#0000b0"/><stop offset="0.410" stop-color="#0000b1"/><stop offset="0.430" stop-color="#0000b2"/><stop offset="0.451" stop-color="#0000b2"/><stop offset="0.471" stop-color="#0000b3"/><stop offset="0.492" stop-color="#0000b3"/><stop offset="0.512" stop-color="#0000b3"/><stop offset="0.533" stop-color="#0000b3"/><stop offset="0.553" stop-color="#0000b2"/><stop offset="0.574" stop-color="#0000b1"/><stop offset="0.594" stop-color="#0000b1"/><stop offset="0.615" stop-color="#0000b0"/><stop offset="0.635" stop-color="#0000af"/><stop offset="0.656" stop-color="#0000ae"/><stop offset="0.676" stop-color="#0000ae"/><stop offset="0.697" stop-color="#0000ad"/><stop offset="0.717" stop-color="#0000ac"/><stop offset="0.738" stop-color="#0000ac"/><stop offset="0.758" stop-color="#0000ab"/><stop offset="0.779" stop-color="#0000a9"/><stop offset="0.799" stop-color="#0000a8"/><stop offset="0.820" stop-color="#0000a5"/><stop offset="0.840" stop-color="#0000a3"/><stop offset="0.861" stop-color="#0000a1"/><stop offset="0.881" stop-color="#00009f"/><stop offset="0.902" stop-color="#00009d"/><stop offset="0.922" stop-color="#00009b"/><stop offset="0.943" stop-color="#00009a"/><stop offset="0.963" stop-color="#000099"/><stop offset="0.984" stop-color="#000098"/></linearGradient><linearGradient id="si51" gradientUnits="userSpaceOnUse" x1="38.0" x2="99.0" y1="0" y2="0"><stop offset="0.000" stop-color="#000097"/><stop offset="0.020" stop-color="#000097"/><stop offset="0.041" stop-color="#000098"/><stop offset="0.061" stop-color="#000099"/><stop offset="0.082" stop-color="#00009a"/><stop offset="0.102" stop-color="#00009b"/><stop offset="0.123" stop-color="#00009d"/><stop offset="0.143" stop-color="#00009f"/><stop offset="0.164" stop-color="#0000a0"/><stop offset="0.184" stop-color="#0000a2"/><stop offset="0.205" stop-color="#0000a4"/><stop offset="0.225" stop-color="#0000a5"/><stop offset="0.246" stop-color="#0000a7"/><stop offset="0.266" stop-color="#0000a7"/><stop offset="0.287" stop-color="#0000a8"/><stop offset="0.307" stop-color="#0000a8"/><stop offset="0.328" stop-color="#0000a9"/><stop offset="0.348" stop-color="#0000a9"/><stop offset="0.369" stop-color="#0000aa"/><stop offset="0.389" stop-color="#0000ab"/><stop offset="0.410" stop-color="#0000ab"/><stop offset="0.430" stop-color="#0000ac"/><stop offset="0.451" stop-color="#0000ac"/><stop offset="0.471" stop-color="#0000ac"/><stop offset="0.492" stop-color="#0000ad"/><stop offset="0.512" stop-color="#0000ac"/><stop offset="0.533" stop-color="#0000ac"/><stop offset="0.553" stop-color="#0000ac"/><stop offset="0.574" stop-color="#0000ab"/><stop offset="0.594" stop-color="#0000ab"/><stop offset="0.615" stop-color="#0000aa"/><stop offset="0.635" stop-color="#0000a9"/><stop offset="0.656" stop-color="#0000a9"/><stop offset="0.676" stop-color="#0000a8"/><stop offset="0.697" stop-color="#0000a8"/><stop offset="0.717" stop-color="#0000a7"/><stop offset="0.738" stop-color="#0000a7"/><stop offset="0.758" stop-color="#0000a6"/><stop offset="0.779" stop-color="#0000a5"/><stop offset="0.799" stop-color="#0000a4"/><stop offset="0.820" stop-color="#0000a2"/><stop offset="0.840" stop-color="#0000a0"/><stop offset="0.861" stop-color="#00009f"/><stop offset="0.881" stop-color="#00009d"/><stop offset="0.902" stop-color="#00009c"/><stop offset="0.922" stop-color="#00009a"/><stop offset="0.943" stop-color="#000099"/><stop offset="0.963" stop-color="#000098"/><stop offset="0.984" stop-color="#000097"/></linearGradient><linearGradient id="si52" gradientUnits="userSpaceOnUse" x1="38.0" x2="99.0" y1="0" y2="0"><stop offset="0.000" stop-color="#000096"/><stop offset="0.020" stop-color="#000097"/><stop offset="0.041" stop-color="#000097"/><stop offset="0.061" stop-color="#000098"/><stop offset="0.082" stop-color="#000099"/><stop offset="0.102" stop-color="#00009a"/><stop offset="0.123" stop-color="#00009b"/><stop offset="0.143" stop-color="#00009d"/><stop offset="0.164" stop-color="#00009e"/><stop offset="0.184" stop-color="#0000a0"/><stop offset="0.205" stop-color="#0000a1"/><stop offset="0.225" stop-color="#0000a2"/><stop offset="0.246" stop-color="#0000a3"/><stop offset="0.266" stop-color="#0000a3"/><stop offset="0.287" stop-color="#0000a4"/><stop offset="0.307" stop-color="#0000a4"/><stop offset="0.328" stop-color="#0000a4"/><stop offset="0.348" stop-color="#0000a5"/><stop offset="0.369" stop-color="#0000a5"/><stop offset="0.389" stop-color="#0000a6"/><stop offset="0.410" stop-color="#0000a6"/><stop offset="0.430" stop-color="#0000a7"/><stop offset="0.451" stop-color="#0000a7"/><stop offset="0.471" stop-color="#0000a7"/><stop offset="0.492" stop-color="#0000a8"/><stop offset="0.512" stop-color="#0000a7"/><stop offset="0.533" stop-color="#0000a7"/><stop offset="0.553" stop-color="#0000a7"/><stop offset="0.574" stop-color="#0000a7"/><stop offset="0.594" stop-color="#0000a6"/><stop offset="0.615" stop-color="#0000a6"/><stop offset="0.635" stop-color="#0000a5"/><stop offset="0.656" stop-color="#0000a5"/><stop offset="0.676" stop-color="#0000a4"/><stop offset="0.697" stop-color="#0000a4"/><stop offset="0.717" stop-color="#0000a3"/><stop offset="0.738" stop-color="#0000a3"/><stop offset="0.758" stop-color="#0000a3"/><stop offset="0.779" stop-color="#0000a2"/><stop offset="0.799" stop-color="#0000a1"/><stop offset="0.820" stop-color="#00009f"/><stop offset="0.840" stop-color="#00009e"/><stop offset="0.861" stop-color="#00009d"/><stop offset="0.881" stop-color="#00009c"/><stop offset="0.902" stop-color="#00009a"/><stop offset="0.922" stop-color="#000099"/><stop offset="0.943" stop-color="#000098"/><stop offset="0.963" stop-color="#000098"/><stop offset="0.984" stop-color="#000097"/></linearGradient><linearGradient id="si53" gradientUnits="userSpaceOnUse" x1="38.0" x2="99.0" y1="0" y2="0"><stop offset="0.000" stop-color="#000096"/><stop offset="0.020" stop-color="#000096"/><stop offset="0.041" stop-color="#000097"/><stop offset="0.061" stop-color="#000098"/><stop offset="0.082" stop-color="#000098"/><stop offset="0.102" stop-color="#000099"/><stop offset="0.123" stop-color="#00009a"/><stop offset="0.143" stop-color="#00009b"/><stop offset="0.164" stop-color="#00009c"/><stop offset="0.184" stop-color="#00009d"/><stop offset="0.205" stop-color="#00009e"/><stop offset="0.225" stop-color="#00009f"/><stop offset="0.246" stop-color="#0000a0"/><stop offset="0.266" stop-color="#0000a0"/><stop offset="0.287" stop-color="#0000a0"/><stop offset="0.307" stop-color="#0000a1"/><stop offset="0.328" stop-color="#0000a1"/><stop offset="0.348" stop-color="#0000a1"/><stop offset="0.369" stop-color="#0000a2"/><stop offset="0.389" stop-color="#0000a2"/><stop offset="0.410" stop-color="#0000a3"/><stop offset="0.430" stop-color="#0000a3"/><stop offset="0.451" stop-color="#0000a3"/><stop offset="0.471" stop-color="#0000a3"/><stop offset="0.492" stop-color="#0000a4"/><stop offset="0.512" stop-color="#0000a3"/><stop offset="0.533" stop-color="#0000a3"/><stop offset="0.553" stop-color="#0000a3"/><stop offset="0.574" stop-color="#0000a3"/><stop offset="0.594" stop-color="#0000a2"/><stop offset="0.615" stop-color="#0000a2"/><stop offset="0.635" stop-color="#0000a2"/><stop offset="0.656" stop-color="#0000a1"/><stop offset="0.676" stop-color="#0000a1"/><stop offset="0.697" stop-color="#0000a1"/><stop offset="0.717" stop-color="#0000a0"/><stop offset="0.738" stop-color="#0000a0"/><stop offset="0.758" stop-color="#0000a0"/><stop offset="0.779" stop-color="#00009f"/><stop offset="0.799" stop-color="#00009e"/><stop offset="0.820" stop-color="#00009d"/><stop offset="0.840" stop-color="#00009c"/><stop offset="0.861" stop-color="#00009b"/><stop offset="0.881" stop-color="#00009a"/><stop offset="0.902" stop-color="#000099"/><stop offset="0.922" stop-color="#000098"/><stop offset="0.943" stop-color="#000098"/><stop offset="0.963" stop-color="#000097"/><stop offset="0.984" stop-color="#000096"/></linearGradient><linearGradient id="si54" gradientUnits="userSpaceOnUse" x1="38.0" x2="99.0" y1="0" y2="0"><stop offset="0.000" stop-color="#000096"/><stop offset="0.020" stop-color="#000096"/><stop offset="0.041" stop-color="#000096"/><stop offset="0.061" stop-color="#000097"/><stop offset="0.082" stop-color="#000098"/><stop offset="0.102" stop-color="#000098"/><stop offset="0.123" stop-color="#000099"/><stop offset="0.143" stop-color="#00009a"/><stop offset="0.164" stop-color="#00009b"/><stop offset="0.184" stop-color="#00009c"/><stop offset="0.205" stop-color="#00009c"/><stop offset="0.225" stop-color="#00009d"/><stop offset="0.246" stop-color="#00009d"/><stop offset="0.266" stop-color="#00009e"/><stop offset="0.287" stop-color="#00009e"/><stop offset="0.307" stop-color="#00009e"/><stop offset="0.328" stop-color="#00009e"/><stop offset="0.348" stop-color="#00009f"/><stop offset="0.369" stop-color="#00009f"/><stop offset="0.389" stop-color="#00009f"/><stop offset="0.410" stop-color="#0000a0"/><stop offset="0.430" stop-color="#0000a0"/><stop offset="0.451" stop-color="#0000a0"/><stop offset="0.471" stop-color="#0000a0"/><stop offset="0.492" stop-color="#0000a0"/><stop offset="0.512" stop-color="#0000a0"/><stop offset="0.533" stop-color="#0000a0"/><stop offset="0.553" stop-color="#0000a0"/><stop offset="0.574" stop-color="#0000a0"/><stop offset="0.594" stop-color="#0000a0"/><stop offset="0.615" stop-color="#00009f"/><stop offset="0.635" stop-color="#00009f"/><stop offset="0.656" stop-color="#00009f"/><stop offset="0.676" stop-color="#00009e"/><stop offset="0.697" stop-color="#00009e"/><stop offset="0.717" stop-color="#00009e"/><stop offset="0.738" stop-color="#00009d"/><stop offset="0.758" stop-color="#00009d"/><stop offset="0.779" stop-color="#00009d"/><stop offset="0.799" stop-color="#00009c"/><stop offset="0.820" stop-color="#00009c"/><stop offset="0.840" stop-color="#00009b"/><stop offset="0.861" stop-color="#00009a"/><stop offset="0.881" stop-color="#000099"/><stop offset="0.902" stop-color="#000098"/><stop offset="0.922" stop-color="#000098"/><stop offset="0.943" stop-color="#000097"/><stop offset="0.963" stop-color="#000097"/><stop offset="0.984" stop-color="#000096"/></linearGradient></defs>
<rect x="38.0" y="346.0" width="61.0" height="1.05" fill="url(#si0)"/>
<rect x="38.0" y="347.0" width="61.0" height="1.05" fill="url(#si1)"/>
<rect x="38.0" y="348.0" width="61.0" height="1.05" fill="url(#si2)"/>
<rect x="38.0" y="349.0" width="61.0" height="1.05" fill="url(#si3)"/>
<rect x="38.0" y="350.0" width="61.0" height="1.05" fill="url(#si4)"/>
<rect x="38.0" y="351.0" width="61.0" height="1.05" fill="url(#si5)"/>
<rect x="38.0" y="352.0" width="61.0" height="1.05" fill="url(#si6)"/>
<rect x="38.0" y="353.0" width="61.0" height="1.05" fill="url(#si7)"/>
<rect x="38.0" y="354.0" width="61.0" height="1.05" fill="url(#si8)"/>
<rect x="38.0" y="355.0" width="61.0" height="1.05" fill="url(#si9)"/>
<rect x="38.0" y="356.0" width="61.0" height="1.05" fill="url(#si10)"/>
<rect x="38.0" y="357.0" width="61.0" height="1.05" fill="url(#si11)"/>
<rect x="38.0" y="358.0" width="61.0" height="1.05" fill="url(#si12)"/>
<rect x="38.0" y="359.0" width="61.0" height="1.05" fill="url(#si13)"/>
<rect x="38.0" y="360.0" width="61.0" height="1.05" fill="url(#si14)"/>
<rect x="38.0" y="361.0" width="61.0" height="1.05" fill="url(#si15)"/>
<rect x="38.0" y="362.0" width="61.0" height="1.05" fill="url(#si16)"/>
<rect x="38.0" y="363.0" width="61.0" height="1.05" fill="url(#si17)"/>
<rect x="38.0" y="364.0" width="61.0" height="1.05" fill="url(#si18)"/>
<rect x="38.0" y="365.0" width="61.0" height="1.05" fill="url(#si19)"/>
<rect x="38.0" y="366.0" width="61.0" height="1.05" fill="url(#si20)"/>
<rect x="38.0" y="367.0" width="61.0" height="1.05" fill="url(#si21)"/>
<rect x="38.0" y="368.0" width="61.0" height="1.05" fill="url(#si22)"/>
<rect x="38.0" y="369.0" width="61.0" height="1.05" fill="url(#si23)"/>
<rect x="38.0" y="370.0" width="61.0" height="1.05" fill="url(#si24)"/>
<rect x="38.0" y="371.0" width="61.0" height="1.05" fill="url(#si25)"/>
<rect x="38.0" y="372.0" width="61.0" height="1.05" fill="url(#si26)"/>
<rect x="38.0" y="373.0" width="61.0" height="1.05" fill="url(#si27)"/>
<rect x="38.0" y="374.0" width="61.0" height="1.05" fill="url(#si28)"/>
<rect x="38.0" y="375.0" width="61.0" height="1.05" fill="url(#si29)"/>
<rect x="38.0" y="376.0" width="61.0" height="1.05" fill="url(#si30)"/>
<rect x="38.0" y="377.0" width="61.0" height="1.05" fill="url(#si31)"/>
<rect x="38.0" y="378.0" width="61.0" height="1.05" fill="url(#si32)"/>
<rect x="38.0" y="379.0" width="61.0" height="1.05" fill="url(#si33)"/>
<rect x="38.0" y="380.0" width="61.0" height="1.05" fill="url(#si34)"/>
<rect x="38.0" y="381.0" width="61.0" height="1.05" fill="url(#si35)"/>
<rect x="38.0" y="382.0" width="61.0" height="1.05" fill="url(#si36)"/>
<rect x="38.0" y="383.0" width="61.0" height="1.05" fill="url(#si37)"/>
<rect x="38.0" y="384.0" width="61.0" height="1.05" fill="url(#si38)"/>
<rect x="38.0" y="385.0" width="61.0" height="1.05" fill="url(#si39)"/>
<rect x="38.0" y="386.0" width="61.0" height="1.05" fill="url(#si40)"/>
<rect x="38.0" y="387.0" width="61.0" height="1.05" fill="url(#si41)"/>
<rect x="38.0" y="388.0" width="61.0" height="1.05" fill="url(#si42)"/>
<rect x="38.0" y="389.0" width="61.0" height="1.05" fill="url(#si43)"/>
<rect x="38.0" y="390.0" width="61.0" height="1.05" fill="url(#si44)"/>
<rect x="38.0" y="391.0" width="61.0" height="1.05" fill="url(#si45)"/>
<rect x="38.0" y="392.0" width="61.0" height="1.05" fill="url(#si46)"/>
<rect x="38.0" y="393.0" width="61.0" height="1.05" fill="url(#si47)"/>
<rect x="38.0" y="394.0" width="61.0" height="1.05" fill="url(#si48)"/>
<rect x="38.0" y="395.0" width="61.0" height="1.05" fill="url(#si49)"/>
<rect x="38.0" y="396.0" width="61.0" height="1.05" fill="url(#si50)"/>
<rect x="38.0" y="397.0" width="61.0" height="1.05" fill="url(#si51)"/>
<rect x="38.0" y="398.0" width="61.0" height="1.05" fill="url(#si52)"/>
<rect x="38.0" y="399.0" width="61.0" height="1.05" fill="url(#si53)"/>
<rect x="38.0" y="400.0" width="61.0" height="1.05" fill="url(#si54)"/>
<rect x="55.3" y="360.7" width="26.9" height="24.2" fill="none" stroke="#000828" stroke-width="0.9" opacity="0.9"/>
<rect x="93.5" y="360.7" width="40.0" height="24.2" fill="none" stroke="#000828" stroke-width="0.9" opacity="0.9"/>
<rect x="151.2" y="319.6" width="105.7" height="106.4" fill="#000094"/>
<defs><radialGradient id="mg_out"><stop offset="0.00" stop-color="#9e0000"/><stop offset="0.04" stop-color="#ac0000"/><stop offset="0.08" stop-color="#ba0000"/><stop offset="0.12" stop-color="#eb0000"/><stop offset="0.16" stop-color="#ff2100"/><stop offset="0.20" stop-color="#ff5600"/><stop offset="0.24" stop-color="#ff9300"/><stop offset="0.28" stop-color="#ffd100"/><stop offset="0.32" stop-color="#eeff11"/><stop offset="0.36" stop-color="#a2ff5d"/><stop offset="0.40" stop-color="#56ffa9"/><stop offset="0.44" stop-color="#1cffe3"/><stop offset="0.48" stop-color="#00eeff"/><stop offset="0.52" stop-color="#00c0ff"/><stop offset="0.56" stop-color="#008bff"/><stop offset="0.60" stop-color="#0049ff"/><stop offset="0.64" stop-color="#0008ff"/><stop offset="0.68" stop-color="#0000eb"/><stop offset="0.72" stop-color="#0000d0"/><stop offset="0.76" stop-color="#0000b9"/><stop offset="0.80" stop-color="#0000b3"/><stop offset="0.84" stop-color="#0000ad"/><stop offset="0.88" stop-color="#0000a7"/><stop offset="0.92" stop-color="#0000a0"/><stop offset="0.96" stop-color="#00009a"/><stop offset="1.00" stop-color="#000094"/></radialGradient><clipPath id="cp_out"><rect x="151.2" y="319.6" width="105.7" height="106.4"/></clipPath></defs>
<ellipse clip-path="url(#cp_out)" cx="230.9" cy="373.1" rx="34.0" ry="28.5" fill="url(#mg_out)"/>
<rect x="172.7" y="361.3" width="26.3" height="23.7" fill="none" stroke="#000828" stroke-width="0.9" opacity="0.9"/>
<rect x="211.0" y="361.3" width="39.8" height="23.9" fill="none" stroke="#000828" stroke-width="0.9" opacity="0.9"/>
<g font-family="Liberation Sans, Arial, sans-serif" font-size="10.2" fill="#fff" stroke="#fff" stroke-width="0.25">
<text x="55.7" y="343.6" textLength="25.1" lengthAdjust="spacingAndGlyphs">input</text>
<text x="94.8" y="343.6" textLength="32.7" lengthAdjust="spacingAndGlyphs">output</text>
<text x="174.7" y="343.6" textLength="24.9" lengthAdjust="spacingAndGlyphs">input</text>
<text x="213.5" y="343.6" textLength="33.2" lengthAdjust="spacingAndGlyphs">output</text>
</g>
<text x="3.0" y="206.4" font-family="Liberation Sans, Arial, sans-serif" font-weight="bold" font-size="15.2" fill="#111">(c)</text>
<rect x="320.5" y="235.5" width="216.7" height="163.5" fill="#fff" stroke="#a8a8a8" stroke-width="0.9"/>
<path d="M374.7 399.0V396.8M374.7 235.5V237.7M428.9 399.0V396.8M428.9 235.5V237.7M483.0 399.0V396.8M483.0 235.5V237.7M320.5 261.8H322.7M537.2 261.8H535.0M320.5 288.1H322.7M537.2 288.1H535.0M320.5 314.4H322.7M537.2 314.4H535.0M320.5 340.7H322.7M537.2 340.7H535.0M320.5 367.0H322.7M537.2 367.0H535.0M320.5 393.4H322.7M537.2 393.4H535.0" stroke="#a8a8a8" stroke-width="0.8" fill="none"/>
<defs><clipPath id="dclip"><rect x="320.5" y="235.3" width="216.7" height="163.7"/></clipPath></defs>
<g clip-path="url(#dclip)" fill="none" stroke-width="2.1" stroke-linejoin="round" stroke-linecap="round">
<path d="M320.5 236.6L322.0 236.5L324.2 236.2L326.7 236.0L328.9 236.0L330.7 236.2L332.4 236.6L334.2 236.9L336.2 237.1L338.6 236.9L341.4 236.5L344.2 236.1L347.0 236.0L349.7 236.3L352.5 236.8L355.3 237.3L358.0 237.5L360.7 237.3L363.5 236.7L366.2 236.2L368.9 236.0L371.7 236.3L374.5 237.0L377.2 237.7L379.8 238.0L382.1 237.7L384.3 236.9L386.5 236.2L388.9 236.0L391.6 236.6L394.5 237.7L397.5 238.8L400.3 239.3L403.1 238.8L405.9 237.6L408.4 236.4L410.5 235.7L412.0 235.6L413.0 235.9L413.8 236.4L414.5 237.0L415.2 237.4L415.8 237.8L416.4 238.6L417.0 240.0L417.7 242.4L418.4 245.4L419.2 248.8L420.0 252.0L420.8 254.8L421.7 257.6L422.6 260.6L423.4 264.2L424.1 268.8L424.8 274.2L425.4 279.6L425.9 284.5L426.4 288.5L426.7 292.1L427.1 295.5L427.4 299.0L427.7 302.6L428.0 306.1L428.3 309.6L428.6 313.0L428.9 316.3L429.1 319.5L429.4 322.7L429.6 326.0L429.8 329.0L430.0 331.8L430.2 335.2L430.4 340.0L430.7 346.7L431.0 354.9L431.3 363.6L431.6 372.0L431.9 380.7L432.1 389.9L432.4 398.2L432.6 404.0L432.7 407.1L432.8 408.3L433.0 407.6L433.3 405.0L433.9 398.5L434.8 388.7L435.7 379.8L436.5 375.8L437.2 379.5L437.9 388.1L438.4 397.6L438.9 404.0L439.2 406.7L439.3 407.8L439.4 406.9L439.6 404.0L439.9 398.2L440.2 390.0L440.5 380.8L440.8 372.0L441.1 364.1L441.5 356.4L441.9 348.4L442.2 340.0L442.4 330.5L442.6 320.4L442.9 310.5L443.2 302.0L443.7 295.3L444.3 289.7L444.9 284.8L445.5 280.0L446.1 275.2L446.7 270.7L447.2 266.7L447.8 263.2L448.4 260.5L448.9 258.5L449.5 256.8L450.0 255.0L450.5 253.2L450.9 251.6L451.4 250.0L452.0 248.2L452.8 246.2L453.7 244.1L454.7 242.0L455.7 240.2L456.8 238.6L458.0 237.1L459.3 236.0L460.5 235.5L461.7 235.8L463.0 236.8L464.2 237.9L465.5 238.8L466.8 239.4L468.0 239.9L469.2 240.3L470.5 240.3L471.8 239.9L473.0 239.1L474.3 238.2L475.5 237.5L476.7 236.9L477.9 236.4L479.1 236.0L480.3 235.9L481.6 236.3L482.9 237.0L484.3 237.7L485.6 238.3L486.9 238.7L488.3 239.0L489.6 239.1L490.9 239.1L492.2 238.8L493.4 238.4L494.6 237.8L495.8 237.4L497.0 237.0L498.2 236.6L499.5 236.3L500.7 236.2L501.9 236.4L503.1 236.8L504.4 237.3L505.6 237.6L506.8 237.8L508.1 238.0L509.4 238.1L510.6 238.1L511.8 237.9L513.1 237.5L514.3 237.1L515.5 236.8L516.7 236.5L517.9 236.3L519.1 236.2L520.4 236.2L521.7 236.5L523.0 236.9L524.4 237.4L525.7 237.8L527.0 238.1L528.3 238.4L529.6 238.6L531.0 238.6L532.6 238.4L534.4 238.0L536.1 237.6L537.2 237.3" stroke="#d95319"/>
<path d="M320.5 345.8L320.8 345.9L321.3 346.0L321.7 346.1L322.1 346.2L322.5 346.3L322.9 346.4L323.3 346.4L323.7 346.4L324.1 346.4L324.5 346.3L324.9 346.1L325.3 346.0L325.7 345.8L326.1 345.6L326.5 345.4L326.9 345.2L327.3 345.0L327.7 344.8L328.1 344.7L328.5 344.6L328.9 344.6L329.3 344.6L329.7 344.6L330.1 344.7L330.5 344.8L330.9 344.9L331.3 345.0L331.7 345.1L332.1 345.2L332.5 345.2L332.9 345.2L333.3 345.2L333.7 345.2L334.1 345.1L334.5 344.9L334.9 344.7L335.3 344.6L335.7 344.3L336.1 344.1L336.5 344.0L336.9 343.8L337.3 343.6L337.7 343.5L338.1 343.4L338.5 343.4L338.9 343.4L339.3 343.5L339.7 343.5L340.1 343.6L340.5 343.7L340.9 343.8L341.3 343.9L341.7 344.0L342.1 344.0L342.5 344.0L342.9 344.0L343.3 343.9L343.7 343.8L344.1 343.6L344.5 343.5L344.9 343.3L345.3 343.0L345.7 342.8L346.1 342.6L346.5 342.4L346.9 342.3L347.3 342.2L347.7 342.1L348.1 342.1L348.5 342.1L348.9 342.2L349.3 342.2L349.7 342.3L350.1 342.4L350.5 342.5L350.9 342.6L351.3 342.7L351.7 342.7L352.1 342.7L352.5 342.6L352.9 342.6L353.3 342.4L353.7 342.3L354.1 342.1L354.5 341.9L354.9 341.7L355.3 341.4L355.7 341.3L356.1 341.1L356.5 340.9L356.9 340.8L357.3 340.8L357.7 340.8L358.1 340.8L358.5 340.8L358.9 340.9L359.3 341.0L359.7 341.1L360.1 341.2L360.5 341.3L360.9 341.4L361.3 341.4L361.7 341.4L362.1 341.3L362.5 341.2L362.9 341.1L363.3 340.9L363.7 340.7L364.1 340.5L364.5 340.3L364.9 340.1L365.3 339.8L365.7 339.6L366.1 339.4L366.5 339.2L366.9 339.1L367.3 339.1L367.7 339.0L368.1 339.0L368.5 339.0L368.9 339.1L369.3 339.1L369.7 339.1L370.1 339.1L370.5 339.1L370.9 339.1L371.3 339.0L371.7 338.8L372.1 338.6L372.5 338.4L372.9 338.2L373.3 337.9L373.7 337.6L374.1 337.4L374.5 337.1L374.9 336.8L375.3 336.6L375.7 336.4L376.1 336.3L376.5 336.2L376.9 336.1L377.3 336.1L377.7 336.1L378.1 336.1L378.5 336.1L378.9 336.2L379.3 336.2L379.7 336.2L380.1 336.2L380.5 336.1L380.9 336.0L381.3 335.8L381.7 335.7L382.1 335.5L382.5 335.2L382.9 334.9L383.3 334.6L383.7 334.3L384.1 333.9L384.5 333.6L384.9 333.3L385.3 333.0L385.7 332.7L386.1 332.5L386.5 332.3L386.9 332.2L387.3 332.1L387.7 332.0L388.1 331.9L388.5 331.9L388.9 331.8L389.3 331.7L389.7 331.5L390.1 331.3L390.5 331.0L390.9 330.7L391.3 330.4L391.7 330.0L392.1 329.5L392.5 329.1L392.9 328.7L393.3 328.2L393.7 327.8L394.0 327.5L394.4 327.1L394.9 326.7L395.8 326.0L396.9 325.2L398.1 324.4L399.4 323.7L400.7 322.9L402.1 321.6L403.5 319.3L404.8 316.4L406.2 314.0L407.6 312.6L408.9 311.5L410.2 310.3L411.4 308.6L412.5 306.7L413.5 304.6L414.3 302.3L415.1 299.9L415.9 297.5L417.0 295.2L418.2 292.9L419.3 290.5L420.2 288.5L421.1 286.4L421.8 283.0L422.4 277.4L422.9 270.6L423.4 264.2L424.1 258.7L424.8 253.5L425.5 249.0L426.2 245.2L426.9 242.0L427.6 239.5L428.2 237.9L428.9 236.9L429.5 236.3L430.1 235.8L430.8 235.7L431.6 235.8L432.7 236.6L434.0 237.6L435.3 238.2L436.4 237.6L437.5 236.6L438.6 235.8L439.7 235.6L440.8 235.8L441.8 236.3L442.6 237.1L443.3 238.4L443.9 240.5L444.5 244.0L445.1 248.3L445.7 252.5L446.4 256.1L447.0 259.4L447.7 262.9L448.3 266.7L448.9 270.5L449.5 274.0L450.0 276.9L450.4 279.5L450.9 281.8L451.5 283.8L452.2 285.5L452.9 287.1L453.8 288.4L454.7 289.6L455.7 291.2L456.8 293.5L457.9 296.1L459.0 298.5L459.9 300.5L460.6 302.2L461.5 304.0L462.6 305.9L463.8 307.8L465.0 309.5L466.0 310.8L467.0 312.0L468.1 313.2L469.4 314.7L470.8 316.2L472.0 317.5L473.0 318.4L473.9 319.0L474.8 319.8L475.6 320.9L476.4 322.1L477.3 323.2L478.6 324.1L480.0 324.8L481.3 325.5L482.3 326.2L483.2 326.8L484.0 327.5L484.7 328.2L485.4 329.0L486.2 329.6L487.2 330.0L488.3 330.3L489.4 330.7L490.4 331.2L491.5 331.7L492.6 332.3L493.9 333.1L495.4 334.0L496.7 334.6L497.9 334.8L499.0 334.7L500.0 334.8L500.9 335.1L501.8 335.6L502.8 336.2L504.0 337.2L505.3 338.3L506.5 338.9L507.6 338.6L508.7 337.8L509.7 337.4L510.5 337.6L511.2 338.1L512.0 338.9L513.0 340.2L514.0 341.8L515.2 342.6L516.6 341.6L518.1 339.8L519.4 338.9L520.3 339.6L520.9 341.1L521.7 343.1L522.7 346.2L523.8 349.7L524.8 351.4L525.8 349.9L526.7 346.5L527.7 343.1L528.8 339.6L529.9 336.0L530.9 333.9L531.8 334.4L532.5 336.4L533.3 338.5L534.1 340.6L534.9 342.8L535.6 344.5L536.2 345.4L536.8 345.8L537.2 346.0" stroke="#0072bd"/>
</g>
<g fill="none" stroke-width="1.6">
<line x1="365.5" y1="264.5" x2="365.5" y2="249.5" stroke="#d95319" stroke-dasharray="1.4 1.4"/>
<path d="M362 252.6L365.5 247.2L369 252.6" stroke="#d95319"/>
<line x1="365.5" y1="313.6" x2="365.5" y2="327" stroke="#0072bd" stroke-dasharray="1.4 1.4"/>
<path d="M362 323.8L365.5 329.2L369 323.8" stroke="#0072bd"/>
</g>
<text x="342" y="274.6" font-family="Liberation Sans, Arial, sans-serif" font-size="14" fill="#d95319" stroke="#d95319" stroke-width="0.3" textLength="55" lengthAdjust="spacingAndGlyphs">through</text>
<text x="342" y="305.6" font-family="Liberation Sans, Arial, sans-serif" font-size="14.8" fill="#0072bd" stroke="#0072bd" stroke-width="0.3" textLength="47" lengthAdjust="spacingAndGlyphs">output</text>
<g font-family="Liberation Sans, Arial, sans-serif" font-size="9.7" fill="#3a3a3a">
<text x="320.5" y="412.6" text-anchor="middle">1530</text>
<text x="374.7" y="412.6" text-anchor="middle">1540</text>
<text x="428.9" y="412.6" text-anchor="middle">1550</text>
<text x="483.0" y="412.6" text-anchor="middle">1560</text>
<text x="537.2" y="412.6" text-anchor="middle">1570</text>
<text x="316.6" y="239.1" text-anchor="end">0</text>
<text x="316.6" y="265.4" text-anchor="end">-5</text>
<text x="316.6" y="291.7" text-anchor="end">-10</text>
<text x="316.6" y="318.0" text-anchor="end">-15</text>
<text x="316.6" y="344.3" text-anchor="end">-20</text>
<text x="316.6" y="370.6" text-anchor="end">-25</text>
<text x="316.6" y="397.0" text-anchor="end">-30</text>
</g>
<text x="428.6" y="427" text-anchor="middle" font-family="Liberation Sans, Arial, sans-serif" font-size="11" fill="#3a3a3a">Wavelength [nm]</text>
<text transform="translate(298.3,317.1) rotate(-90)" text-anchor="middle" font-family="Liberation Sans, Arial, sans-serif" font-size="11.2" fill="#3a3a3a">Loss [dB]</text>
<text x="282.8" y="209.2" font-family="Liberation Sans, Arial, sans-serif" font-weight="bold" font-size="15.2" fill="#111">(d)</text>
</svg>
</body></html>
